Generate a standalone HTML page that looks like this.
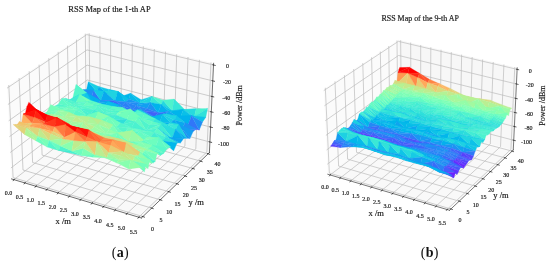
<!DOCTYPE html>
<html><head><meta charset="utf-8"><title>RSS Maps</title>
<style>
html,body{margin:0;padding:0;background:#fff}
svg{display:block}
.g{stroke:#bcbcbc;stroke-width:.75;fill:none}
.a{stroke:#222;stroke-width:.65;fill:none;stroke-linecap:round}
.t{stroke:#111;stroke-width:.7;fill:none}
text{font-family:"Liberation Serif",serif;fill:#1a1a1a;text-anchor:middle;stroke:#1a1a1a;stroke-width:.18px}
.tk{font-size:6px}
.al{font-size:8.5px}
.pw{font-size:8.0px}
.ti{font-size:8.45px}
.cap{font-size:14px;fill:#111;stroke:none;letter-spacing:.25px}
.cap tspan{font-weight:bold}
</style></head><body>
<svg width="550" height="264" viewBox="0 0 550 264">
<rect width="550" height="264" fill="#fff"/>
<g id="plotA">
<polygon points="11.4,178.9 87.7,119.6 86.8,32.8 7.0,86.2" fill="#fbfbfb"/>
<polygon points="87.7,119.6 209.4,152.6 213.6,63.2 86.8,32.8" fill="#f7f7f7"/>
<polygon points="11.4,178.9 141.4,218.0 209.4,152.6 87.7,119.6" fill="#f9f9f9"/>
<line class="g" x1="13.9" y1="179.7" x2="90.1" y2="120.3"/>
<line class="g" x1="90.1" y1="120.3" x2="89.2" y2="33.4"/>
<line class="g" x1="24.8" y1="182.9" x2="100.3" y2="123.0"/>
<line class="g" x1="100.3" y1="123.0" x2="99.9" y2="35.9"/>
<line class="g" x1="35.8" y1="186.2" x2="110.6" y2="125.8"/>
<line class="g" x1="110.6" y1="125.8" x2="110.6" y2="38.5"/>
<line class="g" x1="46.8" y1="189.5" x2="121.0" y2="128.7"/>
<line class="g" x1="121.0" y1="128.7" x2="121.4" y2="41.1"/>
<line class="g" x1="58.0" y1="192.9" x2="131.4" y2="131.5"/>
<line class="g" x1="131.4" y1="131.5" x2="132.3" y2="43.7"/>
<line class="g" x1="69.2" y1="196.3" x2="142.0" y2="134.3"/>
<line class="g" x1="142.0" y1="134.3" x2="143.3" y2="46.3"/>
<line class="g" x1="80.6" y1="199.7" x2="152.6" y2="137.2"/>
<line class="g" x1="152.6" y1="137.2" x2="154.3" y2="49.0"/>
<line class="g" x1="92.0" y1="203.1" x2="163.3" y2="140.1"/>
<line class="g" x1="163.3" y1="140.1" x2="165.5" y2="51.6"/>
<line class="g" x1="103.5" y1="206.6" x2="174.0" y2="143.0"/>
<line class="g" x1="174.0" y1="143.0" x2="176.7" y2="54.3"/>
<line class="g" x1="115.1" y1="210.1" x2="184.9" y2="146.0"/>
<line class="g" x1="184.9" y1="146.0" x2="188.0" y2="57.0"/>
<line class="g" x1="126.9" y1="213.6" x2="195.8" y2="148.9"/>
<line class="g" x1="195.8" y1="148.9" x2="199.4" y2="59.8"/>
<line class="g" x1="138.7" y1="217.2" x2="206.9" y2="151.9"/>
<line class="g" x1="206.9" y1="151.9" x2="211.0" y2="62.5"/>
<line class="g" x1="13.1" y1="177.6" x2="142.9" y2="216.6"/>
<line class="g" x1="13.1" y1="177.6" x2="8.8" y2="85.0"/>
<line class="g" x1="23.0" y1="170.0" x2="151.7" y2="208.1"/>
<line class="g" x1="23.0" y1="170.0" x2="19.1" y2="78.1"/>
<line class="g" x1="32.6" y1="162.5" x2="160.3" y2="199.8"/>
<line class="g" x1="32.6" y1="162.5" x2="29.2" y2="71.3"/>
<line class="g" x1="42.1" y1="155.1" x2="168.8" y2="191.7"/>
<line class="g" x1="42.1" y1="155.1" x2="39.1" y2="64.7"/>
<line class="g" x1="51.3" y1="147.9" x2="177.0" y2="183.8"/>
<line class="g" x1="51.3" y1="147.9" x2="48.8" y2="58.2"/>
<line class="g" x1="60.3" y1="140.9" x2="185.1" y2="176.0"/>
<line class="g" x1="60.3" y1="140.9" x2="58.2" y2="51.9"/>
<line class="g" x1="69.2" y1="134.0" x2="192.9" y2="168.5"/>
<line class="g" x1="69.2" y1="134.0" x2="67.5" y2="45.7"/>
<line class="g" x1="77.8" y1="127.3" x2="200.6" y2="161.1"/>
<line class="g" x1="77.8" y1="127.3" x2="76.5" y2="39.7"/>
<line class="g" x1="86.3" y1="120.7" x2="208.2" y2="153.8"/>
<line class="g" x1="86.3" y1="120.7" x2="85.3" y2="33.7"/>
<line class="g" x1="10.9" y1="168.0" x2="87.6" y2="109.4"/>
<line class="g" x1="87.6" y1="109.4" x2="209.9" y2="142.0"/>
<line class="g" x1="10.2" y1="152.5" x2="87.5" y2="94.8"/>
<line class="g" x1="87.5" y1="94.8" x2="210.6" y2="127.1"/>
<line class="g" x1="9.4" y1="136.7" x2="87.3" y2="80.0"/>
<line class="g" x1="87.3" y1="80.0" x2="211.3" y2="111.9"/>
<line class="g" x1="8.7" y1="120.8" x2="87.1" y2="65.1"/>
<line class="g" x1="87.1" y1="65.1" x2="212.0" y2="96.5"/>
<line class="g" x1="7.9" y1="104.5" x2="87.0" y2="49.9"/>
<line class="g" x1="87.0" y1="49.9" x2="212.8" y2="80.9"/>
<line class="g" x1="7.1" y1="88.1" x2="86.8" y2="34.6"/>
<line class="g" x1="86.8" y1="34.6" x2="213.5" y2="65.0"/>
<line class="a" x1="11.4" y1="178.9" x2="141.4" y2="218.0"/>
<line class="a" x1="141.4" y1="218.0" x2="209.4" y2="152.6"/>
<line class="a" x1="209.4" y1="152.6" x2="213.6" y2="63.2"/>
<line class="t" x1="14.6" y1="178.8" x2="12.9" y2="181.1"/>
<line class="t" x1="25.5" y1="182.0" x2="23.8" y2="184.3"/>
<line class="t" x1="36.5" y1="185.3" x2="34.8" y2="187.6"/>
<line class="t" x1="47.5" y1="188.6" x2="45.8" y2="190.9"/>
<line class="t" x1="58.7" y1="192.0" x2="57.0" y2="194.3"/>
<line class="t" x1="69.9" y1="195.4" x2="68.2" y2="197.7"/>
<line class="t" x1="81.3" y1="198.8" x2="79.6" y2="201.1"/>
<line class="t" x1="92.7" y1="202.2" x2="91.0" y2="204.5"/>
<line class="t" x1="104.2" y1="205.7" x2="102.5" y2="208.0"/>
<line class="t" x1="115.8" y1="209.2" x2="114.1" y2="211.5"/>
<line class="t" x1="127.6" y1="212.7" x2="125.9" y2="215.0"/>
<line class="t" x1="139.4" y1="216.3" x2="137.7" y2="218.6"/>
<line class="t" x1="141.7" y1="216.2" x2="144.9" y2="217.3"/>
<line class="t" x1="150.5" y1="207.7" x2="153.7" y2="208.8"/>
<line class="t" x1="159.1" y1="199.4" x2="162.3" y2="200.5"/>
<line class="t" x1="167.6" y1="191.3" x2="170.8" y2="192.4"/>
<line class="t" x1="175.8" y1="183.4" x2="179.0" y2="184.5"/>
<line class="t" x1="183.9" y1="175.6" x2="187.1" y2="176.7"/>
<line class="t" x1="191.7" y1="168.1" x2="194.9" y2="169.2"/>
<line class="t" x1="199.4" y1="160.7" x2="202.6" y2="161.8"/>
<line class="t" x1="207.0" y1="153.4" x2="210.2" y2="154.5"/>
<line class="t" x1="208.7" y1="141.7" x2="212.1" y2="142.5"/>
<line class="t" x1="209.4" y1="126.8" x2="212.8" y2="127.6"/>
<line class="t" x1="210.1" y1="111.6" x2="213.5" y2="112.4"/>
<line class="t" x1="210.8" y1="96.2" x2="214.2" y2="97.0"/>
<line class="t" x1="211.6" y1="80.6" x2="215.0" y2="81.4"/>
<line class="t" x1="212.3" y1="64.7" x2="215.7" y2="65.5"/>
<polygon points="86.6,89.5 97.0,92.0 88.3,81.8" fill="#01b3ec" stroke="#01b3ec" stroke-width="0.3" stroke-linejoin="round"/>
<polygon points="97.0,92.0 98.7,86.5 88.3,81.8" fill="#1acfe3" stroke="#1acfe3" stroke-width="0.3" stroke-linejoin="round"/>
<polygon points="93.6,90.3 97.0,92.0 86.6,89.5" fill="#0ea5ef" stroke="#0ea5ef" stroke-width="0.3" stroke-linejoin="round"/>
<polygon points="83.2,89.7 93.6,90.3 86.6,89.5" fill="#01b3ec" stroke="#01b3ec" stroke-width="0.3" stroke-linejoin="round"/>
<polygon points="97.0,92.0 107.5,93.5 98.7,86.5" fill="#06aeed" stroke="#06aeed" stroke-width="0.3" stroke-linejoin="round"/>
<polygon points="107.5,93.5 109.2,89.5 98.7,86.5" fill="#12c8e6" stroke="#12c8e6" stroke-width="0.3" stroke-linejoin="round"/>
<polygon points="79.7,92.8 90.2,101.9 83.2,89.7" fill="#2e7bf7" stroke="#2e7bf7" stroke-width="0.3" stroke-linejoin="round"/>
<polygon points="90.2,101.9 93.6,90.3 83.2,89.7" fill="#1e91f3" stroke="#1e91f3" stroke-width="0.3" stroke-linejoin="round"/>
<polygon points="104.1,91.3 107.5,93.5 97.0,92.0" fill="#04b9ea" stroke="#04b9ea" stroke-width="0.3" stroke-linejoin="round"/>
<polygon points="93.6,90.3 104.1,91.3 97.0,92.0" fill="#18cde4" stroke="#18cde4" stroke-width="0.3" stroke-linejoin="round"/>
<polygon points="107.5,93.5 118.1,91.5 109.2,89.5" fill="#1fd3e1" stroke="#1fd3e1" stroke-width="0.3" stroke-linejoin="round"/>
<polygon points="118.1,91.5 119.8,96.9 109.2,89.5" fill="#12c8e6" stroke="#12c8e6" stroke-width="0.3" stroke-linejoin="round"/>
<polygon points="90.2,101.9 100.8,100.6 93.6,90.3" fill="#2e7bf7" stroke="#2e7bf7" stroke-width="0.3" stroke-linejoin="round"/>
<polygon points="104.1,91.3 118.1,91.5 107.5,93.5" fill="#2adddd" stroke="#2adddd" stroke-width="0.3" stroke-linejoin="round"/>
<polygon points="118.1,91.5 128.8,99.0 119.8,96.9" fill="#00b5eb" stroke="#00b5eb" stroke-width="0.3" stroke-linejoin="round"/>
<polygon points="86.7,92.9 90.2,101.9 79.7,92.8" fill="#11a0f1" stroke="#11a0f1" stroke-width="0.3" stroke-linejoin="round"/>
<polygon points="128.8,99.0 130.5,93.2 119.8,96.9" fill="#00b5eb" stroke="#00b5eb" stroke-width="0.3" stroke-linejoin="round"/>
<polygon points="100.8,100.6 104.1,91.3 93.6,90.3" fill="#14cae5" stroke="#14cae5" stroke-width="0.3" stroke-linejoin="round"/>
<polygon points="104.1,91.3 114.8,100.7 118.1,91.5" fill="#1fd3e1" stroke="#1fd3e1" stroke-width="0.3" stroke-linejoin="round"/>
<polygon points="86.7,92.9 100.8,100.6 90.2,101.9" fill="#208ef4" stroke="#208ef4" stroke-width="0.3" stroke-linejoin="round"/>
<polygon points="100.8,100.6 114.8,100.7 104.1,91.3" fill="#09a9ee" stroke="#09a9ee" stroke-width="0.3" stroke-linejoin="round"/>
<polygon points="76.0,84.6 86.7,92.9 79.7,92.8" fill="#58f8c9" stroke="#58f8c9" stroke-width="0.3" stroke-linejoin="round"/>
<polygon points="114.8,100.7 125.5,101.9 118.1,91.5" fill="#00b5eb" stroke="#00b5eb" stroke-width="0.3" stroke-linejoin="round"/>
<polygon points="125.5,101.9 128.8,99.0 118.1,91.5" fill="#0ac0e8" stroke="#0ac0e8" stroke-width="0.3" stroke-linejoin="round"/>
<polygon points="100.8,100.6 111.4,105.0 114.8,100.7" fill="#3e65fa" stroke="#3e65fa" stroke-width="0.3" stroke-linejoin="round"/>
<polygon points="128.8,99.0 139.5,102.9 130.5,93.2" fill="#04b9ea" stroke="#04b9ea" stroke-width="0.3" stroke-linejoin="round"/>
<polygon points="139.5,102.9 141.1,99.7 130.5,93.2" fill="#08bee9" stroke="#08bee9" stroke-width="0.3" stroke-linejoin="round"/>
<polygon points="125.5,101.9 139.5,102.9 128.8,99.0" fill="#1996f3" stroke="#1996f3" stroke-width="0.3" stroke-linejoin="round"/>
<polygon points="86.7,92.9 97.3,102.9 100.8,100.6" fill="#04b0ed" stroke="#04b0ed" stroke-width="0.3" stroke-linejoin="round"/>
<polygon points="72.7,98.3 86.7,92.9 76.0,84.6" fill="#56f7ca" stroke="#56f7ca" stroke-width="0.3" stroke-linejoin="round"/>
<polygon points="111.4,105.0 122.1,105.8 114.8,100.7" fill="#3c68f9" stroke="#3c68f9" stroke-width="0.3" stroke-linejoin="round"/>
<polygon points="122.1,105.8 125.5,101.9 114.8,100.7" fill="#2884f6" stroke="#2884f6" stroke-width="0.3" stroke-linejoin="round"/>
<polygon points="72.7,98.3 83.2,99.7 86.7,92.9" fill="#1acfe3" stroke="#1acfe3" stroke-width="0.3" stroke-linejoin="round"/>
<polygon points="108.0,101.3 111.4,105.0 100.8,100.6" fill="#208ef4" stroke="#208ef4" stroke-width="0.3" stroke-linejoin="round"/>
<polygon points="139.5,102.9 152.1,96.4 141.1,99.7" fill="#18cde4" stroke="#18cde4" stroke-width="0.3" stroke-linejoin="round"/>
<polygon points="97.3,102.9 108.0,101.3 100.8,100.6" fill="#149df1" stroke="#149df1" stroke-width="0.3" stroke-linejoin="round"/>
<polygon points="125.5,101.9 136.2,105.4 139.5,102.9" fill="#208ef4" stroke="#208ef4" stroke-width="0.3" stroke-linejoin="round"/>
<polygon points="93.9,105.3 97.3,102.9 86.7,92.9" fill="#00b5eb" stroke="#00b5eb" stroke-width="0.3" stroke-linejoin="round"/>
<polygon points="83.2,99.7 93.9,105.3 86.7,92.9" fill="#12c8e6" stroke="#12c8e6" stroke-width="0.3" stroke-linejoin="round"/>
<polygon points="136.2,105.4 150.4,102.5 139.5,102.9" fill="#11a0f1" stroke="#11a0f1" stroke-width="0.3" stroke-linejoin="round"/>
<polygon points="139.5,102.9 150.4,102.5 152.1,96.4" fill="#20d5e1" stroke="#20d5e1" stroke-width="0.3" stroke-linejoin="round"/>
<polygon points="108.0,101.3 122.1,105.8 111.4,105.0" fill="#208ef4" stroke="#208ef4" stroke-width="0.3" stroke-linejoin="round"/>
<polygon points="79.6,94.6 83.2,99.7 72.7,98.3" fill="#30e1da" stroke="#30e1da" stroke-width="0.3" stroke-linejoin="round"/>
<polygon points="69.1,100.1 79.6,94.6 72.7,98.3" fill="#2ddedc" stroke="#2ddedc" stroke-width="0.3" stroke-linejoin="round"/>
<polygon points="132.9,109.4 136.2,105.4 125.5,101.9" fill="#2686f5" stroke="#2686f5" stroke-width="0.3" stroke-linejoin="round"/>
<polygon points="122.1,105.8 132.9,109.4 125.5,101.9" fill="#2981f6" stroke="#2981f6" stroke-width="0.3" stroke-linejoin="round"/>
<polygon points="93.9,105.3 108.0,101.3 97.3,102.9" fill="#11a0f1" stroke="#11a0f1" stroke-width="0.3" stroke-linejoin="round"/>
<polygon points="136.2,105.4 147.1,108.5 150.4,102.5" fill="#11a0f1" stroke="#11a0f1" stroke-width="0.3" stroke-linejoin="round"/>
<polygon points="150.4,102.5 161.3,104.4 152.1,96.4" fill="#3ae8d6" stroke="#3ae8d6" stroke-width="0.3" stroke-linejoin="round"/>
<polygon points="108.0,101.3 118.8,105.8 122.1,105.8" fill="#01b3ec" stroke="#01b3ec" stroke-width="0.3" stroke-linejoin="round"/>
<polygon points="90.3,100.4 93.9,105.3 83.2,99.7" fill="#14cae5" stroke="#14cae5" stroke-width="0.3" stroke-linejoin="round"/>
<polygon points="93.9,105.3 104.6,106.6 108.0,101.3" fill="#06aeed" stroke="#06aeed" stroke-width="0.3" stroke-linejoin="round"/>
<polygon points="161.3,104.4 163.0,100.2 152.1,96.4" fill="#50f4cc" stroke="#50f4cc" stroke-width="0.3" stroke-linejoin="round"/>
<polygon points="147.1,108.5 158.0,112.7 150.4,102.5" fill="#1c93f3" stroke="#1c93f3" stroke-width="0.3" stroke-linejoin="round"/>
<polygon points="132.9,109.4 143.8,110.9 136.2,105.4" fill="#2981f6" stroke="#2981f6" stroke-width="0.3" stroke-linejoin="round"/>
<polygon points="143.8,110.9 147.1,108.5 136.2,105.4" fill="#2489f5" stroke="#2489f5" stroke-width="0.3" stroke-linejoin="round"/>
<polygon points="129.6,111.8 132.9,109.4 122.1,105.8" fill="#3473f8" stroke="#3473f8" stroke-width="0.3" stroke-linejoin="round"/>
<polygon points="65.4,98.3 76.1,102.6 69.1,100.1" fill="#2ddedc" stroke="#2ddedc" stroke-width="0.3" stroke-linejoin="round"/>
<polygon points="158.0,112.7 161.3,104.4 150.4,102.5" fill="#01b3ec" stroke="#01b3ec" stroke-width="0.3" stroke-linejoin="round"/>
<polygon points="76.1,102.6 79.6,94.6 69.1,100.1" fill="#42edd3" stroke="#42edd3" stroke-width="0.3" stroke-linejoin="round"/>
<polygon points="118.8,105.8 129.6,111.8 122.1,105.8" fill="#208ef4" stroke="#208ef4" stroke-width="0.3" stroke-linejoin="round"/>
<polygon points="79.6,94.6 90.3,100.4 83.2,99.7" fill="#56f7ca" stroke="#56f7ca" stroke-width="0.3" stroke-linejoin="round"/>
<polygon points="104.6,106.6 118.8,105.8 108.0,101.3" fill="#08bee9" stroke="#08bee9" stroke-width="0.3" stroke-linejoin="round"/>
<polygon points="90.3,100.4 104.6,106.6 93.9,105.3" fill="#0fc4e7" stroke="#0fc4e7" stroke-width="0.3" stroke-linejoin="round"/>
<polygon points="161.3,104.4 172.2,110.7 163.0,100.2" fill="#24d8df" stroke="#24d8df" stroke-width="0.3" stroke-linejoin="round"/>
<polygon points="143.8,110.9 158.0,112.7 147.1,108.5" fill="#2e7bf7" stroke="#2e7bf7" stroke-width="0.3" stroke-linejoin="round"/>
<polygon points="129.6,111.8 143.8,110.9 132.9,109.4" fill="#3176f8" stroke="#3176f8" stroke-width="0.3" stroke-linejoin="round"/>
<polygon points="104.6,106.6 115.4,111.0 118.8,105.8" fill="#11a0f1" stroke="#11a0f1" stroke-width="0.3" stroke-linejoin="round"/>
<polygon points="172.2,110.7 174.1,99.1 163.0,100.2" fill="#4ef3cd" stroke="#4ef3cd" stroke-width="0.3" stroke-linejoin="round"/>
<polygon points="115.4,111.0 129.6,111.8 118.8,105.8" fill="#1e91f3" stroke="#1e91f3" stroke-width="0.3" stroke-linejoin="round"/>
<polygon points="61.8,98.8 76.1,102.6 65.4,98.3" fill="#54f6cb" stroke="#54f6cb" stroke-width="0.3" stroke-linejoin="round"/>
<polygon points="158.0,112.7 169.1,111.5 161.3,104.4" fill="#04b0ed" stroke="#04b0ed" stroke-width="0.3" stroke-linejoin="round"/>
<polygon points="169.1,111.5 172.2,110.7 161.3,104.4" fill="#08bee9" stroke="#08bee9" stroke-width="0.3" stroke-linejoin="round"/>
<polygon points="143.8,110.9 154.7,117.2 158.0,112.7" fill="#4062fa" stroke="#4062fa" stroke-width="0.3" stroke-linejoin="round"/>
<polygon points="90.3,100.4 101.1,104.1 104.6,106.6" fill="#37e6d8" stroke="#37e6d8" stroke-width="0.3" stroke-linejoin="round"/>
<polygon points="172.2,110.7 184.9,109.7 174.1,99.1" fill="#37e6d8" stroke="#37e6d8" stroke-width="0.3" stroke-linejoin="round"/>
<polygon points="76.1,102.6 86.8,101.9 79.6,94.6" fill="#6afdc0" stroke="#6afdc0" stroke-width="0.3" stroke-linejoin="round"/>
<polygon points="86.8,101.9 90.3,100.4 79.6,94.6" fill="#7affb7" stroke="#7affb7" stroke-width="0.3" stroke-linejoin="round"/>
<polygon points="115.4,111.0 126.2,114.4 129.6,111.8" fill="#3079f7" stroke="#3079f7" stroke-width="0.3" stroke-linejoin="round"/>
<polygon points="154.7,117.2 169.1,111.5 158.0,112.7" fill="#3176f8" stroke="#3176f8" stroke-width="0.3" stroke-linejoin="round"/>
<polygon points="129.6,111.8 140.6,109.8 143.8,110.9" fill="#11a0f1" stroke="#11a0f1" stroke-width="0.3" stroke-linejoin="round"/>
<polygon points="172.2,110.7 183.4,109.6 184.9,109.7" fill="#10c6e6" stroke="#10c6e6" stroke-width="0.3" stroke-linejoin="round"/>
<polygon points="111.9,106.3 115.4,111.0 104.6,106.6" fill="#0dc2e8" stroke="#0dc2e8" stroke-width="0.3" stroke-linejoin="round"/>
<polygon points="61.8,98.8 72.5,104.5 76.1,102.6" fill="#50f4cc" stroke="#50f4cc" stroke-width="0.3" stroke-linejoin="round"/>
<polygon points="140.6,109.8 154.7,117.2 143.8,110.9" fill="#208ef4" stroke="#208ef4" stroke-width="0.3" stroke-linejoin="round"/>
<polygon points="169.1,111.5 183.4,109.6 172.2,110.7" fill="#0dc2e8" stroke="#0dc2e8" stroke-width="0.3" stroke-linejoin="round"/>
<polygon points="126.2,114.4 140.6,109.8 129.6,111.8" fill="#1898f2" stroke="#1898f2" stroke-width="0.3" stroke-linejoin="round"/>
<polygon points="101.1,104.1 111.9,106.3 104.6,106.6" fill="#37e6d8" stroke="#37e6d8" stroke-width="0.3" stroke-linejoin="round"/>
<polygon points="72.5,104.5 86.8,101.9 76.1,102.6" fill="#50f4cc" stroke="#50f4cc" stroke-width="0.3" stroke-linejoin="round"/>
<polygon points="86.8,101.9 101.1,104.1 90.3,100.4" fill="#62fbc4" stroke="#62fbc4" stroke-width="0.3" stroke-linejoin="round"/>
<polygon points="111.9,106.3 126.2,114.4 115.4,111.0" fill="#00b5eb" stroke="#00b5eb" stroke-width="0.3" stroke-linejoin="round"/>
<polygon points="183.4,109.6 196.2,108.8 184.9,109.7" fill="#37e6d8" stroke="#37e6d8" stroke-width="0.3" stroke-linejoin="round"/>
<polygon points="154.7,117.2 165.9,114.1 169.1,111.5" fill="#1898f2" stroke="#1898f2" stroke-width="0.3" stroke-linejoin="round"/>
<polygon points="169.1,111.5 180.1,118.3 183.4,109.6" fill="#00b5eb" stroke="#00b5eb" stroke-width="0.3" stroke-linejoin="round"/>
<polygon points="140.6,109.8 151.5,117.2 154.7,117.2" fill="#2489f5" stroke="#2489f5" stroke-width="0.3" stroke-linejoin="round"/>
<polygon points="68.8,105.7 72.5,104.5 61.8,98.8" fill="#5efac6" stroke="#5efac6" stroke-width="0.3" stroke-linejoin="round"/>
<polygon points="58.2,104.3 68.8,105.7 61.8,98.8" fill="#5efac6" stroke="#5efac6" stroke-width="0.3" stroke-linejoin="round"/>
<polygon points="151.5,117.2 165.9,114.1 154.7,117.2" fill="#2c7ef7" stroke="#2c7ef7" stroke-width="0.3" stroke-linejoin="round"/>
<polygon points="86.8,101.9 97.6,105.4 101.1,104.1" fill="#66fcc2" stroke="#66fcc2" stroke-width="0.3" stroke-linejoin="round"/>
<polygon points="183.4,109.6 194.4,116.4 196.2,108.8" fill="#27dade" stroke="#27dade" stroke-width="0.3" stroke-linejoin="round"/>
<polygon points="165.9,114.1 180.1,118.3 169.1,111.5" fill="#0ca7ef" stroke="#0ca7ef" stroke-width="0.3" stroke-linejoin="round"/>
<polygon points="72.5,104.5 83.2,106.0 86.8,101.9" fill="#5df9c7" stroke="#5df9c7" stroke-width="0.3" stroke-linejoin="round"/>
<polygon points="126.2,114.4 137.3,109.9 140.6,109.8" fill="#17cbe4" stroke="#17cbe4" stroke-width="0.3" stroke-linejoin="round"/>
<polygon points="83.2,106.0 97.6,105.4 86.8,101.9" fill="#6afdc0" stroke="#6afdc0" stroke-width="0.3" stroke-linejoin="round"/>
<polygon points="180.1,118.3 191.5,115.7 183.4,109.6" fill="#0ac0e8" stroke="#0ac0e8" stroke-width="0.3" stroke-linejoin="round"/>
<polygon points="108.5,110.3 111.9,106.3 101.1,104.1" fill="#52f5cb" stroke="#52f5cb" stroke-width="0.3" stroke-linejoin="round"/>
<polygon points="191.5,115.7 194.4,116.4 183.4,109.6" fill="#17cbe4" stroke="#17cbe4" stroke-width="0.3" stroke-linejoin="round"/>
<polygon points="54.5,106.3 68.8,105.7 58.2,104.3" fill="#50f4cc" stroke="#50f4cc" stroke-width="0.3" stroke-linejoin="round"/>
<polygon points="137.3,109.9 151.5,117.2 140.6,109.8" fill="#18cde4" stroke="#18cde4" stroke-width="0.3" stroke-linejoin="round"/>
<polygon points="97.6,105.4 108.5,110.3 101.1,104.1" fill="#56f7ca" stroke="#56f7ca" stroke-width="0.3" stroke-linejoin="round"/>
<polygon points="111.9,106.3 122.9,107.7 126.2,114.4" fill="#37e6d8" stroke="#37e6d8" stroke-width="0.3" stroke-linejoin="round"/>
<polygon points="194.4,116.4 207.6,108.4 196.2,108.8" fill="#48f1d0" stroke="#48f1d0" stroke-width="0.3" stroke-linejoin="round"/>
<polygon points="79.6,108.6 83.2,106.0 72.5,104.5" fill="#54f6cb" stroke="#54f6cb" stroke-width="0.3" stroke-linejoin="round"/>
<polygon points="68.8,105.7 79.6,108.6 72.5,104.5" fill="#56f7ca" stroke="#56f7ca" stroke-width="0.3" stroke-linejoin="round"/>
<polygon points="165.9,114.1 177.1,115.9 180.1,118.3" fill="#04b0ed" stroke="#04b0ed" stroke-width="0.3" stroke-linejoin="round"/>
<polygon points="151.5,117.2 162.7,114.5 165.9,114.1" fill="#07bbea" stroke="#07bbea" stroke-width="0.3" stroke-linejoin="round"/>
<polygon points="133.9,113.9 137.3,109.9 126.2,114.4" fill="#1fd3e1" stroke="#1fd3e1" stroke-width="0.3" stroke-linejoin="round"/>
<polygon points="83.2,106.0 94.1,109.7 97.6,105.4" fill="#5df9c7" stroke="#5df9c7" stroke-width="0.3" stroke-linejoin="round"/>
<polygon points="191.5,115.7 205.8,117.2 194.4,116.4" fill="#0dc2e8" stroke="#0dc2e8" stroke-width="0.3" stroke-linejoin="round"/>
<polygon points="194.4,116.4 205.8,117.2 207.6,108.4" fill="#30e1da" stroke="#30e1da" stroke-width="0.3" stroke-linejoin="round"/>
<polygon points="137.3,109.9 148.2,117.8 151.5,117.2" fill="#0ac0e8" stroke="#0ac0e8" stroke-width="0.3" stroke-linejoin="round"/>
<polygon points="122.9,107.7 133.9,113.9 126.2,114.4" fill="#2ddedc" stroke="#2ddedc" stroke-width="0.3" stroke-linejoin="round"/>
<polygon points="177.1,115.9 191.5,115.7 180.1,118.3" fill="#04b9ea" stroke="#04b9ea" stroke-width="0.3" stroke-linejoin="round"/>
<polygon points="108.5,110.3 122.9,107.7 111.9,106.3" fill="#5efac6" stroke="#5efac6" stroke-width="0.3" stroke-linejoin="round"/>
<polygon points="54.5,106.3 65.2,108.1 68.8,105.7" fill="#5df9c7" stroke="#5df9c7" stroke-width="0.3" stroke-linejoin="round"/>
<polygon points="148.2,117.8 162.7,114.5 151.5,117.2" fill="#00b5eb" stroke="#00b5eb" stroke-width="0.3" stroke-linejoin="round"/>
<polygon points="79.6,108.6 94.1,109.7 83.2,106.0" fill="#58f8c9" stroke="#58f8c9" stroke-width="0.3" stroke-linejoin="round"/>
<polygon points="162.7,114.5 177.1,115.9 165.9,114.1" fill="#22d6e0" stroke="#22d6e0" stroke-width="0.3" stroke-linejoin="round"/>
<polygon points="105.0,112.9 108.5,110.3 97.6,105.4" fill="#52f5cb" stroke="#52f5cb" stroke-width="0.3" stroke-linejoin="round"/>
<polygon points="94.1,109.7 105.0,112.9 97.6,105.4" fill="#54f6cb" stroke="#54f6cb" stroke-width="0.3" stroke-linejoin="round"/>
<polygon points="191.5,115.7 202.6,121.9 205.8,117.2" fill="#0dc2e8" stroke="#0dc2e8" stroke-width="0.3" stroke-linejoin="round"/>
<polygon points="177.1,115.9 188.1,124.9 191.5,115.7" fill="#01b3ec" stroke="#01b3ec" stroke-width="0.3" stroke-linejoin="round"/>
<polygon points="108.5,110.3 119.4,111.5 122.9,107.7" fill="#60fac5" stroke="#60fac5" stroke-width="0.3" stroke-linejoin="round"/>
<polygon points="76.0,110.1 79.6,108.6 68.8,105.7" fill="#66fcc2" stroke="#66fcc2" stroke-width="0.3" stroke-linejoin="round"/>
<polygon points="65.2,108.1 76.0,110.1 68.8,105.7" fill="#68fcc1" stroke="#68fcc1" stroke-width="0.3" stroke-linejoin="round"/>
<polygon points="79.6,108.6 90.5,114.0 94.1,109.7" fill="#4af2cf" stroke="#4af2cf" stroke-width="0.3" stroke-linejoin="round"/>
<polygon points="61.4,109.8 65.2,108.1 54.5,106.3" fill="#64fbc3" stroke="#64fbc3" stroke-width="0.3" stroke-linejoin="round"/>
<polygon points="148.2,117.8 159.3,122.5 162.7,114.5" fill="#04b9ea" stroke="#04b9ea" stroke-width="0.3" stroke-linejoin="round"/>
<polygon points="162.7,114.5 173.9,120.0 177.1,115.9" fill="#20d5e1" stroke="#20d5e1" stroke-width="0.3" stroke-linejoin="round"/>
<polygon points="188.1,124.9 199.3,130.0 191.5,115.7" fill="#3176f8" stroke="#3176f8" stroke-width="0.3" stroke-linejoin="round"/>
<polygon points="119.4,111.5 133.9,113.9 122.9,107.7" fill="#5efac6" stroke="#5efac6" stroke-width="0.3" stroke-linejoin="round"/>
<polygon points="145.0,113.7 148.2,117.8 137.3,109.9" fill="#40ecd4" stroke="#40ecd4" stroke-width="0.3" stroke-linejoin="round"/>
<polygon points="50.6,104.8 61.4,109.8 54.5,106.3" fill="#76ffb9" stroke="#76ffb9" stroke-width="0.3" stroke-linejoin="round"/>
<polygon points="199.3,130.0 202.6,121.9 191.5,115.7" fill="#208ef4" stroke="#208ef4" stroke-width="0.3" stroke-linejoin="round"/>
<polygon points="105.0,112.9 119.4,111.5 108.5,110.3" fill="#50f4cc" stroke="#50f4cc" stroke-width="0.3" stroke-linejoin="round"/>
<polygon points="90.5,114.0 105.0,112.9 94.1,109.7" fill="#42edd3" stroke="#42edd3" stroke-width="0.3" stroke-linejoin="round"/>
<polygon points="133.9,113.9 145.0,113.7 137.3,109.9" fill="#56f7ca" stroke="#56f7ca" stroke-width="0.3" stroke-linejoin="round"/>
<polygon points="185.1,122.8 188.1,124.9 177.1,115.9" fill="#09a9ee" stroke="#09a9ee" stroke-width="0.3" stroke-linejoin="round"/>
<polygon points="145.0,113.7 159.3,122.5 148.2,117.8" fill="#18cde4" stroke="#18cde4" stroke-width="0.3" stroke-linejoin="round"/>
<polygon points="173.9,120.0 185.1,122.8 177.1,115.9" fill="#12c8e6" stroke="#12c8e6" stroke-width="0.3" stroke-linejoin="round"/>
<polygon points="86.9,115.4 90.5,114.0 79.6,108.6" fill="#48f1d0" stroke="#48f1d0" stroke-width="0.3" stroke-linejoin="round"/>
<polygon points="159.3,122.5 170.6,122.5 162.7,114.5" fill="#0ac0e8" stroke="#0ac0e8" stroke-width="0.3" stroke-linejoin="round"/>
<polygon points="61.4,109.8 76.0,110.1 65.2,108.1" fill="#70febc" stroke="#70febc" stroke-width="0.3" stroke-linejoin="round"/>
<polygon points="170.6,122.5 173.9,120.0 162.7,114.5" fill="#1acfe3" stroke="#1acfe3" stroke-width="0.3" stroke-linejoin="round"/>
<polygon points="76.0,110.1 86.9,115.4 79.6,108.6" fill="#5efac6" stroke="#5efac6" stroke-width="0.3" stroke-linejoin="round"/>
<polygon points="47.0,112.0 61.4,109.8 50.6,104.8" fill="#76ffb9" stroke="#76ffb9" stroke-width="0.3" stroke-linejoin="round"/>
<polygon points="90.5,114.0 101.5,115.6 105.0,112.9" fill="#42edd3" stroke="#42edd3" stroke-width="0.3" stroke-linejoin="round"/>
<polygon points="105.0,112.9 116.0,114.9 119.4,111.5" fill="#56f7ca" stroke="#56f7ca" stroke-width="0.3" stroke-linejoin="round"/>
<polygon points="196.4,129.2 199.3,130.0 188.1,124.9" fill="#504afc" stroke="#504afc" stroke-width="0.3" stroke-linejoin="round"/>
<polygon points="119.4,111.5 130.6,109.3 133.9,113.9" fill="#76ffb9" stroke="#76ffb9" stroke-width="0.3" stroke-linejoin="round"/>
<polygon points="101.5,115.6 116.0,114.9 105.0,112.9" fill="#4ef3cd" stroke="#4ef3cd" stroke-width="0.3" stroke-linejoin="round"/>
<polygon points="185.1,122.8 196.4,129.2 188.1,124.9" fill="#2686f5" stroke="#2686f5" stroke-width="0.3" stroke-linejoin="round"/>
<polygon points="86.9,115.4 101.5,115.6 90.5,114.0" fill="#42edd3" stroke="#42edd3" stroke-width="0.3" stroke-linejoin="round"/>
<polygon points="61.4,109.8 72.3,114.9 76.0,110.1" fill="#68fcc1" stroke="#68fcc1" stroke-width="0.3" stroke-linejoin="round"/>
<polygon points="141.6,118.4 145.0,113.7 133.9,113.9" fill="#56f7ca" stroke="#56f7ca" stroke-width="0.3" stroke-linejoin="round"/>
<polygon points="145.0,113.7 156.2,119.3 159.3,122.5" fill="#32e3da" stroke="#32e3da" stroke-width="0.3" stroke-linejoin="round"/>
<polygon points="116.0,114.9 130.6,109.3 119.4,111.5" fill="#7effb5" stroke="#7effb5" stroke-width="0.3" stroke-linejoin="round"/>
<polygon points="181.8,129.1 185.1,122.8 173.9,120.0" fill="#09a9ee" stroke="#09a9ee" stroke-width="0.3" stroke-linejoin="round"/>
<polygon points="47.0,112.0 57.7,111.1 61.4,109.8" fill="#72febb" stroke="#72febb" stroke-width="0.3" stroke-linejoin="round"/>
<polygon points="170.6,122.5 181.8,129.1 173.9,120.0" fill="#09a9ee" stroke="#09a9ee" stroke-width="0.3" stroke-linejoin="round"/>
<polygon points="72.3,114.9 86.9,115.4 76.0,110.1" fill="#5af8c8" stroke="#5af8c8" stroke-width="0.3" stroke-linejoin="round"/>
<polygon points="130.6,109.3 141.6,118.4 133.9,113.9" fill="#70febc" stroke="#70febc" stroke-width="0.3" stroke-linejoin="round"/>
<polygon points="167.4,124.7 170.6,122.5 159.3,122.5" fill="#00b5eb" stroke="#00b5eb" stroke-width="0.3" stroke-linejoin="round"/>
<polygon points="156.2,119.3 167.4,124.7 159.3,122.5" fill="#12c8e6" stroke="#12c8e6" stroke-width="0.3" stroke-linejoin="round"/>
<polygon points="101.5,115.6 112.5,120.1 116.0,114.9" fill="#46efd1" stroke="#46efd1" stroke-width="0.3" stroke-linejoin="round"/>
<polygon points="181.8,129.1 196.4,129.2 185.1,122.8" fill="#1e91f3" stroke="#1e91f3" stroke-width="0.3" stroke-linejoin="round"/>
<polygon points="116.0,114.9 127.1,119.3 130.6,109.3" fill="#72febb" stroke="#72febb" stroke-width="0.3" stroke-linejoin="round"/>
<polygon points="141.6,118.4 156.2,119.3 145.0,113.7" fill="#5af8c8" stroke="#5af8c8" stroke-width="0.3" stroke-linejoin="round"/>
<polygon points="112.5,120.1 127.1,119.3 116.0,114.9" fill="#42edd3" stroke="#42edd3" stroke-width="0.3" stroke-linejoin="round"/>
<polygon points="68.6,112.2 72.3,114.9 61.4,109.8" fill="#7effb5" stroke="#7effb5" stroke-width="0.3" stroke-linejoin="round"/>
<polygon points="43.2,113.8 53.9,114.5 47.0,112.0" fill="#66fcc2" stroke="#66fcc2" stroke-width="0.3" stroke-linejoin="round"/>
<polygon points="72.3,114.9 83.3,116.0 86.9,115.4" fill="#5af8c8" stroke="#5af8c8" stroke-width="0.3" stroke-linejoin="round"/>
<polygon points="86.9,115.4 97.9,111.8 101.5,115.6" fill="#72febb" stroke="#72febb" stroke-width="0.3" stroke-linejoin="round"/>
<polygon points="53.9,114.5 57.7,111.1 47.0,112.0" fill="#76ffb9" stroke="#76ffb9" stroke-width="0.3" stroke-linejoin="round"/>
<polygon points="127.1,119.3 141.6,118.4 130.6,109.3" fill="#70febc" stroke="#70febc" stroke-width="0.3" stroke-linejoin="round"/>
<polygon points="57.7,111.1 68.6,112.2 61.4,109.8" fill="#92fda9" stroke="#92fda9" stroke-width="0.3" stroke-linejoin="round"/>
<polygon points="97.9,111.8 112.5,120.1 101.5,115.6" fill="#68fcc1" stroke="#68fcc1" stroke-width="0.3" stroke-linejoin="round"/>
<polygon points="181.8,129.1 193.3,131.2 196.4,129.2" fill="#2c7ef7" stroke="#2c7ef7" stroke-width="0.3" stroke-linejoin="round"/>
<polygon points="141.6,118.4 152.9,121.8 156.2,119.3" fill="#4df3ce" stroke="#4df3ce" stroke-width="0.3" stroke-linejoin="round"/>
<polygon points="112.5,120.1 123.6,124.0 127.1,119.3" fill="#2fe0db" stroke="#2fe0db" stroke-width="0.3" stroke-linejoin="round"/>
<polygon points="178.9,124.4 181.8,129.1 170.6,122.5" fill="#10c6e6" stroke="#10c6e6" stroke-width="0.3" stroke-linejoin="round"/>
<polygon points="152.9,121.8 167.4,124.7 156.2,119.3" fill="#38e7d7" stroke="#38e7d7" stroke-width="0.3" stroke-linejoin="round"/>
<polygon points="83.3,116.0 94.3,122.3 86.9,115.4" fill="#50f4cc" stroke="#50f4cc" stroke-width="0.3" stroke-linejoin="round"/>
<polygon points="127.1,119.3 138.3,117.4 141.6,118.4" fill="#62fbc4" stroke="#62fbc4" stroke-width="0.3" stroke-linejoin="round"/>
<polygon points="94.3,122.3 97.9,111.8 86.9,115.4" fill="#6afdc0" stroke="#6afdc0" stroke-width="0.3" stroke-linejoin="round"/>
<polygon points="167.4,124.7 178.9,124.4 170.6,122.5" fill="#2adddd" stroke="#2adddd" stroke-width="0.3" stroke-linejoin="round"/>
<polygon points="39.3,115.4 53.9,114.5 43.2,113.8" fill="#72febb" stroke="#72febb" stroke-width="0.3" stroke-linejoin="round"/>
<polygon points="79.6,116.9 83.3,116.0 72.3,114.9" fill="#72febb" stroke="#72febb" stroke-width="0.3" stroke-linejoin="round"/>
<polygon points="138.3,117.4 152.9,121.8 141.6,118.4" fill="#66fcc2" stroke="#66fcc2" stroke-width="0.3" stroke-linejoin="round"/>
<polygon points="68.6,112.2 79.6,116.9 72.3,114.9" fill="#86ffb0" stroke="#86ffb0" stroke-width="0.3" stroke-linejoin="round"/>
<polygon points="178.9,124.4 193.3,131.2 181.8,129.1" fill="#00b5eb" stroke="#00b5eb" stroke-width="0.3" stroke-linejoin="round"/>
<polygon points="97.9,111.8 109.0,116.5 112.5,120.1" fill="#84ffb2" stroke="#84ffb2" stroke-width="0.3" stroke-linejoin="round"/>
<polygon points="152.9,121.8 164.1,127.0 167.4,124.7" fill="#2fe0db" stroke="#2fe0db" stroke-width="0.3" stroke-linejoin="round"/>
<polygon points="53.9,114.5 64.9,117.1 57.7,111.1" fill="#8cfead" stroke="#8cfead" stroke-width="0.3" stroke-linejoin="round"/>
<polygon points="64.9,117.1 68.6,112.2 57.7,111.1" fill="#9bfba5" stroke="#9bfba5" stroke-width="0.3" stroke-linejoin="round"/>
<polygon points="120.1,122.9 123.6,124.0 112.5,120.1" fill="#3ae8d6" stroke="#3ae8d6" stroke-width="0.3" stroke-linejoin="round"/>
<polygon points="123.6,124.0 134.9,121.6 127.1,119.3" fill="#48f1d0" stroke="#48f1d0" stroke-width="0.3" stroke-linejoin="round"/>
<polygon points="134.9,121.6 138.3,117.4 127.1,119.3" fill="#70febc" stroke="#70febc" stroke-width="0.3" stroke-linejoin="round"/>
<polygon points="94.3,122.3 109.0,116.5 97.9,111.8" fill="#88ffaf" stroke="#88ffaf" stroke-width="0.3" stroke-linejoin="round"/>
<polygon points="109.0,116.5 120.1,122.9 112.5,120.1" fill="#66fcc2" stroke="#66fcc2" stroke-width="0.3" stroke-linejoin="round"/>
<polygon points="178.9,124.4 189.9,138.6 193.3,131.2" fill="#149df1" stroke="#149df1" stroke-width="0.3" stroke-linejoin="round"/>
<polygon points="138.3,117.4 149.5,125.0 152.9,121.8" fill="#62fbc4" stroke="#62fbc4" stroke-width="0.3" stroke-linejoin="round"/>
<polygon points="39.3,115.4 50.1,114.3 53.9,114.5" fill="#92fda9" stroke="#92fda9" stroke-width="0.3" stroke-linejoin="round"/>
<polygon points="164.1,127.0 175.6,129.3 167.4,124.7" fill="#24d8df" stroke="#24d8df" stroke-width="0.3" stroke-linejoin="round"/>
<polygon points="175.6,129.3 178.9,124.4 167.4,124.7" fill="#37e6d8" stroke="#37e6d8" stroke-width="0.3" stroke-linejoin="round"/>
<polygon points="90.6,117.2 94.3,122.3 83.3,116.0" fill="#7affb7" stroke="#7affb7" stroke-width="0.3" stroke-linejoin="round"/>
<polygon points="50.1,114.3 64.9,117.1 53.9,114.5" fill="#9bfba5" stroke="#9bfba5" stroke-width="0.3" stroke-linejoin="round"/>
<polygon points="94.3,122.3 105.4,122.7 109.0,116.5" fill="#6afdc0" stroke="#6afdc0" stroke-width="0.3" stroke-linejoin="round"/>
<polygon points="79.6,116.9 90.6,117.2 83.3,116.0" fill="#99fca6" stroke="#99fca6" stroke-width="0.3" stroke-linejoin="round"/>
<polygon points="161.0,124.2 164.1,127.0 152.9,121.8" fill="#52f5cb" stroke="#52f5cb" stroke-width="0.3" stroke-linejoin="round"/>
<polygon points="146.1,130.5 149.5,125.0 138.3,117.4" fill="#50f4cc" stroke="#50f4cc" stroke-width="0.3" stroke-linejoin="round"/>
<polygon points="149.5,125.0 161.0,124.2 152.9,121.8" fill="#5efac6" stroke="#5efac6" stroke-width="0.3" stroke-linejoin="round"/>
<polygon points="186.8,138.3 189.9,138.6 178.9,124.4" fill="#1c93f3" stroke="#1c93f3" stroke-width="0.3" stroke-linejoin="round"/>
<polygon points="120.1,122.9 131.4,127.4 123.6,124.0" fill="#44eed2" stroke="#44eed2" stroke-width="0.3" stroke-linejoin="round"/>
<polygon points="131.4,127.4 134.9,121.6 123.6,124.0" fill="#4df3ce" stroke="#4df3ce" stroke-width="0.3" stroke-linejoin="round"/>
<polygon points="35.3,115.6 46.3,121.2 39.3,115.4" fill="#82ffb3" stroke="#82ffb3" stroke-width="0.3" stroke-linejoin="round"/>
<polygon points="46.3,121.2 50.1,114.3 39.3,115.4" fill="#8bfeae" stroke="#8bfeae" stroke-width="0.3" stroke-linejoin="round"/>
<polygon points="75.8,116.5 79.6,116.9 68.6,112.2" fill="#b0f397" stroke="#b0f397" stroke-width="0.3" stroke-linejoin="round"/>
<polygon points="64.9,117.1 75.8,116.5 68.6,112.2" fill="#aef498" stroke="#aef498" stroke-width="0.3" stroke-linejoin="round"/>
<polygon points="134.9,121.6 146.1,130.5 138.3,117.4" fill="#64fbc3" stroke="#64fbc3" stroke-width="0.3" stroke-linejoin="round"/>
<polygon points="90.6,117.2 105.4,122.7 94.3,122.3" fill="#74feba" stroke="#74feba" stroke-width="0.3" stroke-linejoin="round"/>
<polygon points="175.6,129.3 186.8,138.3 178.9,124.4" fill="#1acfe3" stroke="#1acfe3" stroke-width="0.3" stroke-linejoin="round"/>
<polygon points="116.6,127.1 120.1,122.9 109.0,116.5" fill="#70febc" stroke="#70febc" stroke-width="0.3" stroke-linejoin="round"/>
<polygon points="105.4,122.7 116.6,127.1 109.0,116.5" fill="#70febc" stroke="#70febc" stroke-width="0.3" stroke-linejoin="round"/>
<polygon points="161.0,124.2 175.6,129.3 164.1,127.0" fill="#4af2cf" stroke="#4af2cf" stroke-width="0.3" stroke-linejoin="round"/>
<polygon points="50.1,114.3 61.0,117.7 64.9,117.1" fill="#abf69b" stroke="#abf69b" stroke-width="0.3" stroke-linejoin="round"/>
<polygon points="146.1,130.5 161.0,124.2 149.5,125.0" fill="#4df3ce" stroke="#4df3ce" stroke-width="0.3" stroke-linejoin="round"/>
<polygon points="33.4,118.0 46.3,121.2 35.3,115.6" fill="#8cfead" stroke="#8cfead" stroke-width="0.3" stroke-linejoin="round"/>
<polygon points="131.4,127.4 146.1,130.5 134.9,121.6" fill="#4af2cf" stroke="#4af2cf" stroke-width="0.3" stroke-linejoin="round"/>
<polygon points="75.8,116.5 90.6,117.2 79.6,116.9" fill="#b6f193" stroke="#b6f193" stroke-width="0.3" stroke-linejoin="round"/>
<polygon points="116.6,127.1 131.4,127.4 120.1,122.9" fill="#54f6cb" stroke="#54f6cb" stroke-width="0.3" stroke-linejoin="round"/>
<polygon points="161.0,124.2 172.1,138.3 175.6,129.3" fill="#2adddd" stroke="#2adddd" stroke-width="0.3" stroke-linejoin="round"/>
<polygon points="61.0,117.7 72.1,121.6 64.9,117.1" fill="#a2f9a0" stroke="#a2f9a0" stroke-width="0.3" stroke-linejoin="round"/>
<polygon points="72.1,121.6 75.8,116.5 64.9,117.1" fill="#abf69b" stroke="#abf69b" stroke-width="0.3" stroke-linejoin="round"/>
<polygon points="46.3,121.2 57.3,121.4 50.1,114.3" fill="#9cfba4" stroke="#9cfba4" stroke-width="0.3" stroke-linejoin="round"/>
<polygon points="33.4,118.0 44.3,119.0 46.3,121.2" fill="#92fda9" stroke="#92fda9" stroke-width="0.3" stroke-linejoin="round"/>
<polygon points="90.6,117.2 101.8,120.2 105.4,122.7" fill="#a4f89f" stroke="#a4f89f" stroke-width="0.3" stroke-linejoin="round"/>
<polygon points="183.7,138.4 186.8,138.3 175.6,129.3" fill="#06aeed" stroke="#06aeed" stroke-width="0.3" stroke-linejoin="round"/>
<polygon points="101.8,120.2 116.6,127.1 105.4,122.7" fill="#7dffb6" stroke="#7dffb6" stroke-width="0.3" stroke-linejoin="round"/>
<polygon points="131.4,127.4 142.7,130.3 146.1,130.5" fill="#3ae8d6" stroke="#3ae8d6" stroke-width="0.3" stroke-linejoin="round"/>
<polygon points="172.1,138.3 183.7,138.4 175.6,129.3" fill="#06aeed" stroke="#06aeed" stroke-width="0.3" stroke-linejoin="round"/>
<polygon points="57.3,121.4 61.0,117.7 50.1,114.3" fill="#b2f396" stroke="#b2f396" stroke-width="0.3" stroke-linejoin="round"/>
<polygon points="146.1,130.5 157.6,128.3 161.0,124.2" fill="#5df9c7" stroke="#5df9c7" stroke-width="0.3" stroke-linejoin="round"/>
<polygon points="75.8,116.5 87.0,123.0 90.6,117.2" fill="#b6f193" stroke="#b6f193" stroke-width="0.3" stroke-linejoin="round"/>
<polygon points="157.6,128.3 172.1,138.3 161.0,124.2" fill="#40ecd4" stroke="#40ecd4" stroke-width="0.3" stroke-linejoin="round"/>
<polygon points="116.6,127.1 127.9,128.2 131.4,127.4" fill="#56f7ca" stroke="#56f7ca" stroke-width="0.3" stroke-linejoin="round"/>
<polygon points="31.0,105.5 44.3,119.0 33.4,118.0" fill="#ecc86f" stroke="#ecc86f" stroke-width="0.3" stroke-linejoin="round"/>
<polygon points="44.3,119.0 55.4,124.6 46.3,121.2" fill="#8efeac" stroke="#8efeac" stroke-width="0.3" stroke-linejoin="round"/>
<polygon points="127.9,128.2 142.7,130.3 131.4,127.4" fill="#56f7ca" stroke="#56f7ca" stroke-width="0.3" stroke-linejoin="round"/>
<polygon points="157.6,128.3 168.9,137.7 172.1,138.3" fill="#14cae5" stroke="#14cae5" stroke-width="0.3" stroke-linejoin="round"/>
<polygon points="168.9,137.7 183.7,138.4 172.1,138.3" fill="#169bf2" stroke="#169bf2" stroke-width="0.3" stroke-linejoin="round"/>
<polygon points="55.4,124.6 57.3,121.4 46.3,121.2" fill="#8bfeae" stroke="#8bfeae" stroke-width="0.3" stroke-linejoin="round"/>
<polygon points="142.7,130.3 154.2,132.6 146.1,130.5" fill="#40ecd4" stroke="#40ecd4" stroke-width="0.3" stroke-linejoin="round"/>
<polygon points="154.2,132.6 157.6,128.3 146.1,130.5" fill="#4df3ce" stroke="#4df3ce" stroke-width="0.3" stroke-linejoin="round"/>
<polygon points="87.0,123.0 98.2,124.2 90.6,117.2" fill="#acf59a" stroke="#acf59a" stroke-width="0.3" stroke-linejoin="round"/>
<polygon points="101.8,120.2 113.1,124.9 116.6,127.1" fill="#92fda9" stroke="#92fda9" stroke-width="0.3" stroke-linejoin="round"/>
<polygon points="98.2,124.2 101.8,120.2 90.6,117.2" fill="#bced8f" stroke="#bced8f" stroke-width="0.3" stroke-linejoin="round"/>
<polygon points="68.4,126.6 72.1,121.6 61.0,117.7" fill="#9efaa2" stroke="#9efaa2" stroke-width="0.3" stroke-linejoin="round"/>
<polygon points="57.3,121.4 68.4,126.6 61.0,117.7" fill="#9efaa2" stroke="#9efaa2" stroke-width="0.3" stroke-linejoin="round"/>
<polygon points="83.3,122.6 87.0,123.0 75.8,116.5" fill="#b6f193" stroke="#b6f193" stroke-width="0.3" stroke-linejoin="round"/>
<polygon points="72.1,121.6 83.3,122.6 75.8,116.5" fill="#beec8e" stroke="#beec8e" stroke-width="0.3" stroke-linejoin="round"/>
<polygon points="124.4,133.5 127.9,128.2 116.6,127.1" fill="#54f6cb" stroke="#54f6cb" stroke-width="0.3" stroke-linejoin="round"/>
<polygon points="113.1,124.9 124.4,133.5 116.6,127.1" fill="#68fcc1" stroke="#68fcc1" stroke-width="0.3" stroke-linejoin="round"/>
<polygon points="31.0,105.5 42.2,115.9 44.3,119.0" fill="#ff9b52" stroke="#ff9b52" stroke-width="0.3" stroke-linejoin="round"/>
<polygon points="127.9,128.2 139.3,130.9 142.7,130.3" fill="#66fcc2" stroke="#66fcc2" stroke-width="0.3" stroke-linejoin="round"/>
<polygon points="168.9,137.7 180.4,143.0 183.7,138.4" fill="#0ea5ef" stroke="#0ea5ef" stroke-width="0.3" stroke-linejoin="round"/>
<polygon points="53.4,123.0 55.4,124.6 44.3,119.0" fill="#a6f89d" stroke="#a6f89d" stroke-width="0.3" stroke-linejoin="round"/>
<polygon points="55.4,124.6 66.5,129.7 57.3,121.4" fill="#84ffb2" stroke="#84ffb2" stroke-width="0.3" stroke-linejoin="round"/>
<polygon points="42.2,115.9 53.4,123.0 44.3,119.0" fill="#d0e082" stroke="#d0e082" stroke-width="0.3" stroke-linejoin="round"/>
<polygon points="68.4,126.6 83.3,122.6 72.1,121.6" fill="#a4f89f" stroke="#a4f89f" stroke-width="0.3" stroke-linejoin="round"/>
<polygon points="66.5,129.7 68.4,126.6 57.3,121.4" fill="#82ffb3" stroke="#82ffb3" stroke-width="0.3" stroke-linejoin="round"/>
<polygon points="165.7,136.9 168.9,137.7 157.6,128.3" fill="#3febd5" stroke="#3febd5" stroke-width="0.3" stroke-linejoin="round"/>
<polygon points="139.3,130.9 154.2,132.6 142.7,130.3" fill="#60fac5" stroke="#60fac5" stroke-width="0.3" stroke-linejoin="round"/>
<polygon points="109.5,129.6 113.1,124.9 101.8,120.2" fill="#a4f89f" stroke="#a4f89f" stroke-width="0.3" stroke-linejoin="round"/>
<polygon points="98.2,124.2 109.5,129.6 101.8,120.2" fill="#a8f79c" stroke="#a8f79c" stroke-width="0.3" stroke-linejoin="round"/>
<polygon points="124.4,133.5 139.3,130.9 127.9,128.2" fill="#62fbc4" stroke="#62fbc4" stroke-width="0.3" stroke-linejoin="round"/>
<polygon points="94.5,126.8 98.2,124.2 87.0,123.0" fill="#a6f89d" stroke="#a6f89d" stroke-width="0.3" stroke-linejoin="round"/>
<polygon points="154.2,132.6 165.7,136.9 157.6,128.3" fill="#5df9c7" stroke="#5df9c7" stroke-width="0.3" stroke-linejoin="round"/>
<polygon points="83.3,122.6 94.5,126.8 87.0,123.0" fill="#aef498" stroke="#aef498" stroke-width="0.3" stroke-linejoin="round"/>
<polygon points="53.4,123.0 66.5,129.7 55.4,124.6" fill="#8cfead" stroke="#8cfead" stroke-width="0.3" stroke-linejoin="round"/>
<polygon points="40.1,113.1 42.2,115.9 31.0,105.5" fill="#ff562c" stroke="#ff562c" stroke-width="0.3" stroke-linejoin="round"/>
<polygon points="177.2,142.8 180.4,143.0 168.9,137.7" fill="#04b0ed" stroke="#04b0ed" stroke-width="0.3" stroke-linejoin="round"/>
<polygon points="68.4,126.6 79.6,129.8 83.3,122.6" fill="#99fca6" stroke="#99fca6" stroke-width="0.3" stroke-linejoin="round"/>
<polygon points="66.5,129.7 79.6,129.8 68.4,126.6" fill="#76ffb9" stroke="#76ffb9" stroke-width="0.3" stroke-linejoin="round"/>
<polygon points="120.8,136.5 124.4,133.5 113.1,124.9" fill="#64fbc3" stroke="#64fbc3" stroke-width="0.3" stroke-linejoin="round"/>
<polygon points="139.3,130.9 150.7,137.1 154.2,132.6" fill="#5af8c8" stroke="#5af8c8" stroke-width="0.3" stroke-linejoin="round"/>
<polygon points="28.8,102.4 40.1,113.1 31.0,105.5" fill="#ff0000" stroke="#ff0000" stroke-width="0.3" stroke-linejoin="round"/>
<polygon points="51.4,121.2 53.4,123.0 42.2,115.9" fill="#e6cd73" stroke="#e6cd73" stroke-width="0.3" stroke-linejoin="round"/>
<polygon points="124.4,133.5 135.8,136.4 139.3,130.9" fill="#56f7ca" stroke="#56f7ca" stroke-width="0.3" stroke-linejoin="round"/>
<polygon points="109.5,129.6 120.8,136.5 113.1,124.9" fill="#7affb7" stroke="#7affb7" stroke-width="0.3" stroke-linejoin="round"/>
<polygon points="165.7,136.9 177.2,142.8 168.9,137.7" fill="#1fd3e1" stroke="#1fd3e1" stroke-width="0.3" stroke-linejoin="round"/>
<polygon points="40.1,113.1 51.4,121.2 42.2,115.9" fill="#ff9850" stroke="#ff9850" stroke-width="0.3" stroke-linejoin="round"/>
<polygon points="53.4,123.0 64.5,125.3 66.5,129.7" fill="#a2f9a0" stroke="#a2f9a0" stroke-width="0.3" stroke-linejoin="round"/>
<polygon points="105.9,133.7 109.5,129.6 98.2,124.2" fill="#8efeac" stroke="#8efeac" stroke-width="0.3" stroke-linejoin="round"/>
<polygon points="120.8,136.5 135.8,136.4 124.4,133.5" fill="#46efd1" stroke="#46efd1" stroke-width="0.3" stroke-linejoin="round"/>
<polygon points="94.5,126.8 105.9,133.7 98.2,124.2" fill="#9cfba4" stroke="#9cfba4" stroke-width="0.3" stroke-linejoin="round"/>
<polygon points="26.9,106.7 40.1,113.1 28.8,102.4" fill="#ff0000" stroke="#ff0000" stroke-width="0.3" stroke-linejoin="round"/>
<polygon points="162.3,140.8 165.7,136.9 154.2,132.6" fill="#48f1d0" stroke="#48f1d0" stroke-width="0.3" stroke-linejoin="round"/>
<polygon points="66.5,129.7 77.7,128.2 79.6,129.8" fill="#86ffb0" stroke="#86ffb0" stroke-width="0.3" stroke-linejoin="round"/>
<polygon points="150.7,137.1 162.3,140.8 154.2,132.6" fill="#44eed2" stroke="#44eed2" stroke-width="0.3" stroke-linejoin="round"/>
<polygon points="51.4,121.2 64.5,125.3 53.4,123.0" fill="#d2de81" stroke="#d2de81" stroke-width="0.3" stroke-linejoin="round"/>
<polygon points="79.6,129.8 90.8,129.9 83.3,122.6" fill="#a8f79c" stroke="#a8f79c" stroke-width="0.3" stroke-linejoin="round"/>
<polygon points="90.8,129.9 94.5,126.8 83.3,122.6" fill="#bbee91" stroke="#bbee91" stroke-width="0.3" stroke-linejoin="round"/>
<polygon points="147.4,137.2 150.7,137.1 139.3,130.9" fill="#62fbc4" stroke="#62fbc4" stroke-width="0.3" stroke-linejoin="round"/>
<polygon points="135.8,136.4 147.4,137.2 139.3,130.9" fill="#64fbc3" stroke="#64fbc3" stroke-width="0.3" stroke-linejoin="round"/>
<polygon points="26.9,106.7 38.0,110.2 40.1,113.1" fill="#ff0000" stroke="#ff0000" stroke-width="0.3" stroke-linejoin="round"/>
<polygon points="64.5,125.3 75.8,128.9 66.5,129.7" fill="#a4f89f" stroke="#a4f89f" stroke-width="0.3" stroke-linejoin="round"/>
<polygon points="38.0,110.2 51.4,121.2 40.1,113.1" fill="#ff532a" stroke="#ff532a" stroke-width="0.3" stroke-linejoin="round"/>
<polygon points="162.3,140.8 177.2,142.8 165.7,136.9" fill="#30e1da" stroke="#30e1da" stroke-width="0.3" stroke-linejoin="round"/>
<polygon points="75.8,128.9 77.7,128.2 66.5,129.7" fill="#9cfba4" stroke="#9cfba4" stroke-width="0.3" stroke-linejoin="round"/>
<polygon points="25.2,113.9 36.0,109.9 26.9,106.7" fill="#ff0000" stroke="#ff0000" stroke-width="0.3" stroke-linejoin="round"/>
<polygon points="90.8,129.9 105.9,133.7 94.5,126.8" fill="#9cfba4" stroke="#9cfba4" stroke-width="0.3" stroke-linejoin="round"/>
<polygon points="117.3,132.9 120.8,136.5 109.5,129.6" fill="#80ffb4" stroke="#80ffb4" stroke-width="0.3" stroke-linejoin="round"/>
<polygon points="23.1,114.1 36.0,109.9 25.2,113.9" fill="#ff1c0e" stroke="#ff1c0e" stroke-width="0.3" stroke-linejoin="round"/>
<polygon points="51.4,121.2 62.5,122.1 64.5,125.3" fill="#f2c26b" stroke="#f2c26b" stroke-width="0.3" stroke-linejoin="round"/>
<polygon points="77.7,128.2 89.0,131.2 79.6,129.8" fill="#a2f9a0" stroke="#a2f9a0" stroke-width="0.3" stroke-linejoin="round"/>
<polygon points="105.9,133.7 117.3,132.9 109.5,129.6" fill="#90feab" stroke="#90feab" stroke-width="0.3" stroke-linejoin="round"/>
<polygon points="21.5,124.0 32.4,123.3 23.1,114.1" fill="#ffae5e" stroke="#ffae5e" stroke-width="0.3" stroke-linejoin="round"/>
<polygon points="162.3,140.8 173.7,150.8 177.2,142.8" fill="#02b7eb" stroke="#02b7eb" stroke-width="0.3" stroke-linejoin="round"/>
<polygon points="120.8,136.5 132.4,130.6 135.8,136.4" fill="#7affb7" stroke="#7affb7" stroke-width="0.3" stroke-linejoin="round"/>
<polygon points="36.0,109.9 38.0,110.2 26.9,106.7" fill="#ff0000" stroke="#ff0000" stroke-width="0.3" stroke-linejoin="round"/>
<polygon points="38.0,110.2 49.3,116.9 51.4,121.2" fill="#ff4d27" stroke="#ff4d27" stroke-width="0.3" stroke-linejoin="round"/>
<polygon points="89.0,131.2 90.8,129.9 79.6,129.8" fill="#a2f9a0" stroke="#a2f9a0" stroke-width="0.3" stroke-linejoin="round"/>
<polygon points="49.3,116.9 62.5,122.1 51.4,121.2" fill="#ff8947" stroke="#ff8947" stroke-width="0.3" stroke-linejoin="round"/>
<polygon points="19.3,121.6 30.4,125.8 21.5,124.0" fill="#e4cf74" stroke="#e4cf74" stroke-width="0.3" stroke-linejoin="round"/>
<polygon points="159.0,137.9 162.3,140.8 150.7,137.1" fill="#5af8c8" stroke="#5af8c8" stroke-width="0.3" stroke-linejoin="round"/>
<polygon points="90.8,129.9 102.2,136.6 105.9,133.7" fill="#88ffaf" stroke="#88ffaf" stroke-width="0.3" stroke-linejoin="round"/>
<polygon points="32.4,123.3 34.2,117.2 23.1,114.1" fill="#ff6d38" stroke="#ff6d38" stroke-width="0.3" stroke-linejoin="round"/>
<polygon points="30.4,125.8 32.4,123.3 21.5,124.0" fill="#e4cf74" stroke="#e4cf74" stroke-width="0.3" stroke-linejoin="round"/>
<polygon points="23.1,114.1 34.2,117.2 36.0,109.9" fill="#ff1309" stroke="#ff1309" stroke-width="0.3" stroke-linejoin="round"/>
<polygon points="73.8,128.8 75.8,128.9 64.5,125.3" fill="#cce385" stroke="#cce385" stroke-width="0.3" stroke-linejoin="round"/>
<polygon points="147.4,137.2 159.0,137.9 150.7,137.1" fill="#6efebe" stroke="#6efebe" stroke-width="0.3" stroke-linejoin="round"/>
<polygon points="143.9,140.3 147.4,137.2 135.8,136.4" fill="#62fbc4" stroke="#62fbc4" stroke-width="0.3" stroke-linejoin="round"/>
<polygon points="62.5,122.1 73.8,128.8 64.5,125.3" fill="#ebca70" stroke="#ebca70" stroke-width="0.3" stroke-linejoin="round"/>
<polygon points="36.0,109.9 49.3,116.9 38.0,110.2" fill="#ff0000" stroke="#ff0000" stroke-width="0.3" stroke-linejoin="round"/>
<polygon points="102.2,136.6 117.3,132.9 105.9,133.7" fill="#8bfeae" stroke="#8bfeae" stroke-width="0.3" stroke-linejoin="round"/>
<polygon points="117.3,132.9 132.4,130.6 120.8,136.5" fill="#9efaa2" stroke="#9efaa2" stroke-width="0.3" stroke-linejoin="round"/>
<polygon points="89.0,131.2 102.2,136.6 90.8,129.9" fill="#9efaa2" stroke="#9efaa2" stroke-width="0.3" stroke-linejoin="round"/>
<polygon points="49.3,116.9 60.7,127.4 62.5,122.1" fill="#ff964f" stroke="#ff964f" stroke-width="0.3" stroke-linejoin="round"/>
<polygon points="17.3,124.4 30.4,125.8 19.3,121.6" fill="#f2c26b" stroke="#f2c26b" stroke-width="0.3" stroke-linejoin="round"/>
<polygon points="75.8,128.9 87.1,129.4 77.7,128.2" fill="#cbe486" stroke="#cbe486" stroke-width="0.3" stroke-linejoin="round"/>
<polygon points="132.4,130.6 143.9,140.3 135.8,136.4" fill="#88ffaf" stroke="#88ffaf" stroke-width="0.3" stroke-linejoin="round"/>
<polygon points="170.6,147.1 173.7,150.8 162.3,140.8" fill="#0dc2e8" stroke="#0dc2e8" stroke-width="0.3" stroke-linejoin="round"/>
<polygon points="87.1,129.4 89.0,131.2 77.7,128.2" fill="#c8e688" stroke="#c8e688" stroke-width="0.3" stroke-linejoin="round"/>
<polygon points="60.7,127.4 73.8,128.8 62.5,122.1" fill="#eec66d" stroke="#eec66d" stroke-width="0.3" stroke-linejoin="round"/>
<polygon points="60.7,127.4 72.1,139.8 73.8,128.8" fill="#a2f9a0" stroke="#a2f9a0" stroke-width="0.3" stroke-linejoin="round"/>
<polygon points="34.2,117.2 45.4,122.1 36.0,109.9" fill="#ff2211" stroke="#ff2211" stroke-width="0.3" stroke-linejoin="round"/>
<polygon points="36.0,109.9 47.2,115.0 49.3,116.9" fill="#ff0000" stroke="#ff0000" stroke-width="0.3" stroke-linejoin="round"/>
<polygon points="32.4,123.3 43.5,124.0 34.2,117.2" fill="#ff8143" stroke="#ff8143" stroke-width="0.3" stroke-linejoin="round"/>
<polygon points="89.0,131.2 100.4,135.4 102.2,136.6" fill="#99fca6" stroke="#99fca6" stroke-width="0.3" stroke-linejoin="round"/>
<polygon points="73.8,128.8 87.1,129.4 75.8,128.9" fill="#d9da7d" stroke="#d9da7d" stroke-width="0.3" stroke-linejoin="round"/>
<polygon points="17.3,124.4 28.4,127.6 30.4,125.8" fill="#ebca70" stroke="#ebca70" stroke-width="0.3" stroke-linejoin="round"/>
<polygon points="72.1,139.8 85.3,137.1 73.8,128.8" fill="#86ffb0" stroke="#86ffb0" stroke-width="0.3" stroke-linejoin="round"/>
<polygon points="102.2,136.6 113.7,142.7 117.3,132.9" fill="#78ffb8" stroke="#78ffb8" stroke-width="0.3" stroke-linejoin="round"/>
<polygon points="159.0,137.9 170.6,147.1 162.3,140.8" fill="#56f7ca" stroke="#56f7ca" stroke-width="0.3" stroke-linejoin="round"/>
<polygon points="45.4,122.1 47.2,115.0 36.0,109.9" fill="#ff0000" stroke="#ff0000" stroke-width="0.3" stroke-linejoin="round"/>
<polygon points="30.4,125.8 43.5,124.0 32.4,123.3" fill="#ffa95b" stroke="#ffa95b" stroke-width="0.3" stroke-linejoin="round"/>
<polygon points="143.9,140.3 159.0,137.9 147.4,137.2" fill="#7effb5" stroke="#7effb5" stroke-width="0.3" stroke-linejoin="round"/>
<polygon points="58.5,118.5 60.7,127.4 49.3,116.9" fill="#ff6232" stroke="#ff6232" stroke-width="0.3" stroke-linejoin="round"/>
<polygon points="58.5,118.5 72.1,139.8 60.7,127.4" fill="#ded579" stroke="#ded579" stroke-width="0.3" stroke-linejoin="round"/>
<polygon points="117.3,132.9 128.8,141.6 132.4,130.6" fill="#a6f89d" stroke="#a6f89d" stroke-width="0.3" stroke-linejoin="round"/>
<polygon points="43.5,124.0 45.4,122.1 34.2,117.2" fill="#ff6b37" stroke="#ff6b37" stroke-width="0.3" stroke-linejoin="round"/>
<polygon points="87.1,129.4 100.4,135.4 89.0,131.2" fill="#c2ea8c" stroke="#c2ea8c" stroke-width="0.3" stroke-linejoin="round"/>
<polygon points="15.2,124.5 26.4,127.9 17.3,124.4" fill="#f9bb66" stroke="#f9bb66" stroke-width="0.3" stroke-linejoin="round"/>
<polygon points="72.1,139.8 83.4,139.3 85.3,137.1" fill="#64fbc3" stroke="#64fbc3" stroke-width="0.3" stroke-linejoin="round"/>
<polygon points="73.8,128.8 85.3,137.1 87.1,129.4" fill="#c4e88a" stroke="#c4e88a" stroke-width="0.3" stroke-linejoin="round"/>
<polygon points="47.2,115.0 58.5,118.5 49.3,116.9" fill="#ff0302" stroke="#ff0302" stroke-width="0.3" stroke-linejoin="round"/>
<polygon points="26.4,127.9 28.4,127.6 17.3,124.4" fill="#eec66d" stroke="#eec66d" stroke-width="0.3" stroke-linejoin="round"/>
<polygon points="111.8,138.1 113.7,142.7 102.2,136.6" fill="#74feba" stroke="#74feba" stroke-width="0.3" stroke-linejoin="round"/>
<polygon points="100.4,135.4 111.8,138.1 102.2,136.6" fill="#94fda8" stroke="#94fda8" stroke-width="0.3" stroke-linejoin="round"/>
<polygon points="113.7,142.7 125.2,144.4 117.3,132.9" fill="#70febc" stroke="#70febc" stroke-width="0.3" stroke-linejoin="round"/>
<polygon points="125.2,144.4 128.8,141.6 117.3,132.9" fill="#78ffb8" stroke="#78ffb8" stroke-width="0.3" stroke-linejoin="round"/>
<polygon points="45.4,122.1 58.5,118.5 47.2,115.0" fill="#ff190d" stroke="#ff190d" stroke-width="0.3" stroke-linejoin="round"/>
<polygon points="143.9,140.3 155.5,146.9 159.0,137.9" fill="#6dfdbf" stroke="#6dfdbf" stroke-width="0.3" stroke-linejoin="round"/>
<polygon points="28.4,127.6 39.5,128.3 30.4,125.8" fill="#f9bb66" stroke="#f9bb66" stroke-width="0.3" stroke-linejoin="round"/>
<polygon points="30.4,125.8 41.4,124.6 43.5,124.0" fill="#ff934d" stroke="#ff934d" stroke-width="0.3" stroke-linejoin="round"/>
<polygon points="128.8,141.6 140.4,141.9 132.4,130.6" fill="#96fca7" stroke="#96fca7" stroke-width="0.3" stroke-linejoin="round"/>
<polygon points="140.4,141.9 143.9,140.3 132.4,130.6" fill="#9efaa2" stroke="#9efaa2" stroke-width="0.3" stroke-linejoin="round"/>
<polygon points="13.1,124.5 24.5,134.4 15.2,124.5" fill="#ebca70" stroke="#ebca70" stroke-width="0.3" stroke-linejoin="round"/>
<polygon points="87.1,129.4 98.5,136.1 100.4,135.4" fill="#c0eb8d" stroke="#c0eb8d" stroke-width="0.3" stroke-linejoin="round"/>
<polygon points="24.5,134.4 26.4,127.9 15.2,124.5" fill="#e0d377" stroke="#e0d377" stroke-width="0.3" stroke-linejoin="round"/>
<polygon points="58.5,118.5 69.9,124.7 72.1,139.8" fill="#ffac5c" stroke="#ffac5c" stroke-width="0.3" stroke-linejoin="round"/>
<polygon points="85.3,137.1 96.7,137.7 87.1,129.4" fill="#b4f295" stroke="#b4f295" stroke-width="0.3" stroke-linejoin="round"/>
<polygon points="81.4,133.2 83.4,139.3 72.1,139.8" fill="#8cfead" stroke="#8cfead" stroke-width="0.3" stroke-linejoin="round"/>
<polygon points="140.4,141.9 155.5,146.9 143.9,140.3" fill="#64fbc3" stroke="#64fbc3" stroke-width="0.3" stroke-linejoin="round"/>
<polygon points="83.4,139.3 96.7,137.7 85.3,137.1" fill="#8cfead" stroke="#8cfead" stroke-width="0.3" stroke-linejoin="round"/>
<polygon points="39.5,128.3 41.4,124.6 30.4,125.8" fill="#ff9d53" stroke="#ff9d53" stroke-width="0.3" stroke-linejoin="round"/>
<polygon points="26.4,127.9 37.8,136.5 28.4,127.6" fill="#d6db7e" stroke="#d6db7e" stroke-width="0.3" stroke-linejoin="round"/>
<polygon points="43.5,124.0 56.5,117.5 45.4,122.1" fill="#ff381c" stroke="#ff381c" stroke-width="0.3" stroke-linejoin="round"/>
<polygon points="96.7,137.7 98.5,136.1 87.1,129.4" fill="#c4e88a" stroke="#c4e88a" stroke-width="0.3" stroke-linejoin="round"/>
<polygon points="125.2,144.4 140.4,141.9 128.8,141.6" fill="#68fcc1" stroke="#68fcc1" stroke-width="0.3" stroke-linejoin="round"/>
<polygon points="167.2,148.6 170.6,147.1 159.0,137.9" fill="#60fac5" stroke="#60fac5" stroke-width="0.3" stroke-linejoin="round"/>
<polygon points="45.4,122.1 56.5,117.5 58.5,118.5" fill="#ff0603" stroke="#ff0603" stroke-width="0.3" stroke-linejoin="round"/>
<polygon points="155.5,146.9 167.2,148.6 159.0,137.9" fill="#60fac5" stroke="#60fac5" stroke-width="0.3" stroke-linejoin="round"/>
<polygon points="37.8,136.5 39.5,128.3 28.4,127.6" fill="#dcd67a" stroke="#dcd67a" stroke-width="0.3" stroke-linejoin="round"/>
<polygon points="69.9,124.7 81.4,133.2 72.1,139.8" fill="#d6db7e" stroke="#d6db7e" stroke-width="0.3" stroke-linejoin="round"/>
<polygon points="123.4,143.7 125.2,144.4 113.7,142.7" fill="#5efac6" stroke="#5efac6" stroke-width="0.3" stroke-linejoin="round"/>
<polygon points="24.5,134.4 35.8,140.7 26.4,127.9" fill="#b0f397" stroke="#b0f397" stroke-width="0.3" stroke-linejoin="round"/>
<polygon points="98.5,136.1 110.0,136.8 100.4,135.4" fill="#b9ef92" stroke="#b9ef92" stroke-width="0.3" stroke-linejoin="round"/>
<polygon points="111.8,138.1 123.4,143.7 113.7,142.7" fill="#78ffb8" stroke="#78ffb8" stroke-width="0.3" stroke-linejoin="round"/>
<polygon points="41.4,124.6 52.8,131.4 43.5,124.0" fill="#ff8e4a" stroke="#ff8e4a" stroke-width="0.3" stroke-linejoin="round"/>
<polygon points="35.8,140.7 37.8,136.5 26.4,127.9" fill="#acf59a" stroke="#acf59a" stroke-width="0.3" stroke-linejoin="round"/>
<polygon points="110.0,136.8 111.8,138.1 100.4,135.4" fill="#b9ef92" stroke="#b9ef92" stroke-width="0.3" stroke-linejoin="round"/>
<polygon points="52.8,131.4 54.7,126.7 43.5,124.0" fill="#ff934d" stroke="#ff934d" stroke-width="0.3" stroke-linejoin="round"/>
<polygon points="83.4,139.3 94.8,141.9 96.7,137.7" fill="#8cfead" stroke="#8cfead" stroke-width="0.3" stroke-linejoin="round"/>
<polygon points="43.5,124.0 54.7,126.7 56.5,117.5" fill="#ff381c" stroke="#ff381c" stroke-width="0.3" stroke-linejoin="round"/>
<polygon points="39.5,128.3 52.8,131.4 41.4,124.6" fill="#ff9850" stroke="#ff9850" stroke-width="0.3" stroke-linejoin="round"/>
<polygon points="81.4,133.2 94.8,141.9 83.4,139.3" fill="#a6f89d" stroke="#a6f89d" stroke-width="0.3" stroke-linejoin="round"/>
<polygon points="140.4,141.9 152.1,145.2 155.5,146.9" fill="#6dfdbf" stroke="#6dfdbf" stroke-width="0.3" stroke-linejoin="round"/>
<polygon points="96.7,137.7 110.0,136.8 98.5,136.1" fill="#beec8e" stroke="#beec8e" stroke-width="0.3" stroke-linejoin="round"/>
<polygon points="56.5,117.5 69.9,124.7 58.5,118.5" fill="#ff0000" stroke="#ff0000" stroke-width="0.3" stroke-linejoin="round"/>
<polygon points="37.8,136.5 49.1,140.4 39.5,128.3" fill="#c0eb8d" stroke="#c0eb8d" stroke-width="0.3" stroke-linejoin="round"/>
<polygon points="35.8,140.7 47.2,147.1 37.8,136.5" fill="#6dfdbf" stroke="#6dfdbf" stroke-width="0.3" stroke-linejoin="round"/>
<polygon points="152.1,145.2 167.2,148.6 155.5,146.9" fill="#58f8c9" stroke="#58f8c9" stroke-width="0.3" stroke-linejoin="round"/>
<polygon points="125.2,144.4 136.9,145.6 140.4,141.9" fill="#74feba" stroke="#74feba" stroke-width="0.3" stroke-linejoin="round"/>
<polygon points="39.5,128.3 50.9,134.1 52.8,131.4" fill="#fbb965" stroke="#fbb965" stroke-width="0.3" stroke-linejoin="round"/>
<polygon points="47.2,147.1 49.1,140.4 37.8,136.5" fill="#78ffb8" stroke="#78ffb8" stroke-width="0.3" stroke-linejoin="round"/>
<polygon points="54.7,126.7 68.0,126.5 56.5,117.5" fill="#ff2613" stroke="#ff2613" stroke-width="0.3" stroke-linejoin="round"/>
<polygon points="52.8,131.4 64.2,137.3 54.7,126.7" fill="#fbb965" stroke="#fbb965" stroke-width="0.3" stroke-linejoin="round"/>
<polygon points="56.5,117.5 68.0,126.5 69.9,124.7" fill="#ff1309" stroke="#ff1309" stroke-width="0.3" stroke-linejoin="round"/>
<polygon points="49.1,140.4 50.9,134.1 39.5,128.3" fill="#d9da7d" stroke="#d9da7d" stroke-width="0.3" stroke-linejoin="round"/>
<polygon points="94.8,141.9 106.3,145.2 96.7,137.7" fill="#8efeac" stroke="#8efeac" stroke-width="0.3" stroke-linejoin="round"/>
<polygon points="68.0,126.5 81.4,133.2 69.9,124.7" fill="#ff703a" stroke="#ff703a" stroke-width="0.3" stroke-linejoin="round"/>
<polygon points="123.4,143.7 135.1,147.5 125.2,144.4" fill="#70febc" stroke="#70febc" stroke-width="0.3" stroke-linejoin="round"/>
<polygon points="96.7,137.7 108.2,139.6 110.0,136.8" fill="#c4e88a" stroke="#c4e88a" stroke-width="0.3" stroke-linejoin="round"/>
<polygon points="81.4,133.2 92.9,140.8 94.8,141.9" fill="#b9ef92" stroke="#b9ef92" stroke-width="0.3" stroke-linejoin="round"/>
<polygon points="121.6,139.5 123.4,143.7 111.8,138.1" fill="#b0f397" stroke="#b0f397" stroke-width="0.3" stroke-linejoin="round"/>
<polygon points="135.1,147.5 136.9,145.6 125.2,144.4" fill="#70febc" stroke="#70febc" stroke-width="0.3" stroke-linejoin="round"/>
<polygon points="110.0,136.8 121.6,139.5 111.8,138.1" fill="#cee184" stroke="#cee184" stroke-width="0.3" stroke-linejoin="round"/>
<polygon points="106.3,145.2 108.2,139.6 96.7,137.7" fill="#a6f89d" stroke="#a6f89d" stroke-width="0.3" stroke-linejoin="round"/>
<polygon points="54.7,126.7 66.0,124.6 68.0,126.5" fill="#ff3b1e" stroke="#ff3b1e" stroke-width="0.3" stroke-linejoin="round"/>
<polygon points="50.9,134.1 62.3,138.7 52.8,131.4" fill="#e2d176" stroke="#e2d176" stroke-width="0.3" stroke-linejoin="round"/>
<polygon points="152.1,145.2 163.8,153.3 167.2,148.6" fill="#58f8c9" stroke="#58f8c9" stroke-width="0.3" stroke-linejoin="round"/>
<polygon points="64.2,137.3 66.0,124.6 54.7,126.7" fill="#ff7b40" stroke="#ff7b40" stroke-width="0.3" stroke-linejoin="round"/>
<polygon points="62.3,138.7 64.2,137.3 52.8,131.4" fill="#dbd87b" stroke="#dbd87b" stroke-width="0.3" stroke-linejoin="round"/>
<polygon points="148.6,148.7 152.1,145.2 140.4,141.9" fill="#84ffb2" stroke="#84ffb2" stroke-width="0.3" stroke-linejoin="round"/>
<polygon points="136.9,145.6 148.6,148.7 140.4,141.9" fill="#82ffb3" stroke="#82ffb3" stroke-width="0.3" stroke-linejoin="round"/>
<polygon points="49.1,140.4 62.3,138.7 50.9,134.1" fill="#c0eb8d" stroke="#c0eb8d" stroke-width="0.3" stroke-linejoin="round"/>
<polygon points="47.2,147.1 58.6,150.4 49.1,140.4" fill="#54f6cb" stroke="#54f6cb" stroke-width="0.3" stroke-linejoin="round"/>
<polygon points="68.0,126.5 79.4,128.3 81.4,133.2" fill="#ff6835" stroke="#ff6835" stroke-width="0.3" stroke-linejoin="round"/>
<polygon points="79.4,128.3 92.9,140.8 81.4,133.2" fill="#ffae5e" stroke="#ffae5e" stroke-width="0.3" stroke-linejoin="round"/>
<polygon points="108.2,139.6 121.6,139.5 110.0,136.8" fill="#d6db7e" stroke="#d6db7e" stroke-width="0.3" stroke-linejoin="round"/>
<polygon points="49.1,140.4 60.5,145.9 62.3,138.7" fill="#99fca6" stroke="#99fca6" stroke-width="0.3" stroke-linejoin="round"/>
<polygon points="58.6,150.4 60.5,145.9 49.1,140.4" fill="#66fcc2" stroke="#66fcc2" stroke-width="0.3" stroke-linejoin="round"/>
<polygon points="92.9,140.8 104.5,138.1 94.8,141.9" fill="#c0eb8d" stroke="#c0eb8d" stroke-width="0.3" stroke-linejoin="round"/>
<polygon points="104.5,138.1 106.3,145.2 94.8,141.9" fill="#b0f397" stroke="#b0f397" stroke-width="0.3" stroke-linejoin="round"/>
<polygon points="148.6,148.7 163.8,153.3 152.1,145.2" fill="#68fcc1" stroke="#68fcc1" stroke-width="0.3" stroke-linejoin="round"/>
<polygon points="66.0,124.6 79.4,128.3 68.0,126.5" fill="#ff1f10" stroke="#ff1f10" stroke-width="0.3" stroke-linejoin="round"/>
<polygon points="106.3,145.2 118.0,149.9 108.2,139.6" fill="#8cfead" stroke="#8cfead" stroke-width="0.3" stroke-linejoin="round"/>
<polygon points="133.3,143.9 135.1,147.5 123.4,143.7" fill="#99fca6" stroke="#99fca6" stroke-width="0.3" stroke-linejoin="round"/>
<polygon points="121.6,139.5 133.3,143.9 123.4,143.7" fill="#bced8f" stroke="#bced8f" stroke-width="0.3" stroke-linejoin="round"/>
<polygon points="135.1,147.5 146.9,149.4 136.9,145.6" fill="#80ffb4" stroke="#80ffb4" stroke-width="0.3" stroke-linejoin="round"/>
<polygon points="108.2,139.6 119.8,141.6 121.6,139.5" fill="#d6db7e" stroke="#d6db7e" stroke-width="0.3" stroke-linejoin="round"/>
<polygon points="58.6,150.4 71.9,151.1 60.5,145.9" fill="#4ef3cd" stroke="#4ef3cd" stroke-width="0.3" stroke-linejoin="round"/>
<polygon points="62.3,138.7 75.5,131.9 64.2,137.3" fill="#fbb965" stroke="#fbb965" stroke-width="0.3" stroke-linejoin="round"/>
<polygon points="118.0,149.9 119.8,141.6 108.2,139.6" fill="#abf69b" stroke="#abf69b" stroke-width="0.3" stroke-linejoin="round"/>
<polygon points="64.2,137.3 75.5,131.9 66.0,124.6" fill="#ff6835" stroke="#ff6835" stroke-width="0.3" stroke-linejoin="round"/>
<polygon points="146.9,149.4 148.6,148.7 136.9,145.6" fill="#84ffb2" stroke="#84ffb2" stroke-width="0.3" stroke-linejoin="round"/>
<polygon points="60.5,145.9 73.7,140.5 62.3,138.7" fill="#b2f396" stroke="#b2f396" stroke-width="0.3" stroke-linejoin="round"/>
<polygon points="79.4,128.3 90.9,131.8 92.9,140.8" fill="#ff8444" stroke="#ff8444" stroke-width="0.3" stroke-linejoin="round"/>
<polygon points="148.6,148.7 160.4,155.4 163.8,153.3" fill="#52f5cb" stroke="#52f5cb" stroke-width="0.3" stroke-linejoin="round"/>
<polygon points="116.1,148.7 118.0,149.9 106.3,145.2" fill="#7dffb6" stroke="#7dffb6" stroke-width="0.3" stroke-linejoin="round"/>
<polygon points="66.0,124.6 77.4,127.6 79.4,128.3" fill="#ff0000" stroke="#ff0000" stroke-width="0.3" stroke-linejoin="round"/>
<polygon points="60.5,145.9 71.9,151.1 73.7,140.5" fill="#88ffaf" stroke="#88ffaf" stroke-width="0.3" stroke-linejoin="round"/>
<polygon points="58.6,150.4 70.0,152.9 71.9,151.1" fill="#40ecd4" stroke="#40ecd4" stroke-width="0.3" stroke-linejoin="round"/>
<polygon points="90.9,131.8 104.5,138.1 92.9,140.8" fill="#ffa759" stroke="#ffa759" stroke-width="0.3" stroke-linejoin="round"/>
<polygon points="133.3,143.9 146.9,149.4 135.1,147.5" fill="#9cfba4" stroke="#9cfba4" stroke-width="0.3" stroke-linejoin="round"/>
<polygon points="104.5,138.1 116.1,148.7 106.3,145.2" fill="#b6f193" stroke="#b6f193" stroke-width="0.3" stroke-linejoin="round"/>
<polygon points="119.8,141.6 131.5,147.8 121.6,139.5" fill="#cce385" stroke="#cce385" stroke-width="0.3" stroke-linejoin="round"/>
<polygon points="62.3,138.7 73.7,140.5 75.5,131.9" fill="#ffae5e" stroke="#ffae5e" stroke-width="0.3" stroke-linejoin="round"/>
<polygon points="118.0,149.9 131.5,147.8 119.8,141.6" fill="#a2f9a0" stroke="#a2f9a0" stroke-width="0.3" stroke-linejoin="round"/>
<polygon points="75.5,131.9 77.4,127.6 66.0,124.6" fill="#ff0302" stroke="#ff0302" stroke-width="0.3" stroke-linejoin="round"/>
<polygon points="131.5,147.8 133.3,143.9 121.6,139.5" fill="#c8e688" stroke="#c8e688" stroke-width="0.3" stroke-linejoin="round"/>
<polygon points="77.4,127.6 90.9,131.8 79.4,128.3" fill="#ff1309" stroke="#ff1309" stroke-width="0.3" stroke-linejoin="round"/>
<polygon points="158.7,153.7 160.4,155.4 148.6,148.7" fill="#6afdc0" stroke="#6afdc0" stroke-width="0.3" stroke-linejoin="round"/>
<polygon points="146.9,149.4 158.7,153.7 148.6,148.7" fill="#82ffb3" stroke="#82ffb3" stroke-width="0.3" stroke-linejoin="round"/>
<polygon points="118.0,149.9 129.7,150.4 131.5,147.8" fill="#8bfeae" stroke="#8bfeae" stroke-width="0.3" stroke-linejoin="round"/>
<polygon points="133.3,143.9 145.1,150.4 146.9,149.4" fill="#a6f89d" stroke="#a6f89d" stroke-width="0.3" stroke-linejoin="round"/>
<polygon points="70.0,152.9 81.5,155.6 71.9,151.1" fill="#48f1d0" stroke="#48f1d0" stroke-width="0.3" stroke-linejoin="round"/>
<polygon points="131.5,147.8 145.1,150.4 133.3,143.9" fill="#aef498" stroke="#aef498" stroke-width="0.3" stroke-linejoin="round"/>
<polygon points="71.9,151.1 85.3,141.4 73.7,140.5" fill="#beec8e" stroke="#beec8e" stroke-width="0.3" stroke-linejoin="round"/>
<polygon points="90.9,131.8 102.6,139.3 104.5,138.1" fill="#ff793e" stroke="#ff793e" stroke-width="0.3" stroke-linejoin="round"/>
<polygon points="116.1,148.7 127.9,149.2 118.0,149.9" fill="#94fda8" stroke="#94fda8" stroke-width="0.3" stroke-linejoin="round"/>
<polygon points="77.4,127.6 89.0,130.0 90.9,131.8" fill="#ff0000" stroke="#ff0000" stroke-width="0.3" stroke-linejoin="round"/>
<polygon points="75.5,131.9 87.1,137.3 77.4,127.6" fill="#ff2f18" stroke="#ff2f18" stroke-width="0.3" stroke-linejoin="round"/>
<polygon points="73.7,140.5 85.3,141.4 75.5,131.9" fill="#ff934d" stroke="#ff934d" stroke-width="0.3" stroke-linejoin="round"/>
<polygon points="127.9,149.2 129.7,150.4 118.0,149.9" fill="#94fda8" stroke="#94fda8" stroke-width="0.3" stroke-linejoin="round"/>
<polygon points="131.5,147.8 143.3,152.8 145.1,150.4" fill="#99fca6" stroke="#99fca6" stroke-width="0.3" stroke-linejoin="round"/>
<polygon points="81.5,155.6 83.4,148.3 71.9,151.1" fill="#6dfdbf" stroke="#6dfdbf" stroke-width="0.3" stroke-linejoin="round"/>
<polygon points="71.9,151.1 83.4,148.3 85.3,141.4" fill="#acf59a" stroke="#acf59a" stroke-width="0.3" stroke-linejoin="round"/>
<polygon points="100.7,140.7 102.6,139.3 90.9,131.8" fill="#ff733b" stroke="#ff733b" stroke-width="0.3" stroke-linejoin="round"/>
<polygon points="87.1,137.3 89.0,130.0 77.4,127.6" fill="#ff1008" stroke="#ff1008" stroke-width="0.3" stroke-linejoin="round"/>
<polygon points="145.1,150.4 157.0,153.9 146.9,149.4" fill="#92fda9" stroke="#92fda9" stroke-width="0.3" stroke-linejoin="round"/>
<polygon points="114.3,140.3 116.1,148.7 104.5,138.1" fill="#f6be68" stroke="#f6be68" stroke-width="0.3" stroke-linejoin="round"/>
<polygon points="129.7,150.4 141.5,156.2 131.5,147.8" fill="#8cfead" stroke="#8cfead" stroke-width="0.3" stroke-linejoin="round"/>
<polygon points="157.0,153.9 158.7,153.7 146.9,149.4" fill="#8bfeae" stroke="#8bfeae" stroke-width="0.3" stroke-linejoin="round"/>
<polygon points="89.0,130.0 100.7,140.7 90.9,131.8" fill="#ff351b" stroke="#ff351b" stroke-width="0.3" stroke-linejoin="round"/>
<polygon points="85.3,141.4 87.1,137.3 75.5,131.9" fill="#ff6d38" stroke="#ff6d38" stroke-width="0.3" stroke-linejoin="round"/>
<polygon points="102.6,139.3 114.3,140.3 104.5,138.1" fill="#ff8947" stroke="#ff8947" stroke-width="0.3" stroke-linejoin="round"/>
<polygon points="141.5,156.2 143.3,152.8 131.5,147.8" fill="#88ffaf" stroke="#88ffaf" stroke-width="0.3" stroke-linejoin="round"/>
<polygon points="143.3,152.8 155.1,161.5 145.1,150.4" fill="#6efebe" stroke="#6efebe" stroke-width="0.3" stroke-linejoin="round"/>
<polygon points="155.1,161.5 157.0,153.9 145.1,150.4" fill="#72febb" stroke="#72febb" stroke-width="0.3" stroke-linejoin="round"/>
<polygon points="127.9,149.2 141.5,156.2 129.7,150.4" fill="#96fca7" stroke="#96fca7" stroke-width="0.3" stroke-linejoin="round"/>
<polygon points="87.1,137.3 98.8,144.4 89.0,130.0" fill="#ff5c2f" stroke="#ff5c2f" stroke-width="0.3" stroke-linejoin="round"/>
<polygon points="114.3,140.3 127.9,149.2 116.1,148.7" fill="#dcd67a" stroke="#dcd67a" stroke-width="0.3" stroke-linejoin="round"/>
<polygon points="100.7,140.7 114.3,140.3 102.6,139.3" fill="#ff8444" stroke="#ff8444" stroke-width="0.3" stroke-linejoin="round"/>
<polygon points="141.5,156.2 155.1,161.5 143.3,152.8" fill="#5efac6" stroke="#5efac6" stroke-width="0.3" stroke-linejoin="round"/>
<polygon points="98.8,144.4 100.7,140.7 89.0,130.0" fill="#ff6b37" stroke="#ff6b37" stroke-width="0.3" stroke-linejoin="round"/>
<polygon points="81.5,155.6 95.1,155.1 83.4,148.3" fill="#7dffb6" stroke="#7dffb6" stroke-width="0.3" stroke-linejoin="round"/>
<polygon points="83.4,148.3 95.1,155.1 85.3,141.4" fill="#bbee91" stroke="#bbee91" stroke-width="0.3" stroke-linejoin="round"/>
<polygon points="141.5,156.2 153.3,162.8 155.1,161.5" fill="#42edd3" stroke="#42edd3" stroke-width="0.3" stroke-linejoin="round"/>
<polygon points="85.3,141.4 96.9,141.6 87.1,137.3" fill="#ff7b40" stroke="#ff7b40" stroke-width="0.3" stroke-linejoin="round"/>
<polygon points="96.9,141.6 98.8,144.4 87.1,137.3" fill="#ff8646" stroke="#ff8646" stroke-width="0.3" stroke-linejoin="round"/>
<polygon points="81.5,155.6 93.2,157.2 95.1,155.1" fill="#64fbc3" stroke="#64fbc3" stroke-width="0.3" stroke-linejoin="round"/>
<polygon points="98.8,144.4 112.4,140.4 100.7,140.7" fill="#ff8947" stroke="#ff8947" stroke-width="0.3" stroke-linejoin="round"/>
<polygon points="127.9,149.2 139.8,152.3 141.5,156.2" fill="#a6f89d" stroke="#a6f89d" stroke-width="0.3" stroke-linejoin="round"/>
<polygon points="95.1,155.1 96.9,141.6 85.3,141.4" fill="#ebca70" stroke="#ebca70" stroke-width="0.3" stroke-linejoin="round"/>
<polygon points="100.7,140.7 112.4,140.4 114.3,140.3" fill="#ff6835" stroke="#ff6835" stroke-width="0.3" stroke-linejoin="round"/>
<polygon points="139.8,152.3 153.3,162.8 141.5,156.2" fill="#76ffb9" stroke="#76ffb9" stroke-width="0.3" stroke-linejoin="round"/>
<polygon points="114.3,140.3 126.1,143.1 127.9,149.2" fill="#ff964f" stroke="#ff964f" stroke-width="0.3" stroke-linejoin="round"/>
<polygon points="96.9,141.6 110.6,145.6 98.8,144.4" fill="#ff934d" stroke="#ff934d" stroke-width="0.3" stroke-linejoin="round"/>
<polygon points="98.8,144.4 110.6,145.6 112.4,140.4" fill="#ff8947" stroke="#ff8947" stroke-width="0.3" stroke-linejoin="round"/>
<polygon points="126.1,143.1 139.8,152.3 127.9,149.2" fill="#f0c46c" stroke="#f0c46c" stroke-width="0.3" stroke-linejoin="round"/>
<polygon points="112.4,140.4 124.2,153.5 114.3,140.3" fill="#ff9850" stroke="#ff9850" stroke-width="0.3" stroke-linejoin="round"/>
<polygon points="139.8,152.3 151.6,163.3 153.3,162.8" fill="#68fcc1" stroke="#68fcc1" stroke-width="0.3" stroke-linejoin="round"/>
<polygon points="95.1,155.1 106.8,157.9 96.9,141.6" fill="#bbee91" stroke="#bbee91" stroke-width="0.3" stroke-linejoin="round"/>
<polygon points="124.2,153.5 126.1,143.1 114.3,140.3" fill="#ff9d53" stroke="#ff9d53" stroke-width="0.3" stroke-linejoin="round"/>
<polygon points="93.2,157.2 104.9,157.7 95.1,155.1" fill="#7effb5" stroke="#7effb5" stroke-width="0.3" stroke-linejoin="round"/>
<polygon points="110.6,145.6 124.2,153.5 112.4,140.4" fill="#ffa759" stroke="#ffa759" stroke-width="0.3" stroke-linejoin="round"/>
<polygon points="96.9,141.6 108.7,152.7 110.6,145.6" fill="#ffac5c" stroke="#ffac5c" stroke-width="0.3" stroke-linejoin="round"/>
<polygon points="137.9,155.7 151.6,163.3 139.8,152.3" fill="#90feab" stroke="#90feab" stroke-width="0.3" stroke-linejoin="round"/>
<polygon points="106.8,157.9 108.7,152.7 96.9,141.6" fill="#d2de81" stroke="#d2de81" stroke-width="0.3" stroke-linejoin="round"/>
<polygon points="104.9,157.7 106.8,157.9 95.1,155.1" fill="#84ffb2" stroke="#84ffb2" stroke-width="0.3" stroke-linejoin="round"/>
<polygon points="124.2,153.5 137.9,155.7 126.1,143.1" fill="#ded579" stroke="#ded579" stroke-width="0.3" stroke-linejoin="round"/>
<polygon points="126.1,143.1 137.9,155.7 139.8,152.3" fill="#e6cd73" stroke="#e6cd73" stroke-width="0.3" stroke-linejoin="round"/>
<polygon points="110.6,145.6 122.4,151.6 124.2,153.5" fill="#e6cd73" stroke="#e6cd73" stroke-width="0.3" stroke-linejoin="round"/>
<polygon points="108.7,152.7 122.4,151.6 110.6,145.6" fill="#ebca70" stroke="#ebca70" stroke-width="0.3" stroke-linejoin="round"/>
<polygon points="124.2,153.5 136.1,156.2 137.9,155.7" fill="#b0f397" stroke="#b0f397" stroke-width="0.3" stroke-linejoin="round"/>
<polygon points="137.9,155.7 149.9,160.1 151.6,163.3" fill="#80ffb4" stroke="#80ffb4" stroke-width="0.3" stroke-linejoin="round"/>
<polygon points="106.8,157.9 118.7,159.8 108.7,152.7" fill="#9bfba5" stroke="#9bfba5" stroke-width="0.3" stroke-linejoin="round"/>
<polygon points="108.7,152.7 120.5,155.8 122.4,151.6" fill="#cce385" stroke="#cce385" stroke-width="0.3" stroke-linejoin="round"/>
<polygon points="122.4,151.6 134.3,157.8 124.2,153.5" fill="#c6e789" stroke="#c6e789" stroke-width="0.3" stroke-linejoin="round"/>
<polygon points="134.3,157.8 136.1,156.2 124.2,153.5" fill="#b6f193" stroke="#b6f193" stroke-width="0.3" stroke-linejoin="round"/>
<polygon points="136.1,156.2 149.9,160.1 137.9,155.7" fill="#a8f79c" stroke="#a8f79c" stroke-width="0.3" stroke-linejoin="round"/>
<polygon points="118.7,159.8 120.5,155.8 108.7,152.7" fill="#b0f397" stroke="#b0f397" stroke-width="0.3" stroke-linejoin="round"/>
<polygon points="104.9,157.7 116.8,162.8 106.8,157.9" fill="#88ffaf" stroke="#88ffaf" stroke-width="0.3" stroke-linejoin="round"/>
<polygon points="136.1,156.2 148.0,168.4 149.9,160.1" fill="#7dffb6" stroke="#7dffb6" stroke-width="0.3" stroke-linejoin="round"/>
<polygon points="116.8,162.8 118.7,159.8 106.8,157.9" fill="#86ffb0" stroke="#86ffb0" stroke-width="0.3" stroke-linejoin="round"/>
<polygon points="134.3,157.8 148.0,168.4 136.1,156.2" fill="#88ffaf" stroke="#88ffaf" stroke-width="0.3" stroke-linejoin="round"/>
<polygon points="120.5,155.8 132.5,160.9 122.4,151.6" fill="#c4e88a" stroke="#c4e88a" stroke-width="0.3" stroke-linejoin="round"/>
<polygon points="132.5,160.9 134.3,157.8 122.4,151.6" fill="#c2ea8c" stroke="#c2ea8c" stroke-width="0.3" stroke-linejoin="round"/>
<polygon points="134.3,157.8 146.3,163.9 148.0,168.4" fill="#78ffb8" stroke="#78ffb8" stroke-width="0.3" stroke-linejoin="round"/>
<polygon points="118.7,159.8 130.7,160.1 120.5,155.8" fill="#b4f295" stroke="#b4f295" stroke-width="0.3" stroke-linejoin="round"/>
<polygon points="132.5,160.9 146.3,163.9 134.3,157.8" fill="#a2f9a0" stroke="#a2f9a0" stroke-width="0.3" stroke-linejoin="round"/>
<polygon points="130.7,160.1 132.5,160.9 120.5,155.8" fill="#b9ef92" stroke="#b9ef92" stroke-width="0.3" stroke-linejoin="round"/>
<polygon points="116.8,162.8 130.7,160.1 118.7,159.8" fill="#9efaa2" stroke="#9efaa2" stroke-width="0.3" stroke-linejoin="round"/>
<polygon points="132.5,160.9 144.4,171.8 146.3,163.9" fill="#70febc" stroke="#70febc" stroke-width="0.3" stroke-linejoin="round"/>
<polygon points="116.8,162.8 128.7,169.0 130.7,160.1" fill="#88ffaf" stroke="#88ffaf" stroke-width="0.3" stroke-linejoin="round"/>
<polygon points="142.6,168.5 144.4,171.8 132.5,160.9" fill="#68fcc1" stroke="#68fcc1" stroke-width="0.3" stroke-linejoin="round"/>
<polygon points="130.7,160.1 142.6,168.5 132.5,160.9" fill="#a0faa1" stroke="#a0faa1" stroke-width="0.3" stroke-linejoin="round"/>
<polygon points="128.7,169.0 140.9,167.4 130.7,160.1" fill="#94fda8" stroke="#94fda8" stroke-width="0.3" stroke-linejoin="round"/>
<polygon points="140.9,167.4 142.6,168.5 130.7,160.1" fill="#a0faa1" stroke="#a0faa1" stroke-width="0.3" stroke-linejoin="round"/>
</g>
<g id="labelsA">
<text class="tk" x="8.6" y="195.2">0.0</text>
<text class="tk" x="19.4" y="198.5">0.5</text>
<text class="tk" x="30.2" y="201.9">1.0</text>
<text class="tk" x="41.2" y="205.3">1.5</text>
<text class="tk" x="52.4" y="208.7">2.0</text>
<text class="tk" x="63.6" y="212.2">2.5</text>
<text class="tk" x="75.0" y="215.7">3.0</text>
<text class="tk" x="86.4" y="219.3">3.5</text>
<text class="tk" x="98.1" y="223.0">4.0</text>
<text class="tk" x="109.8" y="226.7">4.5</text>
<text class="tk" x="121.6" y="230.4">5.0</text>
<text class="tk" x="133.6" y="234.2">5.5</text>
<text class="tk" x="152.4" y="230.5">0</text>
<text class="tk" x="160.9" y="222.0">5</text>
<text class="tk" x="169.3" y="213.7">10</text>
<text class="tk" x="177.6" y="205.5">15</text>
<text class="tk" x="185.8" y="197.4">20</text>
<text class="tk" x="193.9" y="189.5">25</text>
<text class="tk" x="201.8" y="181.6">30</text>
<text class="tk" x="209.7" y="174.0">35</text>
<text class="tk" x="217.4" y="166.4">40</text>
<text class="tk" x="223.6" y="145.6">-100</text>
<text class="tk" x="225.6" y="130.4">-80</text>
<text class="tk" x="226.2" y="115.2">-60</text>
<text class="tk" x="226.2" y="99.7">-40</text>
<text class="tk" x="226.9" y="84.4">-20</text>
<text class="tk" x="227.6" y="68.4">0</text>
<text class="al" x="63.2" y="223.7">x /m</text>
<text class="al" x="196.3" y="204.5">y /m</text>
<text class="pw" transform="translate(242.0,105.4) rotate(-90)">Power /dBm</text>
<text class="ti" x="109.5" y="12">RSS Map of the 1-th AP</text>
</g>
<g id="plotB" transform="matrix(0.937 0 0 0.921 317.07 9.5)">
<polygon points="11.4,178.9 87.7,119.6 86.8,32.8 7.0,86.2" fill="#fbfbfb"/>
<polygon points="87.7,119.6 209.4,152.6 213.6,63.2 86.8,32.8" fill="#f7f7f7"/>
<polygon points="11.4,178.9 141.4,218.0 209.4,152.6 87.7,119.6" fill="#f9f9f9"/>
<line class="g" x1="13.9" y1="179.7" x2="90.1" y2="120.3"/>
<line class="g" x1="90.1" y1="120.3" x2="89.2" y2="33.4"/>
<line class="g" x1="24.8" y1="182.9" x2="100.3" y2="123.0"/>
<line class="g" x1="100.3" y1="123.0" x2="99.9" y2="35.9"/>
<line class="g" x1="35.8" y1="186.2" x2="110.6" y2="125.8"/>
<line class="g" x1="110.6" y1="125.8" x2="110.6" y2="38.5"/>
<line class="g" x1="46.8" y1="189.5" x2="121.0" y2="128.7"/>
<line class="g" x1="121.0" y1="128.7" x2="121.4" y2="41.1"/>
<line class="g" x1="58.0" y1="192.9" x2="131.4" y2="131.5"/>
<line class="g" x1="131.4" y1="131.5" x2="132.3" y2="43.7"/>
<line class="g" x1="69.2" y1="196.3" x2="142.0" y2="134.3"/>
<line class="g" x1="142.0" y1="134.3" x2="143.3" y2="46.3"/>
<line class="g" x1="80.6" y1="199.7" x2="152.6" y2="137.2"/>
<line class="g" x1="152.6" y1="137.2" x2="154.3" y2="49.0"/>
<line class="g" x1="92.0" y1="203.1" x2="163.3" y2="140.1"/>
<line class="g" x1="163.3" y1="140.1" x2="165.5" y2="51.6"/>
<line class="g" x1="103.5" y1="206.6" x2="174.0" y2="143.0"/>
<line class="g" x1="174.0" y1="143.0" x2="176.7" y2="54.3"/>
<line class="g" x1="115.1" y1="210.1" x2="184.9" y2="146.0"/>
<line class="g" x1="184.9" y1="146.0" x2="188.0" y2="57.0"/>
<line class="g" x1="126.9" y1="213.6" x2="195.8" y2="148.9"/>
<line class="g" x1="195.8" y1="148.9" x2="199.4" y2="59.8"/>
<line class="g" x1="138.7" y1="217.2" x2="206.9" y2="151.9"/>
<line class="g" x1="206.9" y1="151.9" x2="211.0" y2="62.5"/>
<line class="g" x1="13.1" y1="177.6" x2="142.9" y2="216.6"/>
<line class="g" x1="13.1" y1="177.6" x2="8.8" y2="85.0"/>
<line class="g" x1="23.0" y1="170.0" x2="151.7" y2="208.1"/>
<line class="g" x1="23.0" y1="170.0" x2="19.1" y2="78.1"/>
<line class="g" x1="32.6" y1="162.5" x2="160.3" y2="199.8"/>
<line class="g" x1="32.6" y1="162.5" x2="29.2" y2="71.3"/>
<line class="g" x1="42.1" y1="155.1" x2="168.8" y2="191.7"/>
<line class="g" x1="42.1" y1="155.1" x2="39.1" y2="64.7"/>
<line class="g" x1="51.3" y1="147.9" x2="177.0" y2="183.8"/>
<line class="g" x1="51.3" y1="147.9" x2="48.8" y2="58.2"/>
<line class="g" x1="60.3" y1="140.9" x2="185.1" y2="176.0"/>
<line class="g" x1="60.3" y1="140.9" x2="58.2" y2="51.9"/>
<line class="g" x1="69.2" y1="134.0" x2="192.9" y2="168.5"/>
<line class="g" x1="69.2" y1="134.0" x2="67.5" y2="45.7"/>
<line class="g" x1="77.8" y1="127.3" x2="200.6" y2="161.1"/>
<line class="g" x1="77.8" y1="127.3" x2="76.5" y2="39.7"/>
<line class="g" x1="86.3" y1="120.7" x2="208.2" y2="153.8"/>
<line class="g" x1="86.3" y1="120.7" x2="85.3" y2="33.7"/>
<line class="g" x1="10.9" y1="168.0" x2="87.6" y2="109.4"/>
<line class="g" x1="87.6" y1="109.4" x2="209.9" y2="142.0"/>
<line class="g" x1="10.2" y1="152.5" x2="87.5" y2="94.8"/>
<line class="g" x1="87.5" y1="94.8" x2="210.6" y2="127.1"/>
<line class="g" x1="9.4" y1="136.7" x2="87.3" y2="80.0"/>
<line class="g" x1="87.3" y1="80.0" x2="211.3" y2="111.9"/>
<line class="g" x1="8.7" y1="120.8" x2="87.1" y2="65.1"/>
<line class="g" x1="87.1" y1="65.1" x2="212.0" y2="96.5"/>
<line class="g" x1="7.9" y1="104.5" x2="87.0" y2="49.9"/>
<line class="g" x1="87.0" y1="49.9" x2="212.8" y2="80.9"/>
<line class="g" x1="7.1" y1="88.1" x2="86.8" y2="34.6"/>
<line class="g" x1="86.8" y1="34.6" x2="213.5" y2="65.0"/>
<line class="a" x1="11.4" y1="178.9" x2="141.4" y2="218.0"/>
<line class="a" x1="141.4" y1="218.0" x2="209.4" y2="152.6"/>
<line class="a" x1="209.4" y1="152.6" x2="213.6" y2="63.2"/>
<line class="t" x1="14.6" y1="178.8" x2="12.9" y2="181.1"/>
<line class="t" x1="25.5" y1="182.0" x2="23.8" y2="184.3"/>
<line class="t" x1="36.5" y1="185.3" x2="34.8" y2="187.6"/>
<line class="t" x1="47.5" y1="188.6" x2="45.8" y2="190.9"/>
<line class="t" x1="58.7" y1="192.0" x2="57.0" y2="194.3"/>
<line class="t" x1="69.9" y1="195.4" x2="68.2" y2="197.7"/>
<line class="t" x1="81.3" y1="198.8" x2="79.6" y2="201.1"/>
<line class="t" x1="92.7" y1="202.2" x2="91.0" y2="204.5"/>
<line class="t" x1="104.2" y1="205.7" x2="102.5" y2="208.0"/>
<line class="t" x1="115.8" y1="209.2" x2="114.1" y2="211.5"/>
<line class="t" x1="127.6" y1="212.7" x2="125.9" y2="215.0"/>
<line class="t" x1="139.4" y1="216.3" x2="137.7" y2="218.6"/>
<line class="t" x1="141.7" y1="216.2" x2="144.9" y2="217.3"/>
<line class="t" x1="150.5" y1="207.7" x2="153.7" y2="208.8"/>
<line class="t" x1="159.1" y1="199.4" x2="162.3" y2="200.5"/>
<line class="t" x1="167.6" y1="191.3" x2="170.8" y2="192.4"/>
<line class="t" x1="175.8" y1="183.4" x2="179.0" y2="184.5"/>
<line class="t" x1="183.9" y1="175.6" x2="187.1" y2="176.7"/>
<line class="t" x1="191.7" y1="168.1" x2="194.9" y2="169.2"/>
<line class="t" x1="199.4" y1="160.7" x2="202.6" y2="161.8"/>
<line class="t" x1="207.0" y1="153.4" x2="210.2" y2="154.5"/>
<line class="t" x1="208.7" y1="141.7" x2="212.1" y2="142.5"/>
<line class="t" x1="209.4" y1="126.8" x2="212.8" y2="127.6"/>
<line class="t" x1="210.1" y1="111.6" x2="213.5" y2="112.4"/>
<line class="t" x1="210.8" y1="96.2" x2="214.2" y2="97.0"/>
<line class="t" x1="211.6" y1="80.6" x2="215.0" y2="81.4"/>
<line class="t" x1="212.3" y1="64.7" x2="215.7" y2="65.5"/>
<polygon points="83.0,77.1 95.3,81.7 84.8,80.9" fill="#b6f193" stroke="#b6f193" stroke-width="0.3" stroke-linejoin="round"/>
<polygon points="84.8,80.9 96.9,68.9 86.4,68.5" fill="#ff9850" stroke="#ff9850" stroke-width="0.3" stroke-linejoin="round"/>
<polygon points="84.8,80.9 95.3,81.7 96.9,68.9" fill="#e4cf74" stroke="#e4cf74" stroke-width="0.3" stroke-linejoin="round"/>
<polygon points="86.4,68.5 98.6,62.8 88.1,63.0" fill="#ff0000" stroke="#ff0000" stroke-width="0.3" stroke-linejoin="round"/>
<polygon points="83.0,77.1 93.5,80.0 95.3,81.7" fill="#d0e082" stroke="#d0e082" stroke-width="0.3" stroke-linejoin="round"/>
<polygon points="81.3,81.0 93.5,80.0 83.0,77.1" fill="#d4dd80" stroke="#d4dd80" stroke-width="0.3" stroke-linejoin="round"/>
<polygon points="86.4,68.5 96.9,68.9 98.6,62.8" fill="#ff0905" stroke="#ff0905" stroke-width="0.3" stroke-linejoin="round"/>
<polygon points="95.3,81.7 105.8,84.4 96.9,68.9" fill="#eec66d" stroke="#eec66d" stroke-width="0.3" stroke-linejoin="round"/>
<polygon points="81.3,81.0 91.8,86.6 93.5,80.0" fill="#b6f193" stroke="#b6f193" stroke-width="0.3" stroke-linejoin="round"/>
<polygon points="79.6,82.5 90.1,88.3 81.3,81.0" fill="#a4f89f" stroke="#a4f89f" stroke-width="0.3" stroke-linejoin="round"/>
<polygon points="90.1,88.3 91.8,86.6 81.3,81.0" fill="#96fca7" stroke="#96fca7" stroke-width="0.3" stroke-linejoin="round"/>
<polygon points="93.5,80.0 104.1,82.9 95.3,81.7" fill="#cee184" stroke="#cee184" stroke-width="0.3" stroke-linejoin="round"/>
<polygon points="104.1,82.9 105.8,84.4 95.3,81.7" fill="#beec8e" stroke="#beec8e" stroke-width="0.3" stroke-linejoin="round"/>
<polygon points="96.9,68.9 109.2,69.2 98.6,62.8" fill="#ff0000" stroke="#ff0000" stroke-width="0.3" stroke-linejoin="round"/>
<polygon points="105.8,84.4 107.5,73.7 96.9,68.9" fill="#ff8c49" stroke="#ff8c49" stroke-width="0.3" stroke-linejoin="round"/>
<polygon points="77.8,82.5 90.1,88.3 79.6,82.5" fill="#abf69b" stroke="#abf69b" stroke-width="0.3" stroke-linejoin="round"/>
<polygon points="91.8,86.6 104.1,82.9 93.5,80.0" fill="#c2ea8c" stroke="#c2ea8c" stroke-width="0.3" stroke-linejoin="round"/>
<polygon points="96.9,68.9 107.5,73.7 109.2,69.2" fill="#ff2914" stroke="#ff2914" stroke-width="0.3" stroke-linejoin="round"/>
<polygon points="90.1,88.3 100.7,90.3 91.8,86.6" fill="#88ffaf" stroke="#88ffaf" stroke-width="0.3" stroke-linejoin="round"/>
<polygon points="105.8,84.4 116.5,86.7 107.5,73.7" fill="#e4cf74" stroke="#e4cf74" stroke-width="0.3" stroke-linejoin="round"/>
<polygon points="91.8,86.6 102.4,88.1 104.1,82.9" fill="#acf59a" stroke="#acf59a" stroke-width="0.3" stroke-linejoin="round"/>
<polygon points="77.8,82.5 88.4,89.2 90.1,88.3" fill="#9cfba4" stroke="#9cfba4" stroke-width="0.3" stroke-linejoin="round"/>
<polygon points="104.1,82.9 116.5,86.7 105.8,84.4" fill="#c0eb8d" stroke="#c0eb8d" stroke-width="0.3" stroke-linejoin="round"/>
<polygon points="107.5,73.7 118.2,79.4 109.2,69.2" fill="#ff5029" stroke="#ff5029" stroke-width="0.3" stroke-linejoin="round"/>
<polygon points="100.7,90.3 102.4,88.1 91.8,86.6" fill="#92fda9" stroke="#92fda9" stroke-width="0.3" stroke-linejoin="round"/>
<polygon points="76.0,84.5 88.4,89.2 77.8,82.5" fill="#b0f397" stroke="#b0f397" stroke-width="0.3" stroke-linejoin="round"/>
<polygon points="118.2,79.4 119.9,75.8 109.2,69.2" fill="#ff562c" stroke="#ff562c" stroke-width="0.3" stroke-linejoin="round"/>
<polygon points="88.4,89.2 100.7,90.3 90.1,88.3" fill="#88ffaf" stroke="#88ffaf" stroke-width="0.3" stroke-linejoin="round"/>
<polygon points="116.5,86.7 118.2,79.4 107.5,73.7" fill="#ffa95b" stroke="#ffa95b" stroke-width="0.3" stroke-linejoin="round"/>
<polygon points="76.0,84.5 86.6,91.2 88.4,89.2" fill="#96fca7" stroke="#96fca7" stroke-width="0.3" stroke-linejoin="round"/>
<polygon points="102.4,88.1 114.8,86.2 104.1,82.9" fill="#c4e88a" stroke="#c4e88a" stroke-width="0.3" stroke-linejoin="round"/>
<polygon points="104.1,82.9 114.8,86.2 116.5,86.7" fill="#cce385" stroke="#cce385" stroke-width="0.3" stroke-linejoin="round"/>
<polygon points="118.2,79.4 130.6,80.6 119.9,75.8" fill="#ff8444" stroke="#ff8444" stroke-width="0.3" stroke-linejoin="round"/>
<polygon points="74.3,84.9 86.6,91.2 76.0,84.5" fill="#acf59a" stroke="#acf59a" stroke-width="0.3" stroke-linejoin="round"/>
<polygon points="116.5,86.7 127.2,90.5 118.2,79.4" fill="#d2de81" stroke="#d2de81" stroke-width="0.3" stroke-linejoin="round"/>
<polygon points="88.4,89.2 99.0,91.9 100.7,90.3" fill="#8bfeae" stroke="#8bfeae" stroke-width="0.3" stroke-linejoin="round"/>
<polygon points="100.7,90.3 113.1,90.7 102.4,88.1" fill="#9bfba5" stroke="#9bfba5" stroke-width="0.3" stroke-linejoin="round"/>
<polygon points="86.6,91.2 97.3,95.2 88.4,89.2" fill="#7affb7" stroke="#7affb7" stroke-width="0.3" stroke-linejoin="round"/>
<polygon points="114.8,86.2 127.2,90.5 116.5,86.7" fill="#bbee91" stroke="#bbee91" stroke-width="0.3" stroke-linejoin="round"/>
<polygon points="102.4,88.1 113.1,90.7 114.8,86.2" fill="#b0f397" stroke="#b0f397" stroke-width="0.3" stroke-linejoin="round"/>
<polygon points="118.2,79.4 128.9,83.4 130.6,80.6" fill="#ff9d53" stroke="#ff9d53" stroke-width="0.3" stroke-linejoin="round"/>
<polygon points="74.3,84.9 84.9,92.3 86.6,91.2" fill="#99fca6" stroke="#99fca6" stroke-width="0.3" stroke-linejoin="round"/>
<polygon points="97.3,95.2 99.0,91.9 88.4,89.2" fill="#7effb5" stroke="#7effb5" stroke-width="0.3" stroke-linejoin="round"/>
<polygon points="127.2,90.5 128.9,83.4 118.2,79.4" fill="#ebca70" stroke="#ebca70" stroke-width="0.3" stroke-linejoin="round"/>
<polygon points="72.5,87.3 84.9,92.3 74.3,84.9" fill="#acf59a" stroke="#acf59a" stroke-width="0.3" stroke-linejoin="round"/>
<polygon points="100.7,90.3 111.4,94.3 113.1,90.7" fill="#8efeac" stroke="#8efeac" stroke-width="0.3" stroke-linejoin="round"/>
<polygon points="99.0,91.9 109.7,95.4 100.7,90.3" fill="#88ffaf" stroke="#88ffaf" stroke-width="0.3" stroke-linejoin="round"/>
<polygon points="72.5,87.3 83.2,95.8 84.9,92.3" fill="#86ffb0" stroke="#86ffb0" stroke-width="0.3" stroke-linejoin="round"/>
<polygon points="84.9,92.3 95.5,95.5 86.6,91.2" fill="#7dffb6" stroke="#7dffb6" stroke-width="0.3" stroke-linejoin="round"/>
<polygon points="114.8,86.2 125.5,90.2 127.2,90.5" fill="#beec8e" stroke="#beec8e" stroke-width="0.3" stroke-linejoin="round"/>
<polygon points="113.1,90.7 125.5,90.2 114.8,86.2" fill="#bced8f" stroke="#bced8f" stroke-width="0.3" stroke-linejoin="round"/>
<polygon points="128.9,83.4 139.7,88.4 130.6,80.6" fill="#feb562" stroke="#feb562" stroke-width="0.3" stroke-linejoin="round"/>
<polygon points="109.7,95.4 111.4,94.3 100.7,90.3" fill="#82ffb3" stroke="#82ffb3" stroke-width="0.3" stroke-linejoin="round"/>
<polygon points="95.5,95.5 97.3,95.2 86.6,91.2" fill="#76ffb9" stroke="#76ffb9" stroke-width="0.3" stroke-linejoin="round"/>
<polygon points="127.2,90.5 139.7,88.4 128.9,83.4" fill="#d9da7d" stroke="#d9da7d" stroke-width="0.3" stroke-linejoin="round"/>
<polygon points="70.7,88.2 83.2,95.8 72.5,87.3" fill="#9cfba4" stroke="#9cfba4" stroke-width="0.3" stroke-linejoin="round"/>
<polygon points="139.7,88.4 141.4,85.4 130.6,80.6" fill="#fcb763" stroke="#fcb763" stroke-width="0.3" stroke-linejoin="round"/>
<polygon points="97.3,95.2 109.7,95.4 99.0,91.9" fill="#7affb7" stroke="#7affb7" stroke-width="0.3" stroke-linejoin="round"/>
<polygon points="83.2,95.8 95.5,95.5 84.9,92.3" fill="#72febb" stroke="#72febb" stroke-width="0.3" stroke-linejoin="round"/>
<polygon points="125.5,90.2 138.0,94.3 127.2,90.5" fill="#a8f79c" stroke="#a8f79c" stroke-width="0.3" stroke-linejoin="round"/>
<polygon points="111.4,94.3 122.2,97.8 113.1,90.7" fill="#82ffb3" stroke="#82ffb3" stroke-width="0.3" stroke-linejoin="round"/>
<polygon points="127.2,90.5 138.0,94.3 139.7,88.4" fill="#b4f295" stroke="#b4f295" stroke-width="0.3" stroke-linejoin="round"/>
<polygon points="113.1,90.7 123.8,94.5 125.5,90.2" fill="#a4f89f" stroke="#a4f89f" stroke-width="0.3" stroke-linejoin="round"/>
<polygon points="70.7,88.2 81.4,96.8 83.2,95.8" fill="#7effb5" stroke="#7effb5" stroke-width="0.3" stroke-linejoin="round"/>
<polygon points="122.2,97.8 123.8,94.5 113.1,90.7" fill="#8bfeae" stroke="#8bfeae" stroke-width="0.3" stroke-linejoin="round"/>
<polygon points="97.3,95.2 108.0,99.9 109.7,95.4" fill="#66fcc2" stroke="#66fcc2" stroke-width="0.3" stroke-linejoin="round"/>
<polygon points="83.2,95.8 93.8,100.0 95.5,95.5" fill="#5efac6" stroke="#5efac6" stroke-width="0.3" stroke-linejoin="round"/>
<polygon points="79.6,99.3 81.4,96.8 70.7,88.2" fill="#7affb7" stroke="#7affb7" stroke-width="0.3" stroke-linejoin="round"/>
<polygon points="68.9,91.2 79.6,99.3 70.7,88.2" fill="#90feab" stroke="#90feab" stroke-width="0.3" stroke-linejoin="round"/>
<polygon points="139.7,88.4 150.6,92.0 141.4,85.4" fill="#e4cf74" stroke="#e4cf74" stroke-width="0.3" stroke-linejoin="round"/>
<polygon points="95.5,95.5 106.3,100.4 97.3,95.2" fill="#68fcc1" stroke="#68fcc1" stroke-width="0.3" stroke-linejoin="round"/>
<polygon points="81.4,96.8 92.1,100.8 83.2,95.8" fill="#58f8c9" stroke="#58f8c9" stroke-width="0.3" stroke-linejoin="round"/>
<polygon points="109.7,95.4 120.5,98.5 111.4,94.3" fill="#7affb7" stroke="#7affb7" stroke-width="0.3" stroke-linejoin="round"/>
<polygon points="106.3,100.4 108.0,99.9 97.3,95.2" fill="#58f8c9" stroke="#58f8c9" stroke-width="0.3" stroke-linejoin="round"/>
<polygon points="125.5,90.2 136.4,93.1 138.0,94.3" fill="#b0f397" stroke="#b0f397" stroke-width="0.3" stroke-linejoin="round"/>
<polygon points="92.1,100.8 93.8,100.0 83.2,95.8" fill="#50f4cc" stroke="#50f4cc" stroke-width="0.3" stroke-linejoin="round"/>
<polygon points="123.8,94.5 136.4,93.1 125.5,90.2" fill="#aef498" stroke="#aef498" stroke-width="0.3" stroke-linejoin="round"/>
<polygon points="150.6,92.0 152.2,90.9 141.4,85.4" fill="#ded579" stroke="#ded579" stroke-width="0.3" stroke-linejoin="round"/>
<polygon points="138.0,94.3 150.6,92.0 139.7,88.4" fill="#c2ea8c" stroke="#c2ea8c" stroke-width="0.3" stroke-linejoin="round"/>
<polygon points="120.5,98.5 122.2,97.8 111.4,94.3" fill="#76ffb9" stroke="#76ffb9" stroke-width="0.3" stroke-linejoin="round"/>
<polygon points="93.8,100.0 106.3,100.4 95.5,95.5" fill="#5df9c7" stroke="#5df9c7" stroke-width="0.3" stroke-linejoin="round"/>
<polygon points="122.2,97.8 134.7,98.2 123.8,94.5" fill="#80ffb4" stroke="#80ffb4" stroke-width="0.3" stroke-linejoin="round"/>
<polygon points="79.6,99.3 92.1,100.8 81.4,96.8" fill="#54f6cb" stroke="#54f6cb" stroke-width="0.3" stroke-linejoin="round"/>
<polygon points="77.9,101.3 79.6,99.3 68.9,91.2" fill="#68fcc1" stroke="#68fcc1" stroke-width="0.3" stroke-linejoin="round"/>
<polygon points="108.0,99.9 118.8,101.6 109.7,95.4" fill="#62fbc4" stroke="#62fbc4" stroke-width="0.3" stroke-linejoin="round"/>
<polygon points="136.4,93.1 148.9,98.1 138.0,94.3" fill="#9cfba4" stroke="#9cfba4" stroke-width="0.3" stroke-linejoin="round"/>
<polygon points="138.0,94.3 148.9,98.1 150.6,92.0" fill="#a4f89f" stroke="#a4f89f" stroke-width="0.3" stroke-linejoin="round"/>
<polygon points="67.1,92.2 77.9,101.3 68.9,91.2" fill="#86ffb0" stroke="#86ffb0" stroke-width="0.3" stroke-linejoin="round"/>
<polygon points="123.8,94.5 134.7,98.2 136.4,93.1" fill="#9bfba5" stroke="#9bfba5" stroke-width="0.3" stroke-linejoin="round"/>
<polygon points="150.6,92.0 163.1,96.1 152.2,90.9" fill="#c2ea8c" stroke="#c2ea8c" stroke-width="0.3" stroke-linejoin="round"/>
<polygon points="118.8,101.6 120.5,98.5 109.7,95.4" fill="#70febc" stroke="#70febc" stroke-width="0.3" stroke-linejoin="round"/>
<polygon points="93.8,100.0 104.6,103.2 106.3,100.4" fill="#4af2cf" stroke="#4af2cf" stroke-width="0.3" stroke-linejoin="round"/>
<polygon points="92.1,100.8 104.6,103.2 93.8,100.0" fill="#46efd1" stroke="#46efd1" stroke-width="0.3" stroke-linejoin="round"/>
<polygon points="122.2,97.8 133.0,100.2 134.7,98.2" fill="#78ffb8" stroke="#78ffb8" stroke-width="0.3" stroke-linejoin="round"/>
<polygon points="120.5,98.5 133.0,100.2 122.2,97.8" fill="#74feba" stroke="#74feba" stroke-width="0.3" stroke-linejoin="round"/>
<polygon points="106.3,100.4 117.1,104.2 108.0,99.9" fill="#4ef3cd" stroke="#4ef3cd" stroke-width="0.3" stroke-linejoin="round"/>
<polygon points="79.6,99.3 90.3,102.1 92.1,100.8" fill="#4ef3cd" stroke="#4ef3cd" stroke-width="0.3" stroke-linejoin="round"/>
<polygon points="77.9,101.3 90.3,102.1 79.6,99.3" fill="#4df3ce" stroke="#4df3ce" stroke-width="0.3" stroke-linejoin="round"/>
<polygon points="76.1,103.6 77.9,101.3 67.1,92.2" fill="#60fac5" stroke="#60fac5" stroke-width="0.3" stroke-linejoin="round"/>
<polygon points="65.4,94.8 76.1,103.6 67.1,92.2" fill="#7affb7" stroke="#7affb7" stroke-width="0.3" stroke-linejoin="round"/>
<polygon points="117.1,104.2 118.8,101.6 108.0,99.9" fill="#50f4cc" stroke="#50f4cc" stroke-width="0.3" stroke-linejoin="round"/>
<polygon points="148.9,98.1 159.8,102.2 150.6,92.0" fill="#99fca6" stroke="#99fca6" stroke-width="0.3" stroke-linejoin="round"/>
<polygon points="136.4,93.1 147.3,96.1 148.9,98.1" fill="#abf69b" stroke="#abf69b" stroke-width="0.3" stroke-linejoin="round"/>
<polygon points="134.7,98.2 145.6,101.1 136.4,93.1" fill="#94fda8" stroke="#94fda8" stroke-width="0.3" stroke-linejoin="round"/>
<polygon points="150.6,92.0 161.5,94.5 163.1,96.1" fill="#c6e789" stroke="#c6e789" stroke-width="0.3" stroke-linejoin="round"/>
<polygon points="92.1,100.8 102.8,104.1 104.6,103.2" fill="#46efd1" stroke="#46efd1" stroke-width="0.3" stroke-linejoin="round"/>
<polygon points="118.8,101.6 131.3,102.3 120.5,98.5" fill="#6afdc0" stroke="#6afdc0" stroke-width="0.3" stroke-linejoin="round"/>
<polygon points="104.6,103.2 115.4,107.0 106.3,100.4" fill="#42edd3" stroke="#42edd3" stroke-width="0.3" stroke-linejoin="round"/>
<polygon points="133.0,100.2 145.6,101.1 134.7,98.2" fill="#7dffb6" stroke="#7dffb6" stroke-width="0.3" stroke-linejoin="round"/>
<polygon points="90.3,102.1 102.8,104.1 92.1,100.8" fill="#4df3ce" stroke="#4df3ce" stroke-width="0.3" stroke-linejoin="round"/>
<polygon points="120.5,98.5 131.3,102.3 133.0,100.2" fill="#72febb" stroke="#72febb" stroke-width="0.3" stroke-linejoin="round"/>
<polygon points="147.3,96.1 159.8,102.2 148.9,98.1" fill="#90feab" stroke="#90feab" stroke-width="0.3" stroke-linejoin="round"/>
<polygon points="77.9,101.3 88.6,104.1 90.3,102.1" fill="#48f1d0" stroke="#48f1d0" stroke-width="0.3" stroke-linejoin="round"/>
<polygon points="159.8,102.2 161.5,94.5 150.6,92.0" fill="#b2f396" stroke="#b2f396" stroke-width="0.3" stroke-linejoin="round"/>
<polygon points="145.6,101.1 147.3,96.1 136.4,93.1" fill="#a8f79c" stroke="#a8f79c" stroke-width="0.3" stroke-linejoin="round"/>
<polygon points="74.3,104.2 76.1,103.6 65.4,94.8" fill="#58f8c9" stroke="#58f8c9" stroke-width="0.3" stroke-linejoin="round"/>
<polygon points="76.1,103.6 86.8,107.2 77.9,101.3" fill="#37e6d8" stroke="#37e6d8" stroke-width="0.3" stroke-linejoin="round"/>
<polygon points="115.4,107.0 117.1,104.2 106.3,100.4" fill="#46efd1" stroke="#46efd1" stroke-width="0.3" stroke-linejoin="round"/>
<polygon points="63.5,95.1 74.3,104.2 65.4,94.8" fill="#7effb5" stroke="#7effb5" stroke-width="0.3" stroke-linejoin="round"/>
<polygon points="86.8,107.2 88.6,104.1 77.9,101.3" fill="#3ae8d6" stroke="#3ae8d6" stroke-width="0.3" stroke-linejoin="round"/>
<polygon points="117.1,104.2 129.6,103.9 118.8,101.6" fill="#58f8c9" stroke="#58f8c9" stroke-width="0.3" stroke-linejoin="round"/>
<polygon points="118.8,101.6 129.6,103.9 131.3,102.3" fill="#64fbc3" stroke="#64fbc3" stroke-width="0.3" stroke-linejoin="round"/>
<polygon points="90.3,102.1 101.1,106.5 102.8,104.1" fill="#44eed2" stroke="#44eed2" stroke-width="0.3" stroke-linejoin="round"/>
<polygon points="74.3,104.2 86.8,107.2 76.1,103.6" fill="#34e4d9" stroke="#34e4d9" stroke-width="0.3" stroke-linejoin="round"/>
<polygon points="161.5,94.5 172.6,97.2 163.1,96.1" fill="#c8e688" stroke="#c8e688" stroke-width="0.3" stroke-linejoin="round"/>
<polygon points="133.0,100.2 143.9,101.6 145.6,101.1" fill="#80ffb4" stroke="#80ffb4" stroke-width="0.3" stroke-linejoin="round"/>
<polygon points="102.8,104.1 113.7,107.2 104.6,103.2" fill="#44eed2" stroke="#44eed2" stroke-width="0.3" stroke-linejoin="round"/>
<polygon points="172.6,97.2 174.2,97.0 163.1,96.1" fill="#c2ea8c" stroke="#c2ea8c" stroke-width="0.3" stroke-linejoin="round"/>
<polygon points="131.3,102.3 142.3,105.2 133.0,100.2" fill="#6efebe" stroke="#6efebe" stroke-width="0.3" stroke-linejoin="round"/>
<polygon points="113.7,107.2 115.4,107.0 104.6,103.2" fill="#3dead5" stroke="#3dead5" stroke-width="0.3" stroke-linejoin="round"/>
<polygon points="147.3,96.1 158.3,99.0 159.8,102.2" fill="#a2f9a0" stroke="#a2f9a0" stroke-width="0.3" stroke-linejoin="round"/>
<polygon points="72.5,107.0 74.3,104.2 63.5,95.1" fill="#5af8c8" stroke="#5af8c8" stroke-width="0.3" stroke-linejoin="round"/>
<polygon points="61.7,98.2 72.5,107.0 63.5,95.1" fill="#72febb" stroke="#72febb" stroke-width="0.3" stroke-linejoin="round"/>
<polygon points="88.6,104.1 99.3,107.1 90.3,102.1" fill="#46efd1" stroke="#46efd1" stroke-width="0.3" stroke-linejoin="round"/>
<polygon points="159.8,102.2 172.6,97.2 161.5,94.5" fill="#b6f193" stroke="#b6f193" stroke-width="0.3" stroke-linejoin="round"/>
<polygon points="145.6,101.1 158.3,99.0 147.3,96.1" fill="#a6f89d" stroke="#a6f89d" stroke-width="0.3" stroke-linejoin="round"/>
<polygon points="115.4,107.0 128.0,106.6 117.1,104.2" fill="#44eed2" stroke="#44eed2" stroke-width="0.3" stroke-linejoin="round"/>
<polygon points="99.3,107.1 101.1,106.5 90.3,102.1" fill="#42edd3" stroke="#42edd3" stroke-width="0.3" stroke-linejoin="round"/>
<polygon points="142.3,105.2 143.9,101.6 133.0,100.2" fill="#7affb7" stroke="#7affb7" stroke-width="0.3" stroke-linejoin="round"/>
<polygon points="117.1,104.2 128.0,106.6 129.6,103.9" fill="#54f6cb" stroke="#54f6cb" stroke-width="0.3" stroke-linejoin="round"/>
<polygon points="101.1,106.5 113.7,107.2 102.8,104.1" fill="#40ecd4" stroke="#40ecd4" stroke-width="0.3" stroke-linejoin="round"/>
<polygon points="158.3,99.0 170.9,104.1 159.8,102.2" fill="#8efeac" stroke="#8efeac" stroke-width="0.3" stroke-linejoin="round"/>
<polygon points="74.3,104.2 85.0,107.9 86.8,107.2" fill="#34e4d9" stroke="#34e4d9" stroke-width="0.3" stroke-linejoin="round"/>
<polygon points="159.8,102.2 170.9,104.1 172.6,97.2" fill="#99fca6" stroke="#99fca6" stroke-width="0.3" stroke-linejoin="round"/>
<polygon points="70.7,109.3 72.5,107.0 61.7,98.2" fill="#42edd3" stroke="#42edd3" stroke-width="0.3" stroke-linejoin="round"/>
<polygon points="86.8,107.2 97.6,111.1 88.6,104.1" fill="#2ddedc" stroke="#2ddedc" stroke-width="0.3" stroke-linejoin="round"/>
<polygon points="143.9,101.6 156.6,103.6 145.6,101.1" fill="#86ffb0" stroke="#86ffb0" stroke-width="0.3" stroke-linejoin="round"/>
<polygon points="129.6,103.9 140.6,107.6 131.3,102.3" fill="#62fbc4" stroke="#62fbc4" stroke-width="0.3" stroke-linejoin="round"/>
<polygon points="59.9,100.3 70.7,109.3 61.7,98.2" fill="#5efac6" stroke="#5efac6" stroke-width="0.3" stroke-linejoin="round"/>
<polygon points="145.6,101.1 156.6,103.6 158.3,99.0" fill="#94fda8" stroke="#94fda8" stroke-width="0.3" stroke-linejoin="round"/>
<polygon points="72.5,107.0 83.3,110.4 74.3,104.2" fill="#2fe0db" stroke="#2fe0db" stroke-width="0.3" stroke-linejoin="round"/>
<polygon points="140.6,107.6 142.3,105.2 131.3,102.3" fill="#64fbc3" stroke="#64fbc3" stroke-width="0.3" stroke-linejoin="round"/>
<polygon points="97.6,111.1 99.3,107.1 88.6,104.1" fill="#34e4d9" stroke="#34e4d9" stroke-width="0.3" stroke-linejoin="round"/>
<polygon points="115.4,107.0 126.3,109.1 128.0,106.6" fill="#40ecd4" stroke="#40ecd4" stroke-width="0.3" stroke-linejoin="round"/>
<polygon points="83.3,110.4 85.0,107.9 74.3,104.2" fill="#30e1da" stroke="#30e1da" stroke-width="0.3" stroke-linejoin="round"/>
<polygon points="101.1,106.5 111.9,109.2 113.7,107.2" fill="#3ae8d6" stroke="#3ae8d6" stroke-width="0.3" stroke-linejoin="round"/>
<polygon points="85.0,107.9 97.6,111.1 86.8,107.2" fill="#27dade" stroke="#27dade" stroke-width="0.3" stroke-linejoin="round"/>
<polygon points="172.6,97.2 185.3,98.7 174.2,97.0" fill="#d2de81" stroke="#d2de81" stroke-width="0.3" stroke-linejoin="round"/>
<polygon points="128.0,106.6 140.6,107.6 129.6,103.9" fill="#5af8c8" stroke="#5af8c8" stroke-width="0.3" stroke-linejoin="round"/>
<polygon points="99.3,107.1 111.9,109.2 101.1,106.5" fill="#3ae8d6" stroke="#3ae8d6" stroke-width="0.3" stroke-linejoin="round"/>
<polygon points="113.7,107.2 124.6,109.9 115.4,107.0" fill="#3febd5" stroke="#3febd5" stroke-width="0.3" stroke-linejoin="round"/>
<polygon points="70.7,109.3 81.5,113.0 72.5,107.0" fill="#1acfe3" stroke="#1acfe3" stroke-width="0.3" stroke-linejoin="round"/>
<polygon points="143.9,101.6 155.0,104.4 156.6,103.6" fill="#8bfeae" stroke="#8bfeae" stroke-width="0.3" stroke-linejoin="round"/>
<polygon points="68.9,108.4 70.7,109.3 59.9,100.3" fill="#46efd1" stroke="#46efd1" stroke-width="0.3" stroke-linejoin="round"/>
<polygon points="124.6,109.9 126.3,109.1 115.4,107.0" fill="#3dead5" stroke="#3dead5" stroke-width="0.3" stroke-linejoin="round"/>
<polygon points="158.3,99.0 169.3,102.1 170.9,104.1" fill="#a4f89f" stroke="#a4f89f" stroke-width="0.3" stroke-linejoin="round"/>
<polygon points="170.9,104.1 182.0,107.4 172.6,97.2" fill="#9bfba5" stroke="#9bfba5" stroke-width="0.3" stroke-linejoin="round"/>
<polygon points="142.3,105.2 153.3,106.2 143.9,101.6" fill="#7effb5" stroke="#7effb5" stroke-width="0.3" stroke-linejoin="round"/>
<polygon points="81.5,113.0 83.3,110.4 72.5,107.0" fill="#1dd1e2" stroke="#1dd1e2" stroke-width="0.3" stroke-linejoin="round"/>
<polygon points="156.6,103.6 167.6,107.2 158.3,99.0" fill="#92fda9" stroke="#92fda9" stroke-width="0.3" stroke-linejoin="round"/>
<polygon points="58.1,100.4 68.9,108.4 59.9,100.3" fill="#6efebe" stroke="#6efebe" stroke-width="0.3" stroke-linejoin="round"/>
<polygon points="128.0,106.6 138.9,109.6 140.6,107.6" fill="#52f5cb" stroke="#52f5cb" stroke-width="0.3" stroke-linejoin="round"/>
<polygon points="111.9,109.2 124.6,109.9 113.7,107.2" fill="#40ecd4" stroke="#40ecd4" stroke-width="0.3" stroke-linejoin="round"/>
<polygon points="172.6,97.2 183.7,100.3 185.3,98.7" fill="#d6db7e" stroke="#d6db7e" stroke-width="0.3" stroke-linejoin="round"/>
<polygon points="85.0,107.9 95.8,109.9 97.6,111.1" fill="#2fe0db" stroke="#2fe0db" stroke-width="0.3" stroke-linejoin="round"/>
<polygon points="99.3,107.1 110.2,109.7 111.9,109.2" fill="#40ecd4" stroke="#40ecd4" stroke-width="0.3" stroke-linejoin="round"/>
<polygon points="153.3,106.2 155.0,104.4 143.9,101.6" fill="#8bfeae" stroke="#8bfeae" stroke-width="0.3" stroke-linejoin="round"/>
<polygon points="169.3,102.1 182.0,107.4 170.9,104.1" fill="#8efeac" stroke="#8efeac" stroke-width="0.3" stroke-linejoin="round"/>
<polygon points="97.6,111.1 108.5,114.1 99.3,107.1" fill="#27dade" stroke="#27dade" stroke-width="0.3" stroke-linejoin="round"/>
<polygon points="155.0,104.4 167.6,107.2 156.6,103.6" fill="#84ffb2" stroke="#84ffb2" stroke-width="0.3" stroke-linejoin="round"/>
<polygon points="167.6,107.2 169.3,102.1 158.3,99.0" fill="#a2f9a0" stroke="#a2f9a0" stroke-width="0.3" stroke-linejoin="round"/>
<polygon points="126.3,109.1 137.3,110.3 128.0,106.6" fill="#4df3ce" stroke="#4df3ce" stroke-width="0.3" stroke-linejoin="round"/>
<polygon points="182.0,107.4 183.7,100.3 172.6,97.2" fill="#b9ef92" stroke="#b9ef92" stroke-width="0.3" stroke-linejoin="round"/>
<polygon points="140.6,107.6 151.6,110.1 142.3,105.2" fill="#60fac5" stroke="#60fac5" stroke-width="0.3" stroke-linejoin="round"/>
<polygon points="83.3,110.4 94.1,112.1 85.0,107.9" fill="#2ddedc" stroke="#2ddedc" stroke-width="0.3" stroke-linejoin="round"/>
<polygon points="137.3,110.3 138.9,109.6 128.0,106.6" fill="#52f5cb" stroke="#52f5cb" stroke-width="0.3" stroke-linejoin="round"/>
<polygon points="108.5,114.1 110.2,109.7 99.3,107.1" fill="#37e6d8" stroke="#37e6d8" stroke-width="0.3" stroke-linejoin="round"/>
<polygon points="67.1,111.2 68.9,108.4 58.1,100.4" fill="#50f4cc" stroke="#50f4cc" stroke-width="0.3" stroke-linejoin="round"/>
<polygon points="56.3,102.7 67.1,111.2 58.1,100.4" fill="#66fcc2" stroke="#66fcc2" stroke-width="0.3" stroke-linejoin="round"/>
<polygon points="151.6,110.1 153.3,106.2 142.3,105.2" fill="#6efebe" stroke="#6efebe" stroke-width="0.3" stroke-linejoin="round"/>
<polygon points="68.9,108.4 79.7,110.9 70.7,109.3" fill="#34e4d9" stroke="#34e4d9" stroke-width="0.3" stroke-linejoin="round"/>
<polygon points="79.7,110.9 81.5,113.0 70.7,109.3" fill="#24d8df" stroke="#24d8df" stroke-width="0.3" stroke-linejoin="round"/>
<polygon points="138.9,109.6 151.6,110.1 140.6,107.6" fill="#56f7ca" stroke="#56f7ca" stroke-width="0.3" stroke-linejoin="round"/>
<polygon points="111.9,109.2 122.9,112.0 124.6,109.9" fill="#3febd5" stroke="#3febd5" stroke-width="0.3" stroke-linejoin="round"/>
<polygon points="94.1,112.1 95.8,109.9 85.0,107.9" fill="#37e6d8" stroke="#37e6d8" stroke-width="0.3" stroke-linejoin="round"/>
<polygon points="110.2,109.7 122.9,112.0 111.9,109.2" fill="#3febd5" stroke="#3febd5" stroke-width="0.3" stroke-linejoin="round"/>
<polygon points="81.5,113.0 94.1,112.1 83.3,110.4" fill="#20d5e1" stroke="#20d5e1" stroke-width="0.3" stroke-linejoin="round"/>
<polygon points="155.0,104.4 166.0,109.1 167.6,107.2" fill="#7dffb6" stroke="#7dffb6" stroke-width="0.3" stroke-linejoin="round"/>
<polygon points="183.7,100.3 194.9,104.8 185.3,98.7" fill="#cce385" stroke="#cce385" stroke-width="0.3" stroke-linejoin="round"/>
<polygon points="54.4,105.8 67.1,111.2 56.3,102.7" fill="#58f8c9" stroke="#58f8c9" stroke-width="0.3" stroke-linejoin="round"/>
<polygon points="124.6,109.9 135.6,112.2 126.3,109.1" fill="#46efd1" stroke="#46efd1" stroke-width="0.3" stroke-linejoin="round"/>
<polygon points="153.3,106.2 166.0,109.1 155.0,104.4" fill="#82ffb3" stroke="#82ffb3" stroke-width="0.3" stroke-linejoin="round"/>
<polygon points="169.3,102.1 180.5,106.1 182.0,107.4" fill="#9bfba5" stroke="#9bfba5" stroke-width="0.3" stroke-linejoin="round"/>
<polygon points="194.9,104.8 196.5,103.1 185.3,98.7" fill="#c6e789" stroke="#c6e789" stroke-width="0.3" stroke-linejoin="round"/>
<polygon points="95.8,109.9 106.7,113.3 97.6,111.1" fill="#30e1da" stroke="#30e1da" stroke-width="0.3" stroke-linejoin="round"/>
<polygon points="182.0,107.4 194.9,104.8 183.7,100.3" fill="#aef498" stroke="#aef498" stroke-width="0.3" stroke-linejoin="round"/>
<polygon points="106.7,113.3 108.5,114.1 97.6,111.1" fill="#22d6e0" stroke="#22d6e0" stroke-width="0.3" stroke-linejoin="round"/>
<polygon points="167.6,107.2 178.8,110.1 169.3,102.1" fill="#8cfead" stroke="#8cfead" stroke-width="0.3" stroke-linejoin="round"/>
<polygon points="67.1,111.2 79.7,110.9 68.9,108.4" fill="#38e7d7" stroke="#38e7d7" stroke-width="0.3" stroke-linejoin="round"/>
<polygon points="135.6,112.2 137.3,110.3 126.3,109.1" fill="#4df3ce" stroke="#4df3ce" stroke-width="0.3" stroke-linejoin="round"/>
<polygon points="54.4,105.8 65.3,113.9 67.1,111.2" fill="#34e4d9" stroke="#34e4d9" stroke-width="0.3" stroke-linejoin="round"/>
<polygon points="138.9,109.6 150.0,113.2 151.6,110.1" fill="#50f4cc" stroke="#50f4cc" stroke-width="0.3" stroke-linejoin="round"/>
<polygon points="137.3,110.3 150.0,113.2 138.9,109.6" fill="#4ef3cd" stroke="#4ef3cd" stroke-width="0.3" stroke-linejoin="round"/>
<polygon points="180.5,106.1 193.2,110.6 182.0,107.4" fill="#86ffb0" stroke="#86ffb0" stroke-width="0.3" stroke-linejoin="round"/>
<polygon points="122.9,112.0 135.6,112.2 124.6,109.9" fill="#46efd1" stroke="#46efd1" stroke-width="0.3" stroke-linejoin="round"/>
<polygon points="182.0,107.4 193.2,110.6 194.9,104.8" fill="#8cfead" stroke="#8cfead" stroke-width="0.3" stroke-linejoin="round"/>
<polygon points="81.5,113.0 92.3,115.4 94.1,112.1" fill="#1dd1e2" stroke="#1dd1e2" stroke-width="0.3" stroke-linejoin="round"/>
<polygon points="110.2,109.7 121.1,113.7 122.9,112.0" fill="#3dead5" stroke="#3dead5" stroke-width="0.3" stroke-linejoin="round"/>
<polygon points="178.8,110.1 180.5,106.1 169.3,102.1" fill="#9bfba5" stroke="#9bfba5" stroke-width="0.3" stroke-linejoin="round"/>
<polygon points="79.7,110.9 92.3,115.4 81.5,113.0" fill="#22d6e0" stroke="#22d6e0" stroke-width="0.3" stroke-linejoin="round"/>
<polygon points="153.3,106.2 164.4,110.1 166.0,109.1" fill="#7affb7" stroke="#7affb7" stroke-width="0.3" stroke-linejoin="round"/>
<polygon points="108.5,114.1 119.4,115.8 110.2,109.7" fill="#2fe0db" stroke="#2fe0db" stroke-width="0.3" stroke-linejoin="round"/>
<polygon points="166.0,109.1 177.2,112.3 167.6,107.2" fill="#72febb" stroke="#72febb" stroke-width="0.3" stroke-linejoin="round"/>
<polygon points="63.4,114.8 65.3,113.9 54.4,105.8" fill="#2fe0db" stroke="#2fe0db" stroke-width="0.3" stroke-linejoin="round"/>
<polygon points="194.9,104.8 207.7,107.3 196.5,103.1" fill="#b9ef92" stroke="#b9ef92" stroke-width="0.3" stroke-linejoin="round"/>
<polygon points="151.6,110.1 162.8,112.5 153.3,106.2" fill="#6efebe" stroke="#6efebe" stroke-width="0.3" stroke-linejoin="round"/>
<polygon points="67.1,111.2 77.9,114.8 79.7,110.9" fill="#2ddedc" stroke="#2ddedc" stroke-width="0.3" stroke-linejoin="round"/>
<polygon points="94.1,112.1 105.0,116.1 95.8,109.9" fill="#32e3da" stroke="#32e3da" stroke-width="0.3" stroke-linejoin="round"/>
<polygon points="65.3,113.9 76.1,118.0 67.1,111.2" fill="#12c8e6" stroke="#12c8e6" stroke-width="0.3" stroke-linejoin="round"/>
<polygon points="52.6,106.3 63.4,114.8 54.4,105.8" fill="#50f4cc" stroke="#50f4cc" stroke-width="0.3" stroke-linejoin="round"/>
<polygon points="177.2,112.3 178.8,110.1 167.6,107.2" fill="#74feba" stroke="#74feba" stroke-width="0.3" stroke-linejoin="round"/>
<polygon points="119.4,115.8 121.1,113.7 110.2,109.7" fill="#38e7d7" stroke="#38e7d7" stroke-width="0.3" stroke-linejoin="round"/>
<polygon points="105.0,116.1 106.7,113.3 95.8,109.9" fill="#34e4d9" stroke="#34e4d9" stroke-width="0.3" stroke-linejoin="round"/>
<polygon points="137.3,110.3 148.3,114.0 150.0,113.2" fill="#4df3ce" stroke="#4df3ce" stroke-width="0.3" stroke-linejoin="round"/>
<polygon points="162.8,112.5 164.4,110.1 153.3,106.2" fill="#76ffb9" stroke="#76ffb9" stroke-width="0.3" stroke-linejoin="round"/>
<polygon points="76.1,118.0 77.9,114.8 67.1,111.2" fill="#17cbe4" stroke="#17cbe4" stroke-width="0.3" stroke-linejoin="round"/>
<polygon points="106.7,113.3 119.4,115.8 108.5,114.1" fill="#28dbde" stroke="#28dbde" stroke-width="0.3" stroke-linejoin="round"/>
<polygon points="121.1,113.7 133.9,114.8 122.9,112.0" fill="#3ae8d6" stroke="#3ae8d6" stroke-width="0.3" stroke-linejoin="round"/>
<polygon points="122.9,112.0 133.9,114.8 135.6,112.2" fill="#42edd3" stroke="#42edd3" stroke-width="0.3" stroke-linejoin="round"/>
<polygon points="150.0,113.2 161.1,117.4 151.6,110.1" fill="#46efd1" stroke="#46efd1" stroke-width="0.3" stroke-linejoin="round"/>
<polygon points="135.6,112.2 148.3,114.0 137.3,110.3" fill="#50f4cc" stroke="#50f4cc" stroke-width="0.3" stroke-linejoin="round"/>
<polygon points="180.5,106.1 191.7,109.4 193.2,110.6" fill="#92fda9" stroke="#92fda9" stroke-width="0.3" stroke-linejoin="round"/>
<polygon points="193.2,110.6 204.4,114.8 194.9,104.8" fill="#84ffb2" stroke="#84ffb2" stroke-width="0.3" stroke-linejoin="round"/>
<polygon points="178.8,110.1 191.7,109.4 180.5,106.1" fill="#92fda9" stroke="#92fda9" stroke-width="0.3" stroke-linejoin="round"/>
<polygon points="164.4,110.1 175.6,113.9 166.0,109.1" fill="#70febc" stroke="#70febc" stroke-width="0.3" stroke-linejoin="round"/>
<polygon points="92.3,115.4 103.2,117.9 94.1,112.1" fill="#22d6e0" stroke="#22d6e0" stroke-width="0.3" stroke-linejoin="round"/>
<polygon points="194.9,104.8 206.2,108.4 207.7,107.3" fill="#b2f396" stroke="#b2f396" stroke-width="0.3" stroke-linejoin="round"/>
<polygon points="161.1,117.4 162.8,112.5 151.6,110.1" fill="#50f4cc" stroke="#50f4cc" stroke-width="0.3" stroke-linejoin="round"/>
<polygon points="61.6,117.3 63.4,114.8 52.6,106.3" fill="#30e1da" stroke="#30e1da" stroke-width="0.3" stroke-linejoin="round"/>
<polygon points="50.7,109.6 61.6,117.3 52.6,106.3" fill="#44eed2" stroke="#44eed2" stroke-width="0.3" stroke-linejoin="round"/>
<polygon points="79.7,110.9 90.5,113.1 92.3,115.4" fill="#38e7d7" stroke="#38e7d7" stroke-width="0.3" stroke-linejoin="round"/>
<polygon points="175.6,113.9 177.2,112.3 166.0,109.1" fill="#6dfdbf" stroke="#6dfdbf" stroke-width="0.3" stroke-linejoin="round"/>
<polygon points="63.4,114.8 74.2,117.3 65.3,113.9" fill="#18cde4" stroke="#18cde4" stroke-width="0.3" stroke-linejoin="round"/>
<polygon points="103.2,117.9 105.0,116.1 94.1,112.1" fill="#27dade" stroke="#27dade" stroke-width="0.3" stroke-linejoin="round"/>
<polygon points="204.4,114.8 206.2,108.4 194.9,104.8" fill="#99fca6" stroke="#99fca6" stroke-width="0.3" stroke-linejoin="round"/>
<polygon points="77.9,114.8 88.7,117.3 79.7,110.9" fill="#2ddedc" stroke="#2ddedc" stroke-width="0.3" stroke-linejoin="round"/>
<polygon points="191.7,109.4 204.4,114.8 193.2,110.6" fill="#7affb7" stroke="#7affb7" stroke-width="0.3" stroke-linejoin="round"/>
<polygon points="119.4,115.8 132.2,117.8 121.1,113.7" fill="#2ddedc" stroke="#2ddedc" stroke-width="0.3" stroke-linejoin="round"/>
<polygon points="121.1,113.7 132.2,117.8 133.9,114.8" fill="#32e3da" stroke="#32e3da" stroke-width="0.3" stroke-linejoin="round"/>
<polygon points="177.2,112.3 190.0,113.7 178.8,110.1" fill="#70febc" stroke="#70febc" stroke-width="0.3" stroke-linejoin="round"/>
<polygon points="74.2,117.3 76.1,118.0 65.3,113.9" fill="#10c6e6" stroke="#10c6e6" stroke-width="0.3" stroke-linejoin="round"/>
<polygon points="135.6,112.2 146.7,115.1 148.3,114.0" fill="#4ef3cd" stroke="#4ef3cd" stroke-width="0.3" stroke-linejoin="round"/>
<polygon points="133.9,114.8 146.7,115.1 135.6,112.2" fill="#48f1d0" stroke="#48f1d0" stroke-width="0.3" stroke-linejoin="round"/>
<polygon points="106.7,113.3 117.7,117.3 119.4,115.8" fill="#2fe0db" stroke="#2fe0db" stroke-width="0.3" stroke-linejoin="round"/>
<polygon points="148.3,114.0 159.4,118.1 150.0,113.2" fill="#42edd3" stroke="#42edd3" stroke-width="0.3" stroke-linejoin="round"/>
<polygon points="178.8,110.1 190.0,113.7 191.7,109.4" fill="#80ffb4" stroke="#80ffb4" stroke-width="0.3" stroke-linejoin="round"/>
<polygon points="162.8,112.5 175.6,113.9 164.4,110.1" fill="#6dfdbf" stroke="#6dfdbf" stroke-width="0.3" stroke-linejoin="round"/>
<polygon points="48.9,111.3 61.6,117.3 50.7,109.6" fill="#38e7d7" stroke="#38e7d7" stroke-width="0.3" stroke-linejoin="round"/>
<polygon points="76.1,118.0 88.7,117.3 77.9,114.8" fill="#14cae5" stroke="#14cae5" stroke-width="0.3" stroke-linejoin="round"/>
<polygon points="159.4,118.1 161.1,117.4 150.0,113.2" fill="#38e7d7" stroke="#38e7d7" stroke-width="0.3" stroke-linejoin="round"/>
<polygon points="105.0,116.1 116.0,120.4 106.7,113.3" fill="#22d6e0" stroke="#22d6e0" stroke-width="0.3" stroke-linejoin="round"/>
<polygon points="88.7,117.3 90.5,113.1 79.7,110.9" fill="#3dead5" stroke="#3dead5" stroke-width="0.3" stroke-linejoin="round"/>
<polygon points="116.0,120.4 117.7,117.3 106.7,113.3" fill="#24d8df" stroke="#24d8df" stroke-width="0.3" stroke-linejoin="round"/>
<polygon points="61.6,117.3 72.5,121.0 63.4,114.8" fill="#08bee9" stroke="#08bee9" stroke-width="0.3" stroke-linejoin="round"/>
<polygon points="48.9,111.3 59.8,119.9 61.6,117.3" fill="#18cde4" stroke="#18cde4" stroke-width="0.3" stroke-linejoin="round"/>
<polygon points="90.5,113.1 101.5,117.9 92.3,115.4" fill="#32e3da" stroke="#32e3da" stroke-width="0.3" stroke-linejoin="round"/>
<polygon points="119.4,115.8 130.5,119.1 132.2,117.8" fill="#27dade" stroke="#27dade" stroke-width="0.3" stroke-linejoin="round"/>
<polygon points="161.1,117.4 174.0,115.7 162.8,112.5" fill="#52f5cb" stroke="#52f5cb" stroke-width="0.3" stroke-linejoin="round"/>
<polygon points="101.5,117.9 103.2,117.9 92.3,115.4" fill="#20d5e1" stroke="#20d5e1" stroke-width="0.3" stroke-linejoin="round"/>
<polygon points="177.2,112.3 188.4,115.8 190.0,113.7" fill="#6afdc0" stroke="#6afdc0" stroke-width="0.3" stroke-linejoin="round"/>
<polygon points="146.7,115.1 159.4,118.1 148.3,114.0" fill="#46efd1" stroke="#46efd1" stroke-width="0.3" stroke-linejoin="round"/>
<polygon points="117.7,117.3 130.5,119.1 119.4,115.8" fill="#28dbde" stroke="#28dbde" stroke-width="0.3" stroke-linejoin="round"/>
<polygon points="103.2,117.9 116.0,120.4 105.0,116.1" fill="#18cde4" stroke="#18cde4" stroke-width="0.3" stroke-linejoin="round"/>
<polygon points="76.1,118.0 87.0,122.8 88.7,117.3" fill="#02b7eb" stroke="#02b7eb" stroke-width="0.3" stroke-linejoin="round"/>
<polygon points="162.8,112.5 174.0,115.7 175.6,113.9" fill="#64fbc3" stroke="#64fbc3" stroke-width="0.3" stroke-linejoin="round"/>
<polygon points="74.2,117.3 87.0,122.8 76.1,118.0" fill="#00b5eb" stroke="#00b5eb" stroke-width="0.3" stroke-linejoin="round"/>
<polygon points="133.9,114.8 145.0,116.9 146.7,115.1" fill="#46efd1" stroke="#46efd1" stroke-width="0.3" stroke-linejoin="round"/>
<polygon points="191.7,109.4 203.0,112.5 204.4,114.8" fill="#88ffaf" stroke="#88ffaf" stroke-width="0.3" stroke-linejoin="round"/>
<polygon points="72.5,121.0 74.2,117.3 63.4,114.8" fill="#12c8e6" stroke="#12c8e6" stroke-width="0.3" stroke-linejoin="round"/>
<polygon points="132.2,117.8 143.3,120.2 133.9,114.8" fill="#2fe0db" stroke="#2fe0db" stroke-width="0.3" stroke-linejoin="round"/>
<polygon points="175.6,113.9 186.8,118.4 177.2,112.3" fill="#62fbc4" stroke="#62fbc4" stroke-width="0.3" stroke-linejoin="round"/>
<polygon points="190.0,113.7 203.0,112.5 191.7,109.4" fill="#8cfead" stroke="#8cfead" stroke-width="0.3" stroke-linejoin="round"/>
<polygon points="59.8,119.9 72.5,121.0 61.6,117.3" fill="#04b0ed" stroke="#04b0ed" stroke-width="0.3" stroke-linejoin="round"/>
<polygon points="57.9,120.1 59.8,119.9 48.9,111.3" fill="#18cde4" stroke="#18cde4" stroke-width="0.3" stroke-linejoin="round"/>
<polygon points="186.8,118.4 188.4,115.8 177.2,112.3" fill="#60fac5" stroke="#60fac5" stroke-width="0.3" stroke-linejoin="round"/>
<polygon points="161.1,117.4 172.3,120.2 174.0,115.7" fill="#40ecd4" stroke="#40ecd4" stroke-width="0.3" stroke-linejoin="round"/>
<polygon points="88.7,117.3 101.5,117.9 90.5,113.1" fill="#37e6d8" stroke="#37e6d8" stroke-width="0.3" stroke-linejoin="round"/>
<polygon points="143.3,120.2 145.0,116.9 133.9,114.8" fill="#3ae8d6" stroke="#3ae8d6" stroke-width="0.3" stroke-linejoin="round"/>
<polygon points="47.0,111.2 57.9,120.1 48.9,111.3" fill="#3febd5" stroke="#3febd5" stroke-width="0.3" stroke-linejoin="round"/>
<polygon points="130.5,119.1 143.3,120.2 132.2,117.8" fill="#27dade" stroke="#27dade" stroke-width="0.3" stroke-linejoin="round"/>
<polygon points="159.4,118.1 170.6,122.1 161.1,117.4" fill="#30e1da" stroke="#30e1da" stroke-width="0.3" stroke-linejoin="round"/>
<polygon points="146.7,115.1 157.8,118.7 159.4,118.1" fill="#44eed2" stroke="#44eed2" stroke-width="0.3" stroke-linejoin="round"/>
<polygon points="190.0,113.7 201.3,117.8 203.0,112.5" fill="#76ffb9" stroke="#76ffb9" stroke-width="0.3" stroke-linejoin="round"/>
<polygon points="103.2,117.9 114.2,121.0 116.0,120.4" fill="#17cbe4" stroke="#17cbe4" stroke-width="0.3" stroke-linejoin="round"/>
<polygon points="116.0,120.4 128.8,119.0 117.7,117.3" fill="#27dade" stroke="#27dade" stroke-width="0.3" stroke-linejoin="round"/>
<polygon points="117.7,117.3 128.8,119.0 130.5,119.1" fill="#2fe0db" stroke="#2fe0db" stroke-width="0.3" stroke-linejoin="round"/>
<polygon points="170.6,122.1 172.3,120.2 161.1,117.4" fill="#2ddedc" stroke="#2ddedc" stroke-width="0.3" stroke-linejoin="round"/>
<polygon points="188.4,115.8 199.8,119.8 190.0,113.7" fill="#62fbc4" stroke="#62fbc4" stroke-width="0.3" stroke-linejoin="round"/>
<polygon points="87.0,122.8 99.7,119.7 88.7,117.3" fill="#10c6e6" stroke="#10c6e6" stroke-width="0.3" stroke-linejoin="round"/>
<polygon points="174.0,115.7 185.2,120.3 175.6,113.9" fill="#5df9c7" stroke="#5df9c7" stroke-width="0.3" stroke-linejoin="round"/>
<polygon points="74.2,117.3 85.1,120.5 87.0,122.8" fill="#0ac0e8" stroke="#0ac0e8" stroke-width="0.3" stroke-linejoin="round"/>
<polygon points="59.8,119.9 70.6,122.1 72.5,121.0" fill="#06aeed" stroke="#06aeed" stroke-width="0.3" stroke-linejoin="round"/>
<polygon points="199.8,119.8 201.3,117.8 190.0,113.7" fill="#5efac6" stroke="#5efac6" stroke-width="0.3" stroke-linejoin="round"/>
<polygon points="145.0,116.9 156.2,120.5 146.7,115.1" fill="#48f1d0" stroke="#48f1d0" stroke-width="0.3" stroke-linejoin="round"/>
<polygon points="185.2,120.3 186.8,118.4 175.6,113.9" fill="#56f7ca" stroke="#56f7ca" stroke-width="0.3" stroke-linejoin="round"/>
<polygon points="72.5,121.0 85.1,120.5 74.2,117.3" fill="#12c8e6" stroke="#12c8e6" stroke-width="0.3" stroke-linejoin="round"/>
<polygon points="88.7,117.3 99.7,119.7 101.5,117.9" fill="#2adddd" stroke="#2adddd" stroke-width="0.3" stroke-linejoin="round"/>
<polygon points="45.1,113.5 57.9,120.1 47.0,111.2" fill="#40ecd4" stroke="#40ecd4" stroke-width="0.3" stroke-linejoin="round"/>
<polygon points="101.5,117.9 112.5,121.6 103.2,117.9" fill="#27dade" stroke="#27dade" stroke-width="0.3" stroke-linejoin="round"/>
<polygon points="130.5,119.1 141.6,123.9 143.3,120.2" fill="#1dd1e2" stroke="#1dd1e2" stroke-width="0.3" stroke-linejoin="round"/>
<polygon points="156.2,120.5 157.8,118.7 146.7,115.1" fill="#46efd1" stroke="#46efd1" stroke-width="0.3" stroke-linejoin="round"/>
<polygon points="112.5,121.6 114.2,121.0 103.2,117.9" fill="#1fd3e1" stroke="#1fd3e1" stroke-width="0.3" stroke-linejoin="round"/>
<polygon points="57.9,120.1 68.8,122.6 59.8,119.9" fill="#02b7eb" stroke="#02b7eb" stroke-width="0.3" stroke-linejoin="round"/>
<polygon points="186.8,118.4 198.1,122.9 188.4,115.8" fill="#4ef3cd" stroke="#4ef3cd" stroke-width="0.3" stroke-linejoin="round"/>
<polygon points="114.2,121.0 127.0,122.2 116.0,120.4" fill="#18cde4" stroke="#18cde4" stroke-width="0.3" stroke-linejoin="round"/>
<polygon points="172.3,120.2 183.6,123.2 174.0,115.7" fill="#40ecd4" stroke="#40ecd4" stroke-width="0.3" stroke-linejoin="round"/>
<polygon points="143.3,120.2 156.2,120.5 145.0,116.9" fill="#3dead5" stroke="#3dead5" stroke-width="0.3" stroke-linejoin="round"/>
<polygon points="87.0,122.8 97.9,124.5 99.7,119.7" fill="#00b5eb" stroke="#00b5eb" stroke-width="0.3" stroke-linejoin="round"/>
<polygon points="45.1,113.5 56.1,122.5 57.9,120.1" fill="#1dd1e2" stroke="#1dd1e2" stroke-width="0.3" stroke-linejoin="round"/>
<polygon points="116.0,120.4 127.0,122.2 128.8,119.0" fill="#22d6e0" stroke="#22d6e0" stroke-width="0.3" stroke-linejoin="round"/>
<polygon points="68.8,122.6 70.6,122.1 59.8,119.9" fill="#00b5eb" stroke="#00b5eb" stroke-width="0.3" stroke-linejoin="round"/>
<polygon points="157.8,118.7 169.0,122.8 159.4,118.1" fill="#3dead5" stroke="#3dead5" stroke-width="0.3" stroke-linejoin="round"/>
<polygon points="70.6,122.1 83.4,125.3 72.5,121.0" fill="#09a9ee" stroke="#09a9ee" stroke-width="0.3" stroke-linejoin="round"/>
<polygon points="43.3,119.4 54.3,128.2 45.1,113.5" fill="#08bee9" stroke="#08bee9" stroke-width="0.3" stroke-linejoin="round"/>
<polygon points="198.1,122.9 199.8,119.8 188.4,115.8" fill="#50f4cc" stroke="#50f4cc" stroke-width="0.3" stroke-linejoin="round"/>
<polygon points="72.5,121.0 83.4,125.3 85.1,120.5" fill="#00b5eb" stroke="#00b5eb" stroke-width="0.3" stroke-linejoin="round"/>
<polygon points="169.0,122.8 170.6,122.1 159.4,118.1" fill="#32e3da" stroke="#32e3da" stroke-width="0.3" stroke-linejoin="round"/>
<polygon points="54.3,128.2 56.1,122.5 45.1,113.5" fill="#00b5eb" stroke="#00b5eb" stroke-width="0.3" stroke-linejoin="round"/>
<polygon points="183.6,123.2 185.2,120.3 174.0,115.7" fill="#48f1d0" stroke="#48f1d0" stroke-width="0.3" stroke-linejoin="round"/>
<polygon points="41.4,121.0 54.3,128.2 43.3,119.4" fill="#10a2f0" stroke="#10a2f0" stroke-width="0.3" stroke-linejoin="round"/>
<polygon points="128.8,119.0 139.9,121.0 130.5,119.1" fill="#38e7d7" stroke="#38e7d7" stroke-width="0.3" stroke-linejoin="round"/>
<polygon points="85.1,120.5 96.1,123.5 87.0,122.8" fill="#08bee9" stroke="#08bee9" stroke-width="0.3" stroke-linejoin="round"/>
<polygon points="139.9,121.0 141.6,123.9 130.5,119.1" fill="#27dade" stroke="#27dade" stroke-width="0.3" stroke-linejoin="round"/>
<polygon points="141.6,123.9 154.5,123.3 143.3,120.2" fill="#1fd3e1" stroke="#1fd3e1" stroke-width="0.3" stroke-linejoin="round"/>
<polygon points="96.1,123.5 97.9,124.5 87.0,122.8" fill="#04b0ed" stroke="#04b0ed" stroke-width="0.3" stroke-linejoin="round"/>
<polygon points="170.6,122.1 182.0,124.6 172.3,120.2" fill="#2fe0db" stroke="#2fe0db" stroke-width="0.3" stroke-linejoin="round"/>
<polygon points="56.1,122.5 66.9,126.3 57.9,120.1" fill="#08acee" stroke="#08acee" stroke-width="0.3" stroke-linejoin="round"/>
<polygon points="99.7,119.7 110.7,123.1 101.5,117.9" fill="#2adddd" stroke="#2adddd" stroke-width="0.3" stroke-linejoin="round"/>
<polygon points="185.2,120.3 196.5,124.7 186.8,118.4" fill="#42edd3" stroke="#42edd3" stroke-width="0.3" stroke-linejoin="round"/>
<polygon points="143.3,120.2 154.5,123.3 156.2,120.5" fill="#30e1da" stroke="#30e1da" stroke-width="0.3" stroke-linejoin="round"/>
<polygon points="196.5,124.7 198.1,122.9 186.8,118.4" fill="#3dead5" stroke="#3dead5" stroke-width="0.3" stroke-linejoin="round"/>
<polygon points="110.7,123.1 112.5,121.6 101.5,117.9" fill="#28dbde" stroke="#28dbde" stroke-width="0.3" stroke-linejoin="round"/>
<polygon points="182.0,124.6 183.6,123.2 172.3,120.2" fill="#30e1da" stroke="#30e1da" stroke-width="0.3" stroke-linejoin="round"/>
<polygon points="54.3,128.2 66.9,126.3 56.1,122.5" fill="#2489f5" stroke="#2489f5" stroke-width="0.3" stroke-linejoin="round"/>
<polygon points="114.2,121.0 125.3,122.6 127.0,122.2" fill="#22d6e0" stroke="#22d6e0" stroke-width="0.3" stroke-linejoin="round"/>
<polygon points="41.4,121.0 52.4,129.4 54.3,128.2" fill="#2e7bf7" stroke="#2e7bf7" stroke-width="0.3" stroke-linejoin="round"/>
<polygon points="66.9,126.3 68.8,122.6 57.9,120.1" fill="#00b5eb" stroke="#00b5eb" stroke-width="0.3" stroke-linejoin="round"/>
<polygon points="70.6,122.1 81.5,124.8 83.4,125.3" fill="#06aeed" stroke="#06aeed" stroke-width="0.3" stroke-linejoin="round"/>
<polygon points="156.2,120.5 167.4,124.1 157.8,118.7" fill="#3febd5" stroke="#3febd5" stroke-width="0.3" stroke-linejoin="round"/>
<polygon points="97.9,124.5 110.7,123.1 99.7,119.7" fill="#17cbe4" stroke="#17cbe4" stroke-width="0.3" stroke-linejoin="round"/>
<polygon points="83.4,125.3 94.4,129.3 85.1,120.5" fill="#0ea5ef" stroke="#0ea5ef" stroke-width="0.3" stroke-linejoin="round"/>
<polygon points="127.0,122.2 138.2,124.7 128.8,119.0" fill="#2ddedc" stroke="#2ddedc" stroke-width="0.3" stroke-linejoin="round"/>
<polygon points="167.4,124.1 169.0,122.8 157.8,118.7" fill="#3ae8d6" stroke="#3ae8d6" stroke-width="0.3" stroke-linejoin="round"/>
<polygon points="68.8,122.6 81.5,124.8 70.6,122.1" fill="#07bbea" stroke="#07bbea" stroke-width="0.3" stroke-linejoin="round"/>
<polygon points="169.0,122.8 182.0,124.6 170.6,122.1" fill="#2fe0db" stroke="#2fe0db" stroke-width="0.3" stroke-linejoin="round"/>
<polygon points="141.6,123.9 152.8,125.8 154.5,123.3" fill="#18cde4" stroke="#18cde4" stroke-width="0.3" stroke-linejoin="round"/>
<polygon points="112.5,121.6 123.6,124.0 114.2,121.0" fill="#24d8df" stroke="#24d8df" stroke-width="0.3" stroke-linejoin="round"/>
<polygon points="183.6,123.2 195.0,126.4 185.2,120.3" fill="#37e6d8" stroke="#37e6d8" stroke-width="0.3" stroke-linejoin="round"/>
<polygon points="139.9,121.0 152.8,125.8 141.6,123.9" fill="#22d6e0" stroke="#22d6e0" stroke-width="0.3" stroke-linejoin="round"/>
<polygon points="154.5,123.3 167.4,124.1 156.2,120.5" fill="#34e4d9" stroke="#34e4d9" stroke-width="0.3" stroke-linejoin="round"/>
<polygon points="54.3,128.2 65.1,130.2 66.9,126.3" fill="#3670f8" stroke="#3670f8" stroke-width="0.3" stroke-linejoin="round"/>
<polygon points="94.4,129.3 96.1,123.5 85.1,120.5" fill="#04b9ea" stroke="#04b9ea" stroke-width="0.3" stroke-linejoin="round"/>
<polygon points="123.6,124.0 125.3,122.6 114.2,121.0" fill="#28dbde" stroke="#28dbde" stroke-width="0.3" stroke-linejoin="round"/>
<polygon points="138.2,124.7 139.9,121.0 128.8,119.0" fill="#3ae8d6" stroke="#3ae8d6" stroke-width="0.3" stroke-linejoin="round"/>
<polygon points="195.0,126.4 196.5,124.7 185.2,120.3" fill="#38e7d7" stroke="#38e7d7" stroke-width="0.3" stroke-linejoin="round"/>
<polygon points="52.4,129.4 63.3,131.5 54.3,128.2" fill="#4659fb" stroke="#4659fb" stroke-width="0.3" stroke-linejoin="round"/>
<polygon points="97.9,124.5 109.0,126.7 110.7,123.1" fill="#0ac0e8" stroke="#0ac0e8" stroke-width="0.3" stroke-linejoin="round"/>
<polygon points="96.1,123.5 109.0,126.7 97.9,124.5" fill="#07bbea" stroke="#07bbea" stroke-width="0.3" stroke-linejoin="round"/>
<polygon points="50.4,127.0 52.4,129.4 41.4,121.0" fill="#1898f2" stroke="#1898f2" stroke-width="0.3" stroke-linejoin="round"/>
<polygon points="110.7,123.1 123.6,124.0 112.5,121.6" fill="#28dbde" stroke="#28dbde" stroke-width="0.3" stroke-linejoin="round"/>
<polygon points="182.0,124.6 195.0,126.4 183.6,123.2" fill="#30e1da" stroke="#30e1da" stroke-width="0.3" stroke-linejoin="round"/>
<polygon points="63.3,131.5 65.1,130.2 54.3,128.2" fill="#425ffa" stroke="#425ffa" stroke-width="0.3" stroke-linejoin="round"/>
<polygon points="81.5,124.8 92.5,128.0 83.4,125.3" fill="#06aeed" stroke="#06aeed" stroke-width="0.3" stroke-linejoin="round"/>
<polygon points="39.4,119.2 50.4,127.0 41.4,121.0" fill="#14cae5" stroke="#14cae5" stroke-width="0.3" stroke-linejoin="round"/>
<polygon points="68.8,122.6 79.7,125.9 81.5,124.8" fill="#0ac0e8" stroke="#0ac0e8" stroke-width="0.3" stroke-linejoin="round"/>
<polygon points="169.0,122.8 180.4,126.3 182.0,124.6" fill="#30e1da" stroke="#30e1da" stroke-width="0.3" stroke-linejoin="round"/>
<polygon points="125.3,122.6 136.5,125.0 127.0,122.2" fill="#2ddedc" stroke="#2ddedc" stroke-width="0.3" stroke-linejoin="round"/>
<polygon points="92.5,128.0 94.4,129.3 83.4,125.3" fill="#169bf2" stroke="#169bf2" stroke-width="0.3" stroke-linejoin="round"/>
<polygon points="167.4,124.1 180.4,126.3 169.0,122.8" fill="#32e3da" stroke="#32e3da" stroke-width="0.3" stroke-linejoin="round"/>
<polygon points="66.9,126.3 77.9,129.1 68.8,122.6" fill="#08acee" stroke="#08acee" stroke-width="0.3" stroke-linejoin="round"/>
<polygon points="152.8,125.8 165.8,125.6 154.5,123.3" fill="#27dade" stroke="#27dade" stroke-width="0.3" stroke-linejoin="round"/>
<polygon points="154.5,123.3 165.8,125.6 167.4,124.1" fill="#30e1da" stroke="#30e1da" stroke-width="0.3" stroke-linejoin="round"/>
<polygon points="136.5,125.0 138.2,124.7 127.0,122.2" fill="#2adddd" stroke="#2adddd" stroke-width="0.3" stroke-linejoin="round"/>
<polygon points="65.1,130.2 77.9,129.1 66.9,126.3" fill="#218cf4" stroke="#218cf4" stroke-width="0.3" stroke-linejoin="round"/>
<polygon points="77.9,129.1 79.7,125.9 68.8,122.6" fill="#02b7eb" stroke="#02b7eb" stroke-width="0.3" stroke-linejoin="round"/>
<polygon points="109.0,126.7 121.9,126.8 110.7,123.1" fill="#17cbe4" stroke="#17cbe4" stroke-width="0.3" stroke-linejoin="round"/>
<polygon points="94.4,129.3 107.2,126.3 96.1,123.5" fill="#07bbea" stroke="#07bbea" stroke-width="0.3" stroke-linejoin="round"/>
<polygon points="139.9,121.0 151.2,123.7 152.8,125.8" fill="#3dead5" stroke="#3dead5" stroke-width="0.3" stroke-linejoin="round"/>
<polygon points="96.1,123.5 107.2,126.3 109.0,126.7" fill="#14cae5" stroke="#14cae5" stroke-width="0.3" stroke-linejoin="round"/>
<polygon points="110.7,123.1 121.9,126.8 123.6,124.0" fill="#24d8df" stroke="#24d8df" stroke-width="0.3" stroke-linejoin="round"/>
<polygon points="37.6,122.9 50.4,127.0 39.4,119.2" fill="#1acfe3" stroke="#1acfe3" stroke-width="0.3" stroke-linejoin="round"/>
<polygon points="123.6,124.0 136.5,125.0 125.3,122.6" fill="#32e3da" stroke="#32e3da" stroke-width="0.3" stroke-linejoin="round"/>
<polygon points="182.0,124.6 193.4,127.7 195.0,126.4" fill="#2fe0db" stroke="#2fe0db" stroke-width="0.3" stroke-linejoin="round"/>
<polygon points="79.7,125.9 92.5,128.0 81.5,124.8" fill="#07bbea" stroke="#07bbea" stroke-width="0.3" stroke-linejoin="round"/>
<polygon points="180.4,126.3 193.4,127.7 182.0,124.6" fill="#2fe0db" stroke="#2fe0db" stroke-width="0.3" stroke-linejoin="round"/>
<polygon points="138.2,124.7 149.5,128.3 139.9,121.0" fill="#30e1da" stroke="#30e1da" stroke-width="0.3" stroke-linejoin="round"/>
<polygon points="50.4,127.0 61.4,131.1 52.4,129.4" fill="#2884f6" stroke="#2884f6" stroke-width="0.3" stroke-linejoin="round"/>
<polygon points="61.4,131.1 63.3,131.5 52.4,129.4" fill="#3670f8" stroke="#3670f8" stroke-width="0.3" stroke-linejoin="round"/>
<polygon points="167.4,124.1 178.8,126.8 180.4,126.3" fill="#34e4d9" stroke="#34e4d9" stroke-width="0.3" stroke-linejoin="round"/>
<polygon points="152.8,125.8 164.1,127.3 165.8,125.6" fill="#2adddd" stroke="#2adddd" stroke-width="0.3" stroke-linejoin="round"/>
<polygon points="37.6,122.9 48.6,130.6 50.4,127.0" fill="#0ca7ef" stroke="#0ca7ef" stroke-width="0.3" stroke-linejoin="round"/>
<polygon points="92.5,128.0 105.4,131.3 94.4,129.3" fill="#169bf2" stroke="#169bf2" stroke-width="0.3" stroke-linejoin="round"/>
<polygon points="65.1,130.2 76.1,132.9 77.9,129.1" fill="#2c7ef7" stroke="#2c7ef7" stroke-width="0.3" stroke-linejoin="round"/>
<polygon points="109.0,126.7 120.1,130.9 121.9,126.8" fill="#04b9ea" stroke="#04b9ea" stroke-width="0.3" stroke-linejoin="round"/>
<polygon points="94.4,129.3 105.4,131.3 107.2,126.3" fill="#0ca7ef" stroke="#0ca7ef" stroke-width="0.3" stroke-linejoin="round"/>
<polygon points="149.5,128.3 151.2,123.7 139.9,121.0" fill="#3febd5" stroke="#3febd5" stroke-width="0.3" stroke-linejoin="round"/>
<polygon points="35.7,126.0 46.7,133.6 37.6,122.9" fill="#10a2f0" stroke="#10a2f0" stroke-width="0.3" stroke-linejoin="round"/>
<polygon points="63.3,131.5 74.2,134.1 65.1,130.2" fill="#386df9" stroke="#386df9" stroke-width="0.3" stroke-linejoin="round"/>
<polygon points="165.8,125.6 177.2,127.8 167.4,124.1" fill="#3ae8d6" stroke="#3ae8d6" stroke-width="0.3" stroke-linejoin="round"/>
<polygon points="46.7,133.6 48.6,130.6 37.6,122.9" fill="#208ef4" stroke="#208ef4" stroke-width="0.3" stroke-linejoin="round"/>
<polygon points="121.9,126.8 134.8,126.6 123.6,124.0" fill="#2adddd" stroke="#2adddd" stroke-width="0.3" stroke-linejoin="round"/>
<polygon points="123.6,124.0 134.8,126.6 136.5,125.0" fill="#34e4d9" stroke="#34e4d9" stroke-width="0.3" stroke-linejoin="round"/>
<polygon points="151.2,123.7 162.5,127.9 152.8,125.8" fill="#37e6d8" stroke="#37e6d8" stroke-width="0.3" stroke-linejoin="round"/>
<polygon points="77.9,129.1 90.7,129.0 79.7,125.9" fill="#00b5eb" stroke="#00b5eb" stroke-width="0.3" stroke-linejoin="round"/>
<polygon points="79.7,125.9 90.7,129.0 92.5,128.0" fill="#07bbea" stroke="#07bbea" stroke-width="0.3" stroke-linejoin="round"/>
<polygon points="48.6,130.6 61.4,131.1 50.4,127.0" fill="#1e91f3" stroke="#1e91f3" stroke-width="0.3" stroke-linejoin="round"/>
<polygon points="74.2,134.1 76.1,132.9 65.1,130.2" fill="#386df9" stroke="#386df9" stroke-width="0.3" stroke-linejoin="round"/>
<polygon points="180.4,126.3 191.8,128.6 193.4,127.7" fill="#30e1da" stroke="#30e1da" stroke-width="0.3" stroke-linejoin="round"/>
<polygon points="177.2,127.8 178.8,126.8 167.4,124.1" fill="#3dead5" stroke="#3dead5" stroke-width="0.3" stroke-linejoin="round"/>
<polygon points="162.5,127.9 164.1,127.3 152.8,125.8" fill="#2ddedc" stroke="#2ddedc" stroke-width="0.3" stroke-linejoin="round"/>
<polygon points="136.5,125.0 147.8,127.9 138.2,124.7" fill="#34e4d9" stroke="#34e4d9" stroke-width="0.3" stroke-linejoin="round"/>
<polygon points="107.2,126.3 118.4,129.4 109.0,126.7" fill="#17cbe4" stroke="#17cbe4" stroke-width="0.3" stroke-linejoin="round"/>
<polygon points="178.8,126.8 191.8,128.6 180.4,126.3" fill="#34e4d9" stroke="#34e4d9" stroke-width="0.3" stroke-linejoin="round"/>
<polygon points="118.4,129.4 120.1,130.9 109.0,126.7" fill="#04b9ea" stroke="#04b9ea" stroke-width="0.3" stroke-linejoin="round"/>
<polygon points="33.8,128.6 46.7,133.6 35.7,126.0" fill="#1e91f3" stroke="#1e91f3" stroke-width="0.3" stroke-linejoin="round"/>
<polygon points="147.8,127.9 149.5,128.3 138.2,124.7" fill="#2adddd" stroke="#2adddd" stroke-width="0.3" stroke-linejoin="round"/>
<polygon points="164.1,127.3 177.2,127.8 165.8,125.6" fill="#38e7d7" stroke="#38e7d7" stroke-width="0.3" stroke-linejoin="round"/>
<polygon points="120.1,130.9 133.1,129.7 121.9,126.8" fill="#0dc2e8" stroke="#0dc2e8" stroke-width="0.3" stroke-linejoin="round"/>
<polygon points="92.5,128.0 103.6,130.4 105.4,131.3" fill="#04b0ed" stroke="#04b0ed" stroke-width="0.3" stroke-linejoin="round"/>
<polygon points="149.5,128.3 162.5,127.9 151.2,123.7" fill="#38e7d7" stroke="#38e7d7" stroke-width="0.3" stroke-linejoin="round"/>
<polygon points="105.4,131.3 118.4,129.4 107.2,126.3" fill="#0dc2e8" stroke="#0dc2e8" stroke-width="0.3" stroke-linejoin="round"/>
<polygon points="121.9,126.8 133.1,129.7 134.8,126.6" fill="#24d8df" stroke="#24d8df" stroke-width="0.3" stroke-linejoin="round"/>
<polygon points="33.8,128.6 44.8,136.2 46.7,133.6" fill="#3c68f9" stroke="#3c68f9" stroke-width="0.3" stroke-linejoin="round"/>
<polygon points="77.9,129.1 88.9,132.1 90.7,129.0" fill="#09a9ee" stroke="#09a9ee" stroke-width="0.3" stroke-linejoin="round"/>
<polygon points="76.1,132.9 87.1,135.2 77.9,129.1" fill="#2884f6" stroke="#2884f6" stroke-width="0.3" stroke-linejoin="round"/>
<polygon points="48.6,130.6 59.5,133.4 61.4,131.1" fill="#2884f6" stroke="#2884f6" stroke-width="0.3" stroke-linejoin="round"/>
<polygon points="90.7,129.0 103.6,130.4 92.5,128.0" fill="#08bee9" stroke="#08bee9" stroke-width="0.3" stroke-linejoin="round"/>
<polygon points="134.8,126.6 147.8,127.9 136.5,125.0" fill="#38e7d7" stroke="#38e7d7" stroke-width="0.3" stroke-linejoin="round"/>
<polygon points="46.7,133.6 57.6,136.7 48.6,130.6" fill="#4062fa" stroke="#4062fa" stroke-width="0.3" stroke-linejoin="round"/>
<polygon points="61.4,131.1 72.3,133.7 63.3,131.5" fill="#2686f5" stroke="#2686f5" stroke-width="0.3" stroke-linejoin="round"/>
<polygon points="31.8,129.2 44.8,136.2 33.8,128.6" fill="#2686f5" stroke="#2686f5" stroke-width="0.3" stroke-linejoin="round"/>
<polygon points="178.8,126.8 190.3,129.5 191.8,128.6" fill="#3ae8d6" stroke="#3ae8d6" stroke-width="0.3" stroke-linejoin="round"/>
<polygon points="72.3,133.7 74.2,134.1 63.3,131.5" fill="#2c7ef7" stroke="#2c7ef7" stroke-width="0.3" stroke-linejoin="round"/>
<polygon points="87.1,135.2 88.9,132.1 77.9,129.1" fill="#1996f3" stroke="#1996f3" stroke-width="0.3" stroke-linejoin="round"/>
<polygon points="57.6,136.7 59.5,133.4 48.6,130.6" fill="#3670f8" stroke="#3670f8" stroke-width="0.3" stroke-linejoin="round"/>
<polygon points="120.1,130.9 131.3,133.1 133.1,129.7" fill="#02b7eb" stroke="#02b7eb" stroke-width="0.3" stroke-linejoin="round"/>
<polygon points="164.1,127.3 175.5,129.9 177.2,127.8" fill="#38e7d7" stroke="#38e7d7" stroke-width="0.3" stroke-linejoin="round"/>
<polygon points="162.5,127.9 175.5,129.9 164.1,127.3" fill="#37e6d8" stroke="#37e6d8" stroke-width="0.3" stroke-linejoin="round"/>
<polygon points="149.5,128.3 160.8,130.4 162.5,127.9" fill="#2fe0db" stroke="#2fe0db" stroke-width="0.3" stroke-linejoin="round"/>
<polygon points="103.6,130.4 116.6,133.1 105.4,131.3" fill="#08acee" stroke="#08acee" stroke-width="0.3" stroke-linejoin="round"/>
<polygon points="105.4,131.3 116.6,133.1 118.4,129.4" fill="#00b5eb" stroke="#00b5eb" stroke-width="0.3" stroke-linejoin="round"/>
<polygon points="147.8,127.9 160.8,130.4 149.5,128.3" fill="#2ddedc" stroke="#2ddedc" stroke-width="0.3" stroke-linejoin="round"/>
<polygon points="74.2,134.1 85.3,137.7 76.1,132.9" fill="#386df9" stroke="#386df9" stroke-width="0.3" stroke-linejoin="round"/>
<polygon points="44.8,136.2 55.8,140.0 46.7,133.6" fill="#583efd" stroke="#583efd" stroke-width="0.3" stroke-linejoin="round"/>
<polygon points="177.2,127.8 188.6,131.5 178.8,126.8" fill="#3dead5" stroke="#3dead5" stroke-width="0.3" stroke-linejoin="round"/>
<polygon points="133.1,129.7 146.1,128.7 134.8,126.6" fill="#32e3da" stroke="#32e3da" stroke-width="0.3" stroke-linejoin="round"/>
<polygon points="88.9,132.1 101.8,131.5 90.7,129.0" fill="#02b7eb" stroke="#02b7eb" stroke-width="0.3" stroke-linejoin="round"/>
<polygon points="134.8,126.6 146.1,128.7 147.8,127.9" fill="#3dead5" stroke="#3dead5" stroke-width="0.3" stroke-linejoin="round"/>
<polygon points="118.4,129.4 129.6,132.5 120.1,130.9" fill="#0fc4e7" stroke="#0fc4e7" stroke-width="0.3" stroke-linejoin="round"/>
<polygon points="90.7,129.0 101.8,131.5 103.6,130.4" fill="#0dc2e8" stroke="#0dc2e8" stroke-width="0.3" stroke-linejoin="round"/>
<polygon points="188.6,131.5 190.3,129.5 178.8,126.8" fill="#3ae8d6" stroke="#3ae8d6" stroke-width="0.3" stroke-linejoin="round"/>
<polygon points="31.8,129.2 42.9,136.0 44.8,136.2" fill="#3473f8" stroke="#3473f8" stroke-width="0.3" stroke-linejoin="round"/>
<polygon points="85.3,137.7 87.1,135.2 76.1,132.9" fill="#3670f8" stroke="#3670f8" stroke-width="0.3" stroke-linejoin="round"/>
<polygon points="55.8,140.0 57.6,136.7 46.7,133.6" fill="#5247fc" stroke="#5247fc" stroke-width="0.3" stroke-linejoin="round"/>
<polygon points="129.6,132.5 131.3,133.1 120.1,130.9" fill="#02b7eb" stroke="#02b7eb" stroke-width="0.3" stroke-linejoin="round"/>
<polygon points="59.5,133.4 70.5,135.6 61.4,131.1" fill="#218cf4" stroke="#218cf4" stroke-width="0.3" stroke-linejoin="round"/>
<polygon points="175.5,129.9 188.6,131.5 177.2,127.8" fill="#3ae8d6" stroke="#3ae8d6" stroke-width="0.3" stroke-linejoin="round"/>
<polygon points="131.3,133.1 144.4,133.2 133.1,129.7" fill="#10c6e6" stroke="#10c6e6" stroke-width="0.3" stroke-linejoin="round"/>
<polygon points="72.3,133.7 85.3,137.7 74.2,134.1" fill="#2e7bf7" stroke="#2e7bf7" stroke-width="0.3" stroke-linejoin="round"/>
<polygon points="70.5,135.6 72.3,133.7 61.4,131.1" fill="#1c93f3" stroke="#1c93f3" stroke-width="0.3" stroke-linejoin="round"/>
<polygon points="87.1,135.2 100.1,134.5 88.9,132.1" fill="#169bf2" stroke="#169bf2" stroke-width="0.3" stroke-linejoin="round"/>
<polygon points="162.5,127.9 174.0,129.9 175.5,129.9" fill="#40ecd4" stroke="#40ecd4" stroke-width="0.3" stroke-linejoin="round"/>
<polygon points="160.8,130.4 174.0,129.9 162.5,127.9" fill="#3dead5" stroke="#3dead5" stroke-width="0.3" stroke-linejoin="round"/>
<polygon points="103.6,130.4 114.8,134.2 116.6,133.1" fill="#02b7eb" stroke="#02b7eb" stroke-width="0.3" stroke-linejoin="round"/>
<polygon points="147.8,127.9 159.2,130.7 160.8,130.4" fill="#38e7d7" stroke="#38e7d7" stroke-width="0.3" stroke-linejoin="round"/>
<polygon points="133.1,129.7 144.4,133.2 146.1,128.7" fill="#27dade" stroke="#27dade" stroke-width="0.3" stroke-linejoin="round"/>
<polygon points="88.9,132.1 100.1,134.5 101.8,131.5" fill="#01b3ec" stroke="#01b3ec" stroke-width="0.3" stroke-linejoin="round"/>
<polygon points="101.8,131.5 114.8,134.2 103.6,130.4" fill="#0ac0e8" stroke="#0ac0e8" stroke-width="0.3" stroke-linejoin="round"/>
<polygon points="116.6,133.1 127.8,137.2 118.4,129.4" fill="#00b5eb" stroke="#00b5eb" stroke-width="0.3" stroke-linejoin="round"/>
<polygon points="57.6,136.7 68.7,139.9 59.5,133.4" fill="#4062fa" stroke="#4062fa" stroke-width="0.3" stroke-linejoin="round"/>
<polygon points="42.9,136.0 53.9,140.2 44.8,136.2" fill="#4e4dfc" stroke="#4e4dfc" stroke-width="0.3" stroke-linejoin="round"/>
<polygon points="146.1,128.7 159.2,130.7 147.8,127.9" fill="#3febd5" stroke="#3febd5" stroke-width="0.3" stroke-linejoin="round"/>
<polygon points="40.9,135.4 42.9,136.0 31.8,129.2" fill="#218cf4" stroke="#218cf4" stroke-width="0.3" stroke-linejoin="round"/>
<polygon points="53.9,140.2 55.8,140.0 44.8,136.2" fill="#5a3bfd" stroke="#5a3bfd" stroke-width="0.3" stroke-linejoin="round"/>
<polygon points="29.8,128.2 40.9,135.4 31.8,129.2" fill="#01b3ec" stroke="#01b3ec" stroke-width="0.3" stroke-linejoin="round"/>
<polygon points="85.3,137.7 98.3,139.7 87.1,135.2" fill="#386df9" stroke="#386df9" stroke-width="0.3" stroke-linejoin="round"/>
<polygon points="127.8,137.2 129.6,132.5 118.4,129.4" fill="#0dc2e8" stroke="#0dc2e8" stroke-width="0.3" stroke-linejoin="round"/>
<polygon points="68.7,139.9 70.5,135.6 59.5,133.4" fill="#3176f8" stroke="#3176f8" stroke-width="0.3" stroke-linejoin="round"/>
<polygon points="131.3,133.1 142.7,135.3 144.4,133.2" fill="#0ac0e8" stroke="#0ac0e8" stroke-width="0.3" stroke-linejoin="round"/>
<polygon points="87.1,135.2 98.3,139.7 100.1,134.5" fill="#2686f5" stroke="#2686f5" stroke-width="0.3" stroke-linejoin="round"/>
<polygon points="175.5,129.9 187.1,132.0 188.6,131.5" fill="#3dead5" stroke="#3dead5" stroke-width="0.3" stroke-linejoin="round"/>
<polygon points="114.8,134.2 127.8,137.2 116.6,133.1" fill="#09a9ee" stroke="#09a9ee" stroke-width="0.3" stroke-linejoin="round"/>
<polygon points="55.8,140.0 66.8,143.5 57.6,136.7" fill="#5e35fe" stroke="#5e35fe" stroke-width="0.3" stroke-linejoin="round"/>
<polygon points="129.6,132.5 142.7,135.3 131.3,133.1" fill="#0dc2e8" stroke="#0dc2e8" stroke-width="0.3" stroke-linejoin="round"/>
<polygon points="174.0,129.9 187.1,132.0 175.5,129.9" fill="#42edd3" stroke="#42edd3" stroke-width="0.3" stroke-linejoin="round"/>
<polygon points="160.8,130.4 172.3,132.2 174.0,129.9" fill="#3febd5" stroke="#3febd5" stroke-width="0.3" stroke-linejoin="round"/>
<polygon points="72.3,133.7 83.4,136.2 85.3,137.7" fill="#208ef4" stroke="#208ef4" stroke-width="0.3" stroke-linejoin="round"/>
<polygon points="101.8,131.5 113.1,134.7 114.8,134.2" fill="#0ac0e8" stroke="#0ac0e8" stroke-width="0.3" stroke-linejoin="round"/>
<polygon points="144.4,133.2 157.5,131.2 146.1,128.7" fill="#38e7d7" stroke="#38e7d7" stroke-width="0.3" stroke-linejoin="round"/>
<polygon points="66.8,143.5 68.7,139.9 57.6,136.7" fill="#5641fd" stroke="#5641fd" stroke-width="0.3" stroke-linejoin="round"/>
<polygon points="85.3,137.7 96.5,142.5 98.3,139.7" fill="#4659fb" stroke="#4659fb" stroke-width="0.3" stroke-linejoin="round"/>
<polygon points="146.1,128.7 157.5,131.2 159.2,130.7" fill="#46efd1" stroke="#46efd1" stroke-width="0.3" stroke-linejoin="round"/>
<polygon points="159.2,130.7 170.7,133.1 160.8,130.4" fill="#3dead5" stroke="#3dead5" stroke-width="0.3" stroke-linejoin="round"/>
<polygon points="27.8,128.4 40.9,135.4 29.8,128.2" fill="#12c8e6" stroke="#12c8e6" stroke-width="0.3" stroke-linejoin="round"/>
<polygon points="70.5,135.6 81.6,139.6 72.3,133.7" fill="#208ef4" stroke="#208ef4" stroke-width="0.3" stroke-linejoin="round"/>
<polygon points="53.9,140.2 66.8,143.5 55.8,140.0" fill="#622ffe" stroke="#622ffe" stroke-width="0.3" stroke-linejoin="round"/>
<polygon points="100.1,134.5 111.3,136.9 101.8,131.5" fill="#04b9ea" stroke="#04b9ea" stroke-width="0.3" stroke-linejoin="round"/>
<polygon points="170.7,133.1 172.3,132.2 160.8,130.4" fill="#3dead5" stroke="#3dead5" stroke-width="0.3" stroke-linejoin="round"/>
<polygon points="114.8,134.2 126.1,138.2 127.8,137.2" fill="#0ca7ef" stroke="#0ca7ef" stroke-width="0.3" stroke-linejoin="round"/>
<polygon points="40.9,135.4 51.9,138.9 42.9,136.0" fill="#2c7ef7" stroke="#2c7ef7" stroke-width="0.3" stroke-linejoin="round"/>
<polygon points="51.9,138.9 53.9,140.2 42.9,136.0" fill="#3c68f9" stroke="#3c68f9" stroke-width="0.3" stroke-linejoin="round"/>
<polygon points="81.6,139.6 83.4,136.2 72.3,133.7" fill="#1996f3" stroke="#1996f3" stroke-width="0.3" stroke-linejoin="round"/>
<polygon points="98.3,139.7 109.5,143.1 100.1,134.5" fill="#3079f7" stroke="#3079f7" stroke-width="0.3" stroke-linejoin="round"/>
<polygon points="111.3,136.9 113.1,134.7 101.8,131.5" fill="#0dc2e8" stroke="#0dc2e8" stroke-width="0.3" stroke-linejoin="round"/>
<polygon points="68.7,139.9 81.6,139.6 70.5,135.6" fill="#3176f8" stroke="#3176f8" stroke-width="0.3" stroke-linejoin="round"/>
<polygon points="144.4,133.2 155.8,136.3 157.5,131.2" fill="#28dbde" stroke="#28dbde" stroke-width="0.3" stroke-linejoin="round"/>
<polygon points="127.8,137.2 141.0,134.3 129.6,132.5" fill="#14cae5" stroke="#14cae5" stroke-width="0.3" stroke-linejoin="round"/>
<polygon points="129.6,132.5 141.0,134.3 142.7,135.3" fill="#1fd3e1" stroke="#1fd3e1" stroke-width="0.3" stroke-linejoin="round"/>
<polygon points="142.7,135.3 154.1,138.0 144.4,133.2" fill="#10c6e6" stroke="#10c6e6" stroke-width="0.3" stroke-linejoin="round"/>
<polygon points="174.0,129.9 185.5,132.0 187.1,132.0" fill="#50f4cc" stroke="#50f4cc" stroke-width="0.3" stroke-linejoin="round"/>
<polygon points="172.3,132.2 185.5,132.0 174.0,129.9" fill="#4ef3cd" stroke="#4ef3cd" stroke-width="0.3" stroke-linejoin="round"/>
<polygon points="94.6,141.1 96.5,142.5 85.3,137.7" fill="#3e65fa" stroke="#3e65fa" stroke-width="0.3" stroke-linejoin="round"/>
<polygon points="96.5,142.5 109.5,143.1 98.3,139.7" fill="#4a53fb" stroke="#4a53fb" stroke-width="0.3" stroke-linejoin="round"/>
<polygon points="83.4,136.2 94.6,141.1 85.3,137.7" fill="#2686f5" stroke="#2686f5" stroke-width="0.3" stroke-linejoin="round"/>
<polygon points="157.5,131.2 170.7,133.1 159.2,130.7" fill="#46efd1" stroke="#46efd1" stroke-width="0.3" stroke-linejoin="round"/>
<polygon points="27.8,128.4 38.8,134.0 40.9,135.4" fill="#0ac0e8" stroke="#0ac0e8" stroke-width="0.3" stroke-linejoin="round"/>
<polygon points="154.1,138.0 155.8,136.3 144.4,133.2" fill="#14cae5" stroke="#14cae5" stroke-width="0.3" stroke-linejoin="round"/>
<polygon points="113.1,134.7 124.4,137.9 114.8,134.2" fill="#0ac0e8" stroke="#0ac0e8" stroke-width="0.3" stroke-linejoin="round"/>
<polygon points="109.5,143.1 111.3,136.9 100.1,134.5" fill="#1996f3" stroke="#1996f3" stroke-width="0.3" stroke-linejoin="round"/>
<polygon points="66.8,143.5 79.8,143.2 68.7,139.9" fill="#5641fd" stroke="#5641fd" stroke-width="0.3" stroke-linejoin="round"/>
<polygon points="53.9,140.2 64.9,144.6 66.8,143.5" fill="#6032fe" stroke="#6032fe" stroke-width="0.3" stroke-linejoin="round"/>
<polygon points="126.1,138.2 139.2,140.5 127.8,137.2" fill="#149df1" stroke="#149df1" stroke-width="0.3" stroke-linejoin="round"/>
<polygon points="124.4,137.9 126.1,138.2 114.8,134.2" fill="#00b5eb" stroke="#00b5eb" stroke-width="0.3" stroke-linejoin="round"/>
<polygon points="68.7,139.9 79.8,143.2 81.6,139.6" fill="#425ffa" stroke="#425ffa" stroke-width="0.3" stroke-linejoin="round"/>
<polygon points="127.8,137.2 139.2,140.5 141.0,134.3" fill="#02b7eb" stroke="#02b7eb" stroke-width="0.3" stroke-linejoin="round"/>
<polygon points="38.8,134.0 51.9,138.9 40.9,135.4" fill="#149df1" stroke="#149df1" stroke-width="0.3" stroke-linejoin="round"/>
<polygon points="51.9,138.9 64.9,144.6 53.9,140.2" fill="#4a53fb" stroke="#4a53fb" stroke-width="0.3" stroke-linejoin="round"/>
<polygon points="170.7,133.1 183.8,134.8 172.3,132.2" fill="#46efd1" stroke="#46efd1" stroke-width="0.3" stroke-linejoin="round"/>
<polygon points="172.3,132.2 183.8,134.8 185.5,132.0" fill="#4df3ce" stroke="#4df3ce" stroke-width="0.3" stroke-linejoin="round"/>
<polygon points="96.5,142.5 107.7,145.2 109.5,143.1" fill="#504afc" stroke="#504afc" stroke-width="0.3" stroke-linejoin="round"/>
<polygon points="81.6,139.6 92.8,144.3 83.4,136.2" fill="#2981f6" stroke="#2981f6" stroke-width="0.3" stroke-linejoin="round"/>
<polygon points="155.8,136.3 167.3,138.3 157.5,131.2" fill="#2ddedc" stroke="#2ddedc" stroke-width="0.3" stroke-linejoin="round"/>
<polygon points="157.5,131.2 169.0,133.7 170.7,133.1" fill="#4ef3cd" stroke="#4ef3cd" stroke-width="0.3" stroke-linejoin="round"/>
<polygon points="25.8,129.3 36.8,133.2 27.8,128.4" fill="#37e6d8" stroke="#37e6d8" stroke-width="0.3" stroke-linejoin="round"/>
<polygon points="36.8,133.2 38.8,134.0 27.8,128.4" fill="#27dade" stroke="#27dade" stroke-width="0.3" stroke-linejoin="round"/>
<polygon points="141.0,134.3 152.4,137.2 142.7,135.3" fill="#27dade" stroke="#27dade" stroke-width="0.3" stroke-linejoin="round"/>
<polygon points="66.8,143.5 77.9,144.6 79.8,143.2" fill="#5641fd" stroke="#5641fd" stroke-width="0.3" stroke-linejoin="round"/>
<polygon points="111.3,136.9 122.6,139.7 113.1,134.7" fill="#08bee9" stroke="#08bee9" stroke-width="0.3" stroke-linejoin="round"/>
<polygon points="92.8,144.3 94.6,141.1 83.4,136.2" fill="#2884f6" stroke="#2884f6" stroke-width="0.3" stroke-linejoin="round"/>
<polygon points="126.1,138.2 137.5,140.8 139.2,140.5" fill="#10a2f0" stroke="#10a2f0" stroke-width="0.3" stroke-linejoin="round"/>
<polygon points="152.4,137.2 154.1,138.0 142.7,135.3" fill="#1acfe3" stroke="#1acfe3" stroke-width="0.3" stroke-linejoin="round"/>
<polygon points="64.9,144.6 76.1,147.3 66.8,143.5" fill="#6629fe" stroke="#6629fe" stroke-width="0.3" stroke-linejoin="round"/>
<polygon points="109.5,143.1 122.6,139.7 111.3,136.9" fill="#149df1" stroke="#149df1" stroke-width="0.3" stroke-linejoin="round"/>
<polygon points="122.6,139.7 124.4,137.9 113.1,134.7" fill="#0dc2e8" stroke="#0dc2e8" stroke-width="0.3" stroke-linejoin="round"/>
<polygon points="94.6,141.1 105.9,144.8 96.5,142.5" fill="#3c68f9" stroke="#3c68f9" stroke-width="0.3" stroke-linejoin="round"/>
<polygon points="167.3,138.3 169.0,133.7 157.5,131.2" fill="#42edd3" stroke="#42edd3" stroke-width="0.3" stroke-linejoin="round"/>
<polygon points="105.9,144.8 107.7,145.2 96.5,142.5" fill="#4856fb" stroke="#4856fb" stroke-width="0.3" stroke-linejoin="round"/>
<polygon points="79.8,143.2 91.0,146.9 81.6,139.6" fill="#445cfb" stroke="#445cfb" stroke-width="0.3" stroke-linejoin="round"/>
<polygon points="139.2,140.5 152.4,137.2 141.0,134.3" fill="#1acfe3" stroke="#1acfe3" stroke-width="0.3" stroke-linejoin="round"/>
<polygon points="38.8,134.0 49.9,137.4 51.9,138.9" fill="#06aeed" stroke="#06aeed" stroke-width="0.3" stroke-linejoin="round"/>
<polygon points="51.9,138.9 63.0,142.9 64.9,144.6" fill="#4062fa" stroke="#4062fa" stroke-width="0.3" stroke-linejoin="round"/>
<polygon points="154.1,138.0 165.6,140.7 155.8,136.3" fill="#14cae5" stroke="#14cae5" stroke-width="0.3" stroke-linejoin="round"/>
<polygon points="23.8,131.7 36.8,133.2 25.8,129.3" fill="#34e4d9" stroke="#34e4d9" stroke-width="0.3" stroke-linejoin="round"/>
<polygon points="76.1,147.3 77.9,144.6 66.8,143.5" fill="#5e35fe" stroke="#5e35fe" stroke-width="0.3" stroke-linejoin="round"/>
<polygon points="170.7,133.1 182.2,136.2 183.8,134.8" fill="#48f1d0" stroke="#48f1d0" stroke-width="0.3" stroke-linejoin="round"/>
<polygon points="91.0,146.9 92.8,144.3 81.6,139.6" fill="#425ffa" stroke="#425ffa" stroke-width="0.3" stroke-linejoin="round"/>
<polygon points="124.4,137.9 135.8,139.7 126.1,138.2" fill="#0ac0e8" stroke="#0ac0e8" stroke-width="0.3" stroke-linejoin="round"/>
<polygon points="165.6,140.7 167.3,138.3 155.8,136.3" fill="#1dd1e2" stroke="#1dd1e2" stroke-width="0.3" stroke-linejoin="round"/>
<polygon points="36.8,133.2 49.9,137.4 38.8,134.0" fill="#18cde4" stroke="#18cde4" stroke-width="0.3" stroke-linejoin="round"/>
<polygon points="107.7,145.2 119.0,147.0 109.5,143.1" fill="#4659fb" stroke="#4659fb" stroke-width="0.3" stroke-linejoin="round"/>
<polygon points="135.8,139.7 137.5,140.8 126.1,138.2" fill="#04b9ea" stroke="#04b9ea" stroke-width="0.3" stroke-linejoin="round"/>
<polygon points="109.5,143.1 120.8,144.3 122.6,139.7" fill="#218cf4" stroke="#218cf4" stroke-width="0.3" stroke-linejoin="round"/>
<polygon points="49.9,137.4 63.0,142.9 51.9,138.9" fill="#1c93f3" stroke="#1c93f3" stroke-width="0.3" stroke-linejoin="round"/>
<polygon points="139.2,140.5 150.6,143.1 152.4,137.2" fill="#04b9ea" stroke="#04b9ea" stroke-width="0.3" stroke-linejoin="round"/>
<polygon points="169.0,133.7 180.6,136.3 170.7,133.1" fill="#54f6cb" stroke="#54f6cb" stroke-width="0.3" stroke-linejoin="round"/>
<polygon points="137.5,140.8 148.9,143.0 139.2,140.5" fill="#08acee" stroke="#08acee" stroke-width="0.3" stroke-linejoin="round"/>
<polygon points="180.6,136.3 182.2,136.2 170.7,133.1" fill="#50f4cc" stroke="#50f4cc" stroke-width="0.3" stroke-linejoin="round"/>
<polygon points="77.9,144.6 89.1,146.6 79.8,143.2" fill="#4659fb" stroke="#4659fb" stroke-width="0.3" stroke-linejoin="round"/>
<polygon points="119.0,147.0 120.8,144.3 109.5,143.1" fill="#386df9" stroke="#386df9" stroke-width="0.3" stroke-linejoin="round"/>
<polygon points="92.8,144.3 104.1,146.2 94.6,141.1" fill="#3473f8" stroke="#3473f8" stroke-width="0.3" stroke-linejoin="round"/>
<polygon points="23.8,131.7 34.8,134.5 36.8,133.2" fill="#30e1da" stroke="#30e1da" stroke-width="0.3" stroke-linejoin="round"/>
<polygon points="148.9,143.0 150.6,143.1 139.2,140.5" fill="#0ca7ef" stroke="#0ca7ef" stroke-width="0.3" stroke-linejoin="round"/>
<polygon points="122.6,139.7 135.8,139.7 124.4,137.9" fill="#12c8e6" stroke="#12c8e6" stroke-width="0.3" stroke-linejoin="round"/>
<polygon points="89.1,146.6 91.0,146.9 79.8,143.2" fill="#4a53fb" stroke="#4a53fb" stroke-width="0.3" stroke-linejoin="round"/>
<polygon points="63.0,142.9 74.1,145.2 64.9,144.6" fill="#4062fa" stroke="#4062fa" stroke-width="0.3" stroke-linejoin="round"/>
<polygon points="104.1,146.2 105.9,144.8 94.6,141.1" fill="#2e7bf7" stroke="#2e7bf7" stroke-width="0.3" stroke-linejoin="round"/>
<polygon points="74.1,145.2 76.1,147.3 64.9,144.6" fill="#4e4dfc" stroke="#4e4dfc" stroke-width="0.3" stroke-linejoin="round"/>
<polygon points="167.3,138.3 178.9,141.1 169.0,133.7" fill="#38e7d7" stroke="#38e7d7" stroke-width="0.3" stroke-linejoin="round"/>
<polygon points="152.4,137.2 164.0,139.7 154.1,138.0" fill="#2ddedc" stroke="#2ddedc" stroke-width="0.3" stroke-linejoin="round"/>
<polygon points="91.0,146.9 104.1,146.2 92.8,144.3" fill="#445cfb" stroke="#445cfb" stroke-width="0.3" stroke-linejoin="round"/>
<polygon points="21.9,133.7 32.8,134.1 23.8,131.7" fill="#38e7d7" stroke="#38e7d7" stroke-width="0.3" stroke-linejoin="round"/>
<polygon points="20.1,141.6 31.1,143.0 21.9,133.7" fill="#149df1" stroke="#149df1" stroke-width="0.3" stroke-linejoin="round"/>
<polygon points="164.0,139.7 165.6,140.7 154.1,138.0" fill="#22d6e0" stroke="#22d6e0" stroke-width="0.3" stroke-linejoin="round"/>
<polygon points="36.8,133.2 47.8,136.4 49.9,137.4" fill="#22d6e0" stroke="#22d6e0" stroke-width="0.3" stroke-linejoin="round"/>
<polygon points="76.1,147.3 87.3,150.4 77.9,144.6" fill="#583efd" stroke="#583efd" stroke-width="0.3" stroke-linejoin="round"/>
<polygon points="165.6,140.7 178.9,141.1 167.3,138.3" fill="#22d6e0" stroke="#22d6e0" stroke-width="0.3" stroke-linejoin="round"/>
<polygon points="18.1,142.6 31.1,143.0 20.1,141.6" fill="#3176f8" stroke="#3176f8" stroke-width="0.3" stroke-linejoin="round"/>
<polygon points="105.9,144.8 117.2,145.8 107.7,145.2" fill="#3176f8" stroke="#3176f8" stroke-width="0.3" stroke-linejoin="round"/>
<polygon points="32.8,134.1 34.8,134.5 23.8,131.7" fill="#3ae8d6" stroke="#3ae8d6" stroke-width="0.3" stroke-linejoin="round"/>
<polygon points="49.9,137.4 60.9,139.5 63.0,142.9" fill="#06aeed" stroke="#06aeed" stroke-width="0.3" stroke-linejoin="round"/>
<polygon points="135.8,139.7 148.9,143.0 137.5,140.8" fill="#0dc2e8" stroke="#0dc2e8" stroke-width="0.3" stroke-linejoin="round"/>
<polygon points="178.9,141.1 180.6,136.3 169.0,133.7" fill="#4af2cf" stroke="#4af2cf" stroke-width="0.3" stroke-linejoin="round"/>
<polygon points="120.8,144.3 134.0,142.2 122.6,139.7" fill="#04b0ed" stroke="#04b0ed" stroke-width="0.3" stroke-linejoin="round"/>
<polygon points="150.6,143.1 162.2,146.4 152.4,137.2" fill="#07bbea" stroke="#07bbea" stroke-width="0.3" stroke-linejoin="round"/>
<polygon points="117.2,145.8 119.0,147.0 107.7,145.2" fill="#3473f8" stroke="#3473f8" stroke-width="0.3" stroke-linejoin="round"/>
<polygon points="122.6,139.7 134.0,142.2 135.8,139.7" fill="#14cae5" stroke="#14cae5" stroke-width="0.3" stroke-linejoin="round"/>
<polygon points="87.3,150.4 89.1,146.6 77.9,144.6" fill="#4c50fc" stroke="#4c50fc" stroke-width="0.3" stroke-linejoin="round"/>
<polygon points="34.8,134.5 45.9,137.9 36.8,133.2" fill="#30e1da" stroke="#30e1da" stroke-width="0.3" stroke-linejoin="round"/>
<polygon points="119.0,147.0 132.2,147.6 120.8,144.3" fill="#3079f7" stroke="#3079f7" stroke-width="0.3" stroke-linejoin="round"/>
<polygon points="91.0,146.9 102.3,149.2 104.1,146.2" fill="#4659fb" stroke="#4659fb" stroke-width="0.3" stroke-linejoin="round"/>
<polygon points="148.9,143.0 162.2,146.4 150.6,143.1" fill="#09a9ee" stroke="#09a9ee" stroke-width="0.3" stroke-linejoin="round"/>
<polygon points="89.1,146.6 102.3,149.2 91.0,146.9" fill="#4856fb" stroke="#4856fb" stroke-width="0.3" stroke-linejoin="round"/>
<polygon points="31.1,143.0 32.8,134.1 21.9,133.7" fill="#1dd1e2" stroke="#1dd1e2" stroke-width="0.3" stroke-linejoin="round"/>
<polygon points="45.9,137.9 47.8,136.4 36.8,133.2" fill="#30e1da" stroke="#30e1da" stroke-width="0.3" stroke-linejoin="round"/>
<polygon points="60.9,139.5 74.1,145.2 63.0,142.9" fill="#169bf2" stroke="#169bf2" stroke-width="0.3" stroke-linejoin="round"/>
<polygon points="162.2,146.4 164.0,139.7 152.4,137.2" fill="#20d5e1" stroke="#20d5e1" stroke-width="0.3" stroke-linejoin="round"/>
<polygon points="74.1,145.2 87.3,150.4 76.1,147.3" fill="#4c50fc" stroke="#4c50fc" stroke-width="0.3" stroke-linejoin="round"/>
<polygon points="120.8,144.3 132.2,147.6 134.0,142.2" fill="#169bf2" stroke="#169bf2" stroke-width="0.3" stroke-linejoin="round"/>
<polygon points="165.6,140.7 177.2,144.2 178.9,141.1" fill="#1dd1e2" stroke="#1dd1e2" stroke-width="0.3" stroke-linejoin="round"/>
<polygon points="164.0,139.7 177.2,144.2 165.6,140.7" fill="#22d6e0" stroke="#22d6e0" stroke-width="0.3" stroke-linejoin="round"/>
<polygon points="18.1,142.6 29.1,144.7 31.1,143.0" fill="#2981f6" stroke="#2981f6" stroke-width="0.3" stroke-linejoin="round"/>
<polygon points="47.8,136.4 59.0,139.1 49.9,137.4" fill="#24d8df" stroke="#24d8df" stroke-width="0.3" stroke-linejoin="round"/>
<polygon points="104.1,146.2 115.4,149.2 105.9,144.8" fill="#3079f7" stroke="#3079f7" stroke-width="0.3" stroke-linejoin="round"/>
<polygon points="16.2,146.0 27.1,147.3 18.1,142.6" fill="#4062fa" stroke="#4062fa" stroke-width="0.3" stroke-linejoin="round"/>
<polygon points="59.0,139.1 60.9,139.5 49.9,137.4" fill="#1dd1e2" stroke="#1dd1e2" stroke-width="0.3" stroke-linejoin="round"/>
<polygon points="135.8,139.7 147.3,141.7 148.9,143.0" fill="#1fd3e1" stroke="#1fd3e1" stroke-width="0.3" stroke-linejoin="round"/>
<polygon points="119.0,147.0 130.5,149.7 132.2,147.6" fill="#3473f8" stroke="#3473f8" stroke-width="0.3" stroke-linejoin="round"/>
<polygon points="115.4,149.2 117.2,145.8 105.9,144.8" fill="#2686f5" stroke="#2686f5" stroke-width="0.3" stroke-linejoin="round"/>
<polygon points="134.0,142.2 145.5,145.9 135.8,139.7" fill="#14cae5" stroke="#14cae5" stroke-width="0.3" stroke-linejoin="round"/>
<polygon points="117.2,145.8 130.5,149.7 119.0,147.0" fill="#2c7ef7" stroke="#2c7ef7" stroke-width="0.3" stroke-linejoin="round"/>
<polygon points="27.1,147.3 29.1,144.7 18.1,142.6" fill="#3176f8" stroke="#3176f8" stroke-width="0.3" stroke-linejoin="round"/>
<polygon points="102.3,149.2 115.4,149.2 104.1,146.2" fill="#386df9" stroke="#386df9" stroke-width="0.3" stroke-linejoin="round"/>
<polygon points="148.9,143.0 160.5,145.9 162.2,146.4" fill="#00b5eb" stroke="#00b5eb" stroke-width="0.3" stroke-linejoin="round"/>
<polygon points="87.3,150.4 100.4,148.8 89.1,146.6" fill="#4062fa" stroke="#4062fa" stroke-width="0.3" stroke-linejoin="round"/>
<polygon points="32.8,134.1 43.9,136.9 34.8,134.5" fill="#48f1d0" stroke="#48f1d0" stroke-width="0.3" stroke-linejoin="round"/>
<polygon points="89.1,146.6 100.4,148.8 102.3,149.2" fill="#396bf9" stroke="#396bf9" stroke-width="0.3" stroke-linejoin="round"/>
<polygon points="43.9,136.9 45.9,137.9 34.8,134.5" fill="#3dead5" stroke="#3dead5" stroke-width="0.3" stroke-linejoin="round"/>
<polygon points="14.2,148.6 25.2,149.9 16.2,146.0" fill="#5641fd" stroke="#5641fd" stroke-width="0.3" stroke-linejoin="round"/>
<polygon points="132.2,147.6 145.5,145.9 134.0,142.2" fill="#04b0ed" stroke="#04b0ed" stroke-width="0.3" stroke-linejoin="round"/>
<polygon points="45.9,137.9 59.0,139.1 47.8,136.4" fill="#30e1da" stroke="#30e1da" stroke-width="0.3" stroke-linejoin="round"/>
<polygon points="145.5,145.9 147.3,141.7 135.8,139.7" fill="#20d5e1" stroke="#20d5e1" stroke-width="0.3" stroke-linejoin="round"/>
<polygon points="60.9,139.5 72.2,142.5 74.1,145.2" fill="#04b9ea" stroke="#04b9ea" stroke-width="0.3" stroke-linejoin="round"/>
<polygon points="162.2,146.4 173.8,148.7 164.0,139.7" fill="#0dc2e8" stroke="#0dc2e8" stroke-width="0.3" stroke-linejoin="round"/>
<polygon points="31.1,143.0 43.9,136.9 32.8,134.1" fill="#2ddedc" stroke="#2ddedc" stroke-width="0.3" stroke-linejoin="round"/>
<polygon points="147.3,141.7 160.5,145.9 148.9,143.0" fill="#18cde4" stroke="#18cde4" stroke-width="0.3" stroke-linejoin="round"/>
<polygon points="74.1,145.2 85.4,147.0 87.3,150.4" fill="#3176f8" stroke="#3176f8" stroke-width="0.3" stroke-linejoin="round"/>
<polygon points="164.0,139.7 175.6,142.6 177.2,144.2" fill="#30e1da" stroke="#30e1da" stroke-width="0.3" stroke-linejoin="round"/>
<polygon points="25.2,149.9 27.1,147.3 16.2,146.0" fill="#4659fb" stroke="#4659fb" stroke-width="0.3" stroke-linejoin="round"/>
<polygon points="29.1,144.7 40.1,146.2 31.1,143.0" fill="#1c93f3" stroke="#1c93f3" stroke-width="0.3" stroke-linejoin="round"/>
<polygon points="31.1,143.0 42.2,146.5 43.9,136.9" fill="#02b7eb" stroke="#02b7eb" stroke-width="0.3" stroke-linejoin="round"/>
<polygon points="59.0,139.1 72.2,142.5 60.9,139.5" fill="#22d6e0" stroke="#22d6e0" stroke-width="0.3" stroke-linejoin="round"/>
<polygon points="102.3,149.2 113.6,151.6 115.4,149.2" fill="#3c68f9" stroke="#3c68f9" stroke-width="0.3" stroke-linejoin="round"/>
<polygon points="132.2,147.6 143.7,150.7 145.5,145.9" fill="#1898f2" stroke="#1898f2" stroke-width="0.3" stroke-linejoin="round"/>
<polygon points="87.3,150.4 98.6,151.7 100.4,148.8" fill="#425ffa" stroke="#425ffa" stroke-width="0.3" stroke-linejoin="round"/>
<polygon points="130.5,149.7 142.0,152.7 132.2,147.6" fill="#3079f7" stroke="#3079f7" stroke-width="0.3" stroke-linejoin="round"/>
<polygon points="173.8,148.7 175.6,142.6 164.0,139.7" fill="#28dbde" stroke="#28dbde" stroke-width="0.3" stroke-linejoin="round"/>
<polygon points="40.1,146.2 42.2,146.5 31.1,143.0" fill="#1e91f3" stroke="#1e91f3" stroke-width="0.3" stroke-linejoin="round"/>
<polygon points="72.2,142.5 85.4,147.0 74.1,145.2" fill="#09a9ee" stroke="#09a9ee" stroke-width="0.3" stroke-linejoin="round"/>
<polygon points="117.2,145.8 128.7,149.2 130.5,149.7" fill="#1e91f3" stroke="#1e91f3" stroke-width="0.3" stroke-linejoin="round"/>
<polygon points="115.4,149.2 128.7,149.2 117.2,145.8" fill="#1c93f3" stroke="#1c93f3" stroke-width="0.3" stroke-linejoin="round"/>
<polygon points="160.5,145.9 172.2,149.0 162.2,146.4" fill="#02b7eb" stroke="#02b7eb" stroke-width="0.3" stroke-linejoin="round"/>
<polygon points="45.9,137.9 57.0,139.5 59.0,139.1" fill="#38e7d7" stroke="#38e7d7" stroke-width="0.3" stroke-linejoin="round"/>
<polygon points="142.0,152.7 143.7,150.7 132.2,147.6" fill="#2c7ef7" stroke="#2c7ef7" stroke-width="0.3" stroke-linejoin="round"/>
<polygon points="100.4,148.8 111.8,151.6 102.3,149.2" fill="#3176f8" stroke="#3176f8" stroke-width="0.3" stroke-linejoin="round"/>
<polygon points="172.2,149.0 173.8,148.7 162.2,146.4" fill="#04b0ed" stroke="#04b0ed" stroke-width="0.3" stroke-linejoin="round"/>
<polygon points="147.3,141.7 158.8,145.9 160.5,145.9" fill="#20d5e1" stroke="#20d5e1" stroke-width="0.3" stroke-linejoin="round"/>
<polygon points="43.9,136.9 57.0,139.5 45.9,137.9" fill="#44eed2" stroke="#44eed2" stroke-width="0.3" stroke-linejoin="round"/>
<polygon points="111.8,151.6 113.6,151.6 102.3,149.2" fill="#386df9" stroke="#386df9" stroke-width="0.3" stroke-linejoin="round"/>
<polygon points="27.1,147.3 38.2,148.9 29.1,144.7" fill="#2981f6" stroke="#2981f6" stroke-width="0.3" stroke-linejoin="round"/>
<polygon points="145.5,145.9 157.1,149.8 147.3,141.7" fill="#14cae5" stroke="#14cae5" stroke-width="0.3" stroke-linejoin="round"/>
<polygon points="85.4,147.0 96.7,149.9 87.3,150.4" fill="#2884f6" stroke="#2884f6" stroke-width="0.3" stroke-linejoin="round"/>
<polygon points="96.7,149.9 98.6,151.7 87.3,150.4" fill="#386df9" stroke="#386df9" stroke-width="0.3" stroke-linejoin="round"/>
<polygon points="59.0,139.1 70.2,143.3 72.2,142.5" fill="#27dade" stroke="#27dade" stroke-width="0.3" stroke-linejoin="round"/>
<polygon points="115.4,149.2 126.9,152.7 128.7,149.2" fill="#2884f6" stroke="#2884f6" stroke-width="0.3" stroke-linejoin="round"/>
<polygon points="42.2,146.5 53.3,148.6 43.9,136.9" fill="#07bbea" stroke="#07bbea" stroke-width="0.3" stroke-linejoin="round"/>
<polygon points="143.7,150.7 155.3,155.0 145.5,145.9" fill="#1e91f3" stroke="#1e91f3" stroke-width="0.3" stroke-linejoin="round"/>
<polygon points="38.2,148.9 40.1,146.2 29.1,144.7" fill="#1c93f3" stroke="#1c93f3" stroke-width="0.3" stroke-linejoin="round"/>
<polygon points="157.1,149.8 158.8,145.9 147.3,141.7" fill="#1dd1e2" stroke="#1dd1e2" stroke-width="0.3" stroke-linejoin="round"/>
<polygon points="57.0,139.5 70.2,143.3 59.0,139.1" fill="#37e6d8" stroke="#37e6d8" stroke-width="0.3" stroke-linejoin="round"/>
<polygon points="158.8,145.9 172.2,149.0 160.5,145.9" fill="#14cae5" stroke="#14cae5" stroke-width="0.3" stroke-linejoin="round"/>
<polygon points="72.2,142.5 83.5,147.1 85.4,147.0" fill="#04b9ea" stroke="#04b9ea" stroke-width="0.3" stroke-linejoin="round"/>
<polygon points="128.7,149.2 140.2,153.1 130.5,149.7" fill="#218cf4" stroke="#218cf4" stroke-width="0.3" stroke-linejoin="round"/>
<polygon points="113.6,151.6 125.1,153.6 115.4,149.2" fill="#3176f8" stroke="#3176f8" stroke-width="0.3" stroke-linejoin="round"/>
<polygon points="40.1,146.2 53.3,148.6 42.2,146.5" fill="#1996f3" stroke="#1996f3" stroke-width="0.3" stroke-linejoin="round"/>
<polygon points="140.2,153.1 142.0,152.7 130.5,149.7" fill="#2c7ef7" stroke="#2c7ef7" stroke-width="0.3" stroke-linejoin="round"/>
<polygon points="98.6,151.7 110.0,153.1 100.4,148.8" fill="#3079f7" stroke="#3079f7" stroke-width="0.3" stroke-linejoin="round"/>
<polygon points="155.3,155.0 157.1,149.8 145.5,145.9" fill="#10a2f0" stroke="#10a2f0" stroke-width="0.3" stroke-linejoin="round"/>
<polygon points="125.1,153.6 126.9,152.7 115.4,149.2" fill="#2e7bf7" stroke="#2e7bf7" stroke-width="0.3" stroke-linejoin="round"/>
<polygon points="25.2,149.9 36.1,149.0 27.1,147.3" fill="#2e7bf7" stroke="#2e7bf7" stroke-width="0.3" stroke-linejoin="round"/>
<polygon points="142.0,152.7 153.5,158.6 143.7,150.7" fill="#3c68f9" stroke="#3c68f9" stroke-width="0.3" stroke-linejoin="round"/>
<polygon points="43.9,136.9 55.0,138.7 57.0,139.5" fill="#56f7ca" stroke="#56f7ca" stroke-width="0.3" stroke-linejoin="round"/>
<polygon points="110.0,153.1 111.8,151.6 100.4,148.8" fill="#2686f5" stroke="#2686f5" stroke-width="0.3" stroke-linejoin="round"/>
<polygon points="153.5,158.6 155.3,155.0 143.7,150.7" fill="#4062fa" stroke="#4062fa" stroke-width="0.3" stroke-linejoin="round"/>
<polygon points="83.5,147.1 96.7,149.9 85.4,147.0" fill="#08acee" stroke="#08acee" stroke-width="0.3" stroke-linejoin="round"/>
<polygon points="70.2,143.3 81.6,147.1 72.2,142.5" fill="#1fd3e1" stroke="#1fd3e1" stroke-width="0.3" stroke-linejoin="round"/>
<polygon points="53.3,148.6 55.0,138.7 43.9,136.9" fill="#38e7d7" stroke="#38e7d7" stroke-width="0.3" stroke-linejoin="round"/>
<polygon points="36.1,149.0 38.2,148.9 27.1,147.3" fill="#208ef4" stroke="#208ef4" stroke-width="0.3" stroke-linejoin="round"/>
<polygon points="81.6,147.1 83.5,147.1 72.2,142.5" fill="#14cae5" stroke="#14cae5" stroke-width="0.3" stroke-linejoin="round"/>
<polygon points="57.0,139.5 68.3,142.8 70.2,143.3" fill="#3ae8d6" stroke="#3ae8d6" stroke-width="0.3" stroke-linejoin="round"/>
<polygon points="158.8,145.9 170.5,149.9 172.2,149.0" fill="#18cde4" stroke="#18cde4" stroke-width="0.3" stroke-linejoin="round"/>
<polygon points="126.9,152.7 138.5,154.5 128.7,149.2" fill="#218cf4" stroke="#218cf4" stroke-width="0.3" stroke-linejoin="round"/>
<polygon points="96.7,149.9 110.0,153.1 98.6,151.7" fill="#2686f5" stroke="#2686f5" stroke-width="0.3" stroke-linejoin="round"/>
<polygon points="111.8,151.6 123.3,154.9 113.6,151.6" fill="#2e7bf7" stroke="#2e7bf7" stroke-width="0.3" stroke-linejoin="round"/>
<polygon points="40.1,146.2 51.3,149.4 53.3,148.6" fill="#10a2f0" stroke="#10a2f0" stroke-width="0.3" stroke-linejoin="round"/>
<polygon points="157.1,149.8 168.8,153.6 158.8,145.9" fill="#08bee9" stroke="#08bee9" stroke-width="0.3" stroke-linejoin="round"/>
<polygon points="140.2,153.1 153.5,158.6 142.0,152.7" fill="#386df9" stroke="#386df9" stroke-width="0.3" stroke-linejoin="round"/>
<polygon points="55.0,138.7 68.3,142.8 57.0,139.5" fill="#52f5cb" stroke="#52f5cb" stroke-width="0.3" stroke-linejoin="round"/>
<polygon points="123.3,154.9 125.1,153.6 113.6,151.6" fill="#2e7bf7" stroke="#2e7bf7" stroke-width="0.3" stroke-linejoin="round"/>
<polygon points="138.5,154.5 140.2,153.1 128.7,149.2" fill="#1996f3" stroke="#1996f3" stroke-width="0.3" stroke-linejoin="round"/>
<polygon points="155.3,155.0 168.8,153.6 157.1,149.8" fill="#1898f2" stroke="#1898f2" stroke-width="0.3" stroke-linejoin="round"/>
<polygon points="168.8,153.6 170.5,149.9 158.8,145.9" fill="#10c6e6" stroke="#10c6e6" stroke-width="0.3" stroke-linejoin="round"/>
<polygon points="38.2,148.9 49.3,149.9 40.1,146.2" fill="#0ea5ef" stroke="#0ea5ef" stroke-width="0.3" stroke-linejoin="round"/>
<polygon points="68.3,142.8 81.6,147.1 70.2,143.3" fill="#2ddedc" stroke="#2ddedc" stroke-width="0.3" stroke-linejoin="round"/>
<polygon points="125.1,153.6 138.5,154.5 126.9,152.7" fill="#2884f6" stroke="#2884f6" stroke-width="0.3" stroke-linejoin="round"/>
<polygon points="83.5,147.1 94.9,150.4 96.7,149.9" fill="#01b3ec" stroke="#01b3ec" stroke-width="0.3" stroke-linejoin="round"/>
<polygon points="53.3,148.6 64.6,151.9 55.0,138.7" fill="#12c8e6" stroke="#12c8e6" stroke-width="0.3" stroke-linejoin="round"/>
<polygon points="153.5,158.6 165.2,163.0 155.3,155.0" fill="#5641fd" stroke="#5641fd" stroke-width="0.3" stroke-linejoin="round"/>
<polygon points="49.3,149.9 51.3,149.4 40.1,146.2" fill="#08acee" stroke="#08acee" stroke-width="0.3" stroke-linejoin="round"/>
<polygon points="81.6,147.1 94.9,150.4 83.5,147.1" fill="#0dc2e8" stroke="#0dc2e8" stroke-width="0.3" stroke-linejoin="round"/>
<polygon points="155.3,155.0 167.0,159.0 168.8,153.6" fill="#2e7bf7" stroke="#2e7bf7" stroke-width="0.3" stroke-linejoin="round"/>
<polygon points="140.2,153.1 151.9,158.0 153.5,158.6" fill="#3c68f9" stroke="#3c68f9" stroke-width="0.3" stroke-linejoin="round"/>
<polygon points="110.0,153.1 121.5,156.5 111.8,151.6" fill="#2686f5" stroke="#2686f5" stroke-width="0.3" stroke-linejoin="round"/>
<polygon points="96.7,149.9 108.2,153.4 110.0,153.1" fill="#169bf2" stroke="#169bf2" stroke-width="0.3" stroke-linejoin="round"/>
<polygon points="165.2,163.0 167.0,159.0 155.3,155.0" fill="#504afc" stroke="#504afc" stroke-width="0.3" stroke-linejoin="round"/>
<polygon points="51.3,149.4 62.6,153.7 53.3,148.6" fill="#169bf2" stroke="#169bf2" stroke-width="0.3" stroke-linejoin="round"/>
<polygon points="55.0,138.7 66.3,142.7 68.3,142.8" fill="#5af8c8" stroke="#5af8c8" stroke-width="0.3" stroke-linejoin="round"/>
<polygon points="138.5,154.5 151.9,158.0 140.2,153.1" fill="#2884f6" stroke="#2884f6" stroke-width="0.3" stroke-linejoin="round"/>
<polygon points="121.5,156.5 123.3,154.9 111.8,151.6" fill="#2686f5" stroke="#2686f5" stroke-width="0.3" stroke-linejoin="round"/>
<polygon points="62.6,153.7 64.6,151.9 53.3,148.6" fill="#1996f3" stroke="#1996f3" stroke-width="0.3" stroke-linejoin="round"/>
<polygon points="64.6,151.9 66.3,142.7 55.0,138.7" fill="#3ae8d6" stroke="#3ae8d6" stroke-width="0.3" stroke-linejoin="round"/>
<polygon points="68.3,142.8 79.7,147.0 81.6,147.1" fill="#32e3da" stroke="#32e3da" stroke-width="0.3" stroke-linejoin="round"/>
<polygon points="125.1,153.6 136.7,155.6 138.5,154.5" fill="#208ef4" stroke="#208ef4" stroke-width="0.3" stroke-linejoin="round"/>
<polygon points="36.1,149.0 47.3,148.2 38.2,148.9" fill="#04b9ea" stroke="#04b9ea" stroke-width="0.3" stroke-linejoin="round"/>
<polygon points="94.9,150.4 106.4,152.9 96.7,149.9" fill="#02b7eb" stroke="#02b7eb" stroke-width="0.3" stroke-linejoin="round"/>
<polygon points="81.6,147.1 93.0,150.8 94.9,150.4" fill="#12c8e6" stroke="#12c8e6" stroke-width="0.3" stroke-linejoin="round"/>
<polygon points="108.2,153.4 121.5,156.5 110.0,153.1" fill="#1e91f3" stroke="#1e91f3" stroke-width="0.3" stroke-linejoin="round"/>
<polygon points="123.3,154.9 134.9,158.1 125.1,153.6" fill="#2686f5" stroke="#2686f5" stroke-width="0.3" stroke-linejoin="round"/>
<polygon points="66.3,142.7 79.7,147.0 68.3,142.8" fill="#48f1d0" stroke="#48f1d0" stroke-width="0.3" stroke-linejoin="round"/>
<polygon points="151.9,158.0 163.5,163.3 153.5,158.6" fill="#4e4dfc" stroke="#4e4dfc" stroke-width="0.3" stroke-linejoin="round"/>
<polygon points="163.5,163.3 165.2,163.0 153.5,158.6" fill="#6032fe" stroke="#6032fe" stroke-width="0.3" stroke-linejoin="round"/>
<polygon points="49.3,149.9 62.6,153.7 51.3,149.4" fill="#0ca7ef" stroke="#0ca7ef" stroke-width="0.3" stroke-linejoin="round"/>
<polygon points="106.4,152.9 108.2,153.4 96.7,149.9" fill="#06aeed" stroke="#06aeed" stroke-width="0.3" stroke-linejoin="round"/>
<polygon points="47.3,148.2 49.3,149.9 38.2,148.9" fill="#08bee9" stroke="#08bee9" stroke-width="0.3" stroke-linejoin="round"/>
<polygon points="79.7,147.0 93.0,150.8 81.6,147.1" fill="#22d6e0" stroke="#22d6e0" stroke-width="0.3" stroke-linejoin="round"/>
<polygon points="138.5,154.5 150.1,158.8 151.9,158.0" fill="#2c7ef7" stroke="#2c7ef7" stroke-width="0.3" stroke-linejoin="round"/>
<polygon points="134.9,158.1 136.7,155.6 125.1,153.6" fill="#218cf4" stroke="#218cf4" stroke-width="0.3" stroke-linejoin="round"/>
<polygon points="64.6,151.9 75.9,155.2 66.3,142.7" fill="#0fc4e7" stroke="#0fc4e7" stroke-width="0.3" stroke-linejoin="round"/>
<polygon points="62.6,153.7 75.9,155.2 64.6,151.9" fill="#1c93f3" stroke="#1c93f3" stroke-width="0.3" stroke-linejoin="round"/>
<polygon points="136.7,155.6 148.4,161.8 138.5,154.5" fill="#2884f6" stroke="#2884f6" stroke-width="0.3" stroke-linejoin="round"/>
<polygon points="150.1,158.8 163.5,163.3 151.9,158.0" fill="#4062fa" stroke="#4062fa" stroke-width="0.3" stroke-linejoin="round"/>
<polygon points="148.4,161.8 150.1,158.8 138.5,154.5" fill="#3079f7" stroke="#3079f7" stroke-width="0.3" stroke-linejoin="round"/>
<polygon points="121.5,156.5 133.2,160.6 123.3,154.9" fill="#2981f6" stroke="#2981f6" stroke-width="0.3" stroke-linejoin="round"/>
<polygon points="108.2,153.4 119.7,157.3 121.5,156.5" fill="#1c93f3" stroke="#1c93f3" stroke-width="0.3" stroke-linejoin="round"/>
<polygon points="66.3,142.7 77.7,146.9 79.7,147.0" fill="#4df3ce" stroke="#4df3ce" stroke-width="0.3" stroke-linejoin="round"/>
<polygon points="93.0,150.8 104.5,156.0 94.9,150.4" fill="#04b9ea" stroke="#04b9ea" stroke-width="0.3" stroke-linejoin="round"/>
<polygon points="49.3,149.9 60.6,153.6 62.6,153.7" fill="#09a9ee" stroke="#09a9ee" stroke-width="0.3" stroke-linejoin="round"/>
<polygon points="133.2,160.6 134.9,158.1 123.3,154.9" fill="#2981f6" stroke="#2981f6" stroke-width="0.3" stroke-linejoin="round"/>
<polygon points="104.5,156.0 106.4,152.9 94.9,150.4" fill="#02b7eb" stroke="#02b7eb" stroke-width="0.3" stroke-linejoin="round"/>
<polygon points="75.9,155.2 77.7,146.9 66.3,142.7" fill="#30e1da" stroke="#30e1da" stroke-width="0.3" stroke-linejoin="round"/>
<polygon points="79.7,147.0 91.1,150.1 93.0,150.8" fill="#2adddd" stroke="#2adddd" stroke-width="0.3" stroke-linejoin="round"/>
<polygon points="62.6,153.7 74.0,156.1 75.9,155.2" fill="#1898f2" stroke="#1898f2" stroke-width="0.3" stroke-linejoin="round"/>
<polygon points="77.7,146.9 91.1,150.1 79.7,147.0" fill="#3febd5" stroke="#3febd5" stroke-width="0.3" stroke-linejoin="round"/>
<polygon points="106.4,152.9 117.9,157.4 108.2,153.4" fill="#01b3ec" stroke="#01b3ec" stroke-width="0.3" stroke-linejoin="round"/>
<polygon points="134.9,158.1 146.6,163.7 136.7,155.6" fill="#2c7ef7" stroke="#2c7ef7" stroke-width="0.3" stroke-linejoin="round"/>
<polygon points="150.1,158.8 161.8,164.1 163.5,163.3" fill="#4659fb" stroke="#4659fb" stroke-width="0.3" stroke-linejoin="round"/>
<polygon points="117.9,157.4 119.7,157.3 108.2,153.4" fill="#10a2f0" stroke="#10a2f0" stroke-width="0.3" stroke-linejoin="round"/>
<polygon points="60.6,153.6 74.0,156.1 62.6,153.7" fill="#10a2f0" stroke="#10a2f0" stroke-width="0.3" stroke-linejoin="round"/>
<polygon points="146.6,163.7 148.4,161.8 136.7,155.6" fill="#3670f8" stroke="#3670f8" stroke-width="0.3" stroke-linejoin="round"/>
<polygon points="148.4,161.8 161.8,164.1 150.1,158.8" fill="#4062fa" stroke="#4062fa" stroke-width="0.3" stroke-linejoin="round"/>
<polygon points="91.1,150.1 104.5,156.0 93.0,150.8" fill="#17cbe4" stroke="#17cbe4" stroke-width="0.3" stroke-linejoin="round"/>
<polygon points="47.3,148.2 58.6,152.1 49.3,149.9" fill="#22d6e0" stroke="#22d6e0" stroke-width="0.3" stroke-linejoin="round"/>
<polygon points="58.6,152.1 60.6,153.6 49.3,149.9" fill="#0fc4e7" stroke="#0fc4e7" stroke-width="0.3" stroke-linejoin="round"/>
<polygon points="119.7,157.3 131.4,159.7 121.5,156.5" fill="#1996f3" stroke="#1996f3" stroke-width="0.3" stroke-linejoin="round"/>
<polygon points="133.2,160.6 146.6,163.7 134.9,158.1" fill="#3670f8" stroke="#3670f8" stroke-width="0.3" stroke-linejoin="round"/>
<polygon points="131.4,159.7 133.2,160.6 121.5,156.5" fill="#218cf4" stroke="#218cf4" stroke-width="0.3" stroke-linejoin="round"/>
<polygon points="75.9,155.2 87.4,157.0 77.7,146.9" fill="#10c6e6" stroke="#10c6e6" stroke-width="0.3" stroke-linejoin="round"/>
<polygon points="148.4,161.8 160.1,167.2 161.8,164.1" fill="#5247fc" stroke="#5247fc" stroke-width="0.3" stroke-linejoin="round"/>
<polygon points="104.5,156.0 116.1,160.2 106.4,152.9" fill="#06aeed" stroke="#06aeed" stroke-width="0.3" stroke-linejoin="round"/>
<polygon points="77.7,146.9 89.2,150.4 91.1,150.1" fill="#46efd1" stroke="#46efd1" stroke-width="0.3" stroke-linejoin="round"/>
<polygon points="60.6,153.6 72.1,157.6 74.0,156.1" fill="#0ca7ef" stroke="#0ca7ef" stroke-width="0.3" stroke-linejoin="round"/>
<polygon points="133.2,160.6 144.8,167.1 146.6,163.7" fill="#4c50fc" stroke="#4c50fc" stroke-width="0.3" stroke-linejoin="round"/>
<polygon points="116.1,160.2 117.9,157.4 106.4,152.9" fill="#06aeed" stroke="#06aeed" stroke-width="0.3" stroke-linejoin="round"/>
<polygon points="74.0,156.1 85.5,158.9 75.9,155.2" fill="#10a2f0" stroke="#10a2f0" stroke-width="0.3" stroke-linejoin="round"/>
<polygon points="117.9,157.4 131.4,159.7 119.7,157.3" fill="#10a2f0" stroke="#10a2f0" stroke-width="0.3" stroke-linejoin="round"/>
<polygon points="146.6,163.7 158.3,169.3 148.4,161.8" fill="#5247fc" stroke="#5247fc" stroke-width="0.3" stroke-linejoin="round"/>
<polygon points="91.1,150.1 102.6,152.9 104.5,156.0" fill="#24d8df" stroke="#24d8df" stroke-width="0.3" stroke-linejoin="round"/>
<polygon points="87.4,157.0 89.2,150.4 77.7,146.9" fill="#32e3da" stroke="#32e3da" stroke-width="0.3" stroke-linejoin="round"/>
<polygon points="158.3,169.3 160.1,167.2 148.4,161.8" fill="#5c38fd" stroke="#5c38fd" stroke-width="0.3" stroke-linejoin="round"/>
<polygon points="58.6,152.1 72.1,157.6 60.6,153.6" fill="#08bee9" stroke="#08bee9" stroke-width="0.3" stroke-linejoin="round"/>
<polygon points="131.4,159.7 144.8,167.1 133.2,160.6" fill="#386df9" stroke="#386df9" stroke-width="0.3" stroke-linejoin="round"/>
<polygon points="85.5,158.9 87.4,157.0 75.9,155.2" fill="#0ca7ef" stroke="#0ca7ef" stroke-width="0.3" stroke-linejoin="round"/>
<polygon points="72.1,157.6 85.5,158.9 74.0,156.1" fill="#0ea5ef" stroke="#0ea5ef" stroke-width="0.3" stroke-linejoin="round"/>
<polygon points="144.8,167.1 156.6,172.2 146.6,163.7" fill="#642cfe" stroke="#642cfe" stroke-width="0.3" stroke-linejoin="round"/>
<polygon points="89.2,150.4 100.8,154.2 91.1,150.1" fill="#40ecd4" stroke="#40ecd4" stroke-width="0.3" stroke-linejoin="round"/>
<polygon points="117.9,157.4 129.6,161.9 131.4,159.7" fill="#0ea5ef" stroke="#0ea5ef" stroke-width="0.3" stroke-linejoin="round"/>
<polygon points="114.3,158.5 116.1,160.2 104.5,156.0" fill="#01b3ec" stroke="#01b3ec" stroke-width="0.3" stroke-linejoin="round"/>
<polygon points="156.6,172.2 158.3,169.3 146.6,163.7" fill="#6629fe" stroke="#6629fe" stroke-width="0.3" stroke-linejoin="round"/>
<polygon points="100.8,154.2 102.6,152.9 91.1,150.1" fill="#3dead5" stroke="#3dead5" stroke-width="0.3" stroke-linejoin="round"/>
<polygon points="102.6,152.9 114.3,158.5 104.5,156.0" fill="#1acfe3" stroke="#1acfe3" stroke-width="0.3" stroke-linejoin="round"/>
<polygon points="87.4,157.0 98.9,161.8 89.2,150.4" fill="#0fc4e7" stroke="#0fc4e7" stroke-width="0.3" stroke-linejoin="round"/>
<polygon points="131.4,159.7 143.1,165.0 144.8,167.1" fill="#3473f8" stroke="#3473f8" stroke-width="0.3" stroke-linejoin="round"/>
<polygon points="58.6,152.1 70.1,155.9 72.1,157.6" fill="#14cae5" stroke="#14cae5" stroke-width="0.3" stroke-linejoin="round"/>
<polygon points="116.1,160.2 127.8,163.6 117.9,157.4" fill="#11a0f1" stroke="#11a0f1" stroke-width="0.3" stroke-linejoin="round"/>
<polygon points="127.8,163.6 129.6,161.9 117.9,157.4" fill="#11a0f1" stroke="#11a0f1" stroke-width="0.3" stroke-linejoin="round"/>
<polygon points="72.1,157.6 83.6,160.1 85.5,158.9" fill="#08acee" stroke="#08acee" stroke-width="0.3" stroke-linejoin="round"/>
<polygon points="98.9,161.8 100.8,154.2 89.2,150.4" fill="#27dade" stroke="#27dade" stroke-width="0.3" stroke-linejoin="round"/>
<polygon points="85.5,158.9 97.0,162.2 87.4,157.0" fill="#06aeed" stroke="#06aeed" stroke-width="0.3" stroke-linejoin="round"/>
<polygon points="154.9,171.4 156.6,172.2 144.8,167.1" fill="#6a22fe" stroke="#6a22fe" stroke-width="0.3" stroke-linejoin="round"/>
<polygon points="129.6,161.9 141.3,166.3 131.4,159.7" fill="#1996f3" stroke="#1996f3" stroke-width="0.3" stroke-linejoin="round"/>
<polygon points="143.1,165.0 154.9,171.4 144.8,167.1" fill="#4e4dfc" stroke="#4e4dfc" stroke-width="0.3" stroke-linejoin="round"/>
<polygon points="97.0,162.2 98.9,161.8 87.4,157.0" fill="#0ca7ef" stroke="#0ca7ef" stroke-width="0.3" stroke-linejoin="round"/>
<polygon points="100.8,154.2 114.3,158.5 102.6,152.9" fill="#32e3da" stroke="#32e3da" stroke-width="0.3" stroke-linejoin="round"/>
<polygon points="114.3,158.5 127.8,163.6 116.1,160.2" fill="#08acee" stroke="#08acee" stroke-width="0.3" stroke-linejoin="round"/>
<polygon points="141.3,166.3 143.1,165.0 131.4,159.7" fill="#208ef4" stroke="#208ef4" stroke-width="0.3" stroke-linejoin="round"/>
<polygon points="70.1,155.9 81.6,158.2 72.1,157.6" fill="#18cde4" stroke="#18cde4" stroke-width="0.3" stroke-linejoin="round"/>
<polygon points="81.6,158.2 83.6,160.1 72.1,157.6" fill="#0ac0e8" stroke="#0ac0e8" stroke-width="0.3" stroke-linejoin="round"/>
<polygon points="127.8,163.6 141.3,166.3 129.6,161.9" fill="#1c93f3" stroke="#1c93f3" stroke-width="0.3" stroke-linejoin="round"/>
<polygon points="98.9,161.8 112.4,160.1 100.8,154.2" fill="#17cbe4" stroke="#17cbe4" stroke-width="0.3" stroke-linejoin="round"/>
<polygon points="83.6,160.1 95.2,164.0 85.5,158.9" fill="#08acee" stroke="#08acee" stroke-width="0.3" stroke-linejoin="round"/>
<polygon points="100.8,154.2 112.4,160.1 114.3,158.5" fill="#27dade" stroke="#27dade" stroke-width="0.3" stroke-linejoin="round"/>
<polygon points="97.0,162.2 110.6,167.6 98.9,161.8" fill="#208ef4" stroke="#208ef4" stroke-width="0.3" stroke-linejoin="round"/>
<polygon points="141.3,166.3 154.9,171.4 143.1,165.0" fill="#396bf9" stroke="#396bf9" stroke-width="0.3" stroke-linejoin="round"/>
<polygon points="98.9,161.8 110.6,167.6 112.4,160.1" fill="#169bf2" stroke="#169bf2" stroke-width="0.3" stroke-linejoin="round"/>
<polygon points="95.2,164.0 97.0,162.2 85.5,158.9" fill="#09a9ee" stroke="#09a9ee" stroke-width="0.3" stroke-linejoin="round"/>
<polygon points="114.3,158.5 126.0,163.3 127.8,163.6" fill="#02b7eb" stroke="#02b7eb" stroke-width="0.3" stroke-linejoin="round"/>
<polygon points="127.8,163.6 139.5,168.5 141.3,166.3" fill="#2686f5" stroke="#2686f5" stroke-width="0.3" stroke-linejoin="round"/>
<polygon points="126.0,163.3 139.5,168.5 127.8,163.6" fill="#1898f2" stroke="#1898f2" stroke-width="0.3" stroke-linejoin="round"/>
<polygon points="112.4,160.1 124.2,164.9 114.3,158.5" fill="#12c8e6" stroke="#12c8e6" stroke-width="0.3" stroke-linejoin="round"/>
<polygon points="81.6,158.2 95.2,164.0 83.6,160.1" fill="#0dc2e8" stroke="#0dc2e8" stroke-width="0.3" stroke-linejoin="round"/>
<polygon points="141.3,166.3 153.2,171.5 154.9,171.4" fill="#425ffa" stroke="#425ffa" stroke-width="0.3" stroke-linejoin="round"/>
<polygon points="124.2,164.9 126.0,163.3 114.3,158.5" fill="#0ac0e8" stroke="#0ac0e8" stroke-width="0.3" stroke-linejoin="round"/>
<polygon points="97.0,162.2 108.7,165.9 110.6,167.6" fill="#1c93f3" stroke="#1c93f3" stroke-width="0.3" stroke-linejoin="round"/>
<polygon points="110.6,167.6 124.2,164.9 112.4,160.1" fill="#0ca7ef" stroke="#0ca7ef" stroke-width="0.3" stroke-linejoin="round"/>
<polygon points="139.5,168.5 153.2,171.5 141.3,166.3" fill="#3473f8" stroke="#3473f8" stroke-width="0.3" stroke-linejoin="round"/>
<polygon points="126.0,163.3 137.7,170.5 139.5,168.5" fill="#218cf4" stroke="#218cf4" stroke-width="0.3" stroke-linejoin="round"/>
<polygon points="108.7,165.9 122.3,171.6 110.6,167.6" fill="#3176f8" stroke="#3176f8" stroke-width="0.3" stroke-linejoin="round"/>
<polygon points="110.6,167.6 122.3,171.6 124.2,164.9" fill="#2e7bf7" stroke="#2e7bf7" stroke-width="0.3" stroke-linejoin="round"/>
<polygon points="95.2,164.0 106.8,167.2 97.0,162.2" fill="#09a9ee" stroke="#09a9ee" stroke-width="0.3" stroke-linejoin="round"/>
<polygon points="139.5,168.5 151.4,175.1 153.2,171.5" fill="#4856fb" stroke="#4856fb" stroke-width="0.3" stroke-linejoin="round"/>
<polygon points="124.2,164.9 137.7,170.5 126.0,163.3" fill="#10a2f0" stroke="#10a2f0" stroke-width="0.3" stroke-linejoin="round"/>
<polygon points="137.7,170.5 151.4,175.1 139.5,168.5" fill="#445cfb" stroke="#445cfb" stroke-width="0.3" stroke-linejoin="round"/>
<polygon points="106.8,167.2 108.7,165.9 97.0,162.2" fill="#09a9ee" stroke="#09a9ee" stroke-width="0.3" stroke-linejoin="round"/>
<polygon points="81.6,158.2 93.2,162.2 95.2,164.0" fill="#1acfe3" stroke="#1acfe3" stroke-width="0.3" stroke-linejoin="round"/>
<polygon points="137.7,170.5 149.5,178.9 151.4,175.1" fill="#6032fe" stroke="#6032fe" stroke-width="0.3" stroke-linejoin="round"/>
<polygon points="124.2,164.9 136.0,170.4 137.7,170.5" fill="#1c93f3" stroke="#1c93f3" stroke-width="0.3" stroke-linejoin="round"/>
<polygon points="122.3,171.6 134.1,176.7 124.2,164.9" fill="#396bf9" stroke="#396bf9" stroke-width="0.3" stroke-linejoin="round"/>
<polygon points="108.7,165.9 120.5,169.1 122.3,171.6" fill="#218cf4" stroke="#218cf4" stroke-width="0.3" stroke-linejoin="round"/>
<polygon points="136.0,170.4 149.5,178.9 137.7,170.5" fill="#4856fb" stroke="#4856fb" stroke-width="0.3" stroke-linejoin="round"/>
<polygon points="93.2,162.2 105.0,166.6 95.2,164.0" fill="#10c6e6" stroke="#10c6e6" stroke-width="0.3" stroke-linejoin="round"/>
<polygon points="105.0,166.6 106.8,167.2 95.2,164.0" fill="#00b5eb" stroke="#00b5eb" stroke-width="0.3" stroke-linejoin="round"/>
<polygon points="134.1,176.7 136.0,170.4 124.2,164.9" fill="#2981f6" stroke="#2981f6" stroke-width="0.3" stroke-linejoin="round"/>
<polygon points="106.8,167.2 118.6,170.5 108.7,165.9" fill="#09a9ee" stroke="#09a9ee" stroke-width="0.3" stroke-linejoin="round"/>
<polygon points="136.0,170.4 147.8,176.9 149.5,178.9" fill="#504afc" stroke="#504afc" stroke-width="0.3" stroke-linejoin="round"/>
<polygon points="132.3,174.2 134.1,176.7 122.3,171.6" fill="#4659fb" stroke="#4659fb" stroke-width="0.3" stroke-linejoin="round"/>
<polygon points="118.6,170.5 120.5,169.1 108.7,165.9" fill="#0ca7ef" stroke="#0ca7ef" stroke-width="0.3" stroke-linejoin="round"/>
<polygon points="120.5,169.1 132.3,174.2 122.3,171.6" fill="#2981f6" stroke="#2981f6" stroke-width="0.3" stroke-linejoin="round"/>
<polygon points="134.1,176.7 147.8,176.9 136.0,170.4" fill="#445cfb" stroke="#445cfb" stroke-width="0.3" stroke-linejoin="round"/>
<polygon points="134.1,176.7 146.0,182.8 147.8,176.9" fill="#6a22fe" stroke="#6a22fe" stroke-width="0.3" stroke-linejoin="round"/>
<polygon points="132.3,174.2 146.0,182.8 134.1,176.7" fill="#5c38fd" stroke="#5c38fd" stroke-width="0.3" stroke-linejoin="round"/>
<polygon points="105.0,166.6 116.8,169.1 106.8,167.2" fill="#12c8e6" stroke="#12c8e6" stroke-width="0.3" stroke-linejoin="round"/>
<polygon points="116.8,169.1 118.6,170.5 106.8,167.2" fill="#07bbea" stroke="#07bbea" stroke-width="0.3" stroke-linejoin="round"/>
<polygon points="118.6,170.5 130.5,176.6 120.5,169.1" fill="#1898f2" stroke="#1898f2" stroke-width="0.3" stroke-linejoin="round"/>
<polygon points="130.5,176.6 132.3,174.2 120.5,169.1" fill="#218cf4" stroke="#218cf4" stroke-width="0.3" stroke-linejoin="round"/>
<polygon points="132.3,174.2 144.2,180.1 146.0,182.8" fill="#5444fd" stroke="#5444fd" stroke-width="0.3" stroke-linejoin="round"/>
<polygon points="116.8,169.1 130.5,176.6 118.6,170.5" fill="#06aeed" stroke="#06aeed" stroke-width="0.3" stroke-linejoin="round"/>
<polygon points="130.5,176.6 142.5,180.3 132.3,174.2" fill="#2e7bf7" stroke="#2e7bf7" stroke-width="0.3" stroke-linejoin="round"/>
<polygon points="142.5,180.3 144.2,180.1 132.3,174.2" fill="#386df9" stroke="#386df9" stroke-width="0.3" stroke-linejoin="round"/>
<polygon points="116.8,169.1 128.7,173.3 130.5,176.6" fill="#04b9ea" stroke="#04b9ea" stroke-width="0.3" stroke-linejoin="round"/>
<polygon points="140.7,178.3 142.5,180.3 130.5,176.6" fill="#218cf4" stroke="#218cf4" stroke-width="0.3" stroke-linejoin="round"/>
<polygon points="128.7,173.3 140.7,178.3 130.5,176.6" fill="#08acee" stroke="#08acee" stroke-width="0.3" stroke-linejoin="round"/>
</g>
<g id="labelsB">
<text class="tk" x="325.1" y="188.6">0.0</text>
<text class="tk" x="335.2" y="191.7">0.5</text>
<text class="tk" x="345.4" y="194.8">1.0</text>
<text class="tk" x="355.7" y="197.9">1.5</text>
<text class="tk" x="366.1" y="201.1">2.0</text>
<text class="tk" x="376.7" y="204.3">2.5</text>
<text class="tk" x="387.3" y="207.6">3.0</text>
<text class="tk" x="398.1" y="210.9">3.5</text>
<text class="tk" x="408.9" y="214.2">4.0</text>
<text class="tk" x="419.9" y="217.6">4.5</text>
<text class="tk" x="431.0" y="221.1">5.0</text>
<text class="tk" x="442.3" y="224.6">5.5</text>
<text class="tk" x="459.9" y="221.9">0</text>
<text class="tk" x="467.9" y="214.1">5</text>
<text class="tk" x="475.7" y="206.5">10</text>
<text class="tk" x="483.5" y="198.9">15</text>
<text class="tk" x="491.2" y="191.5">20</text>
<text class="tk" x="498.7" y="184.1">25</text>
<text class="tk" x="506.2" y="176.9">30</text>
<text class="tk" x="513.5" y="169.9">35</text>
<text class="tk" x="520.8" y="162.9">40</text>
<text class="tk" x="526.6" y="143.8">-100</text>
<text class="tk" x="528.5" y="129.8">-80</text>
<text class="tk" x="529.0" y="115.8">-60</text>
<text class="tk" x="529.0" y="101.5">-40</text>
<text class="tk" x="529.7" y="87.4">-20</text>
<text class="tk" x="530.3" y="72.7">0</text>
<text class="al" x="376.3" y="215.7">x /m</text>
<text class="al" x="501.0" y="198.0">y /m</text>
<text class="pw" transform="translate(544.8,105.6) rotate(-90)">Power /dBm</text>
<text class="ti" style="font-size:7.95px" x="420.2" y="20.5">RSS Map of the 9-th AP</text>
</g>
<text class="cap" x="120.3" y="257.4">(<tspan dy="-.7">a</tspan><tspan dy=".7" style="font-weight:normal">)</tspan></text>
<text class="cap" x="429.7" y="257.4">(<tspan dy="-.7">b</tspan><tspan dy=".7" style="font-weight:normal">)</tspan></text>
</svg>
</body></html>
